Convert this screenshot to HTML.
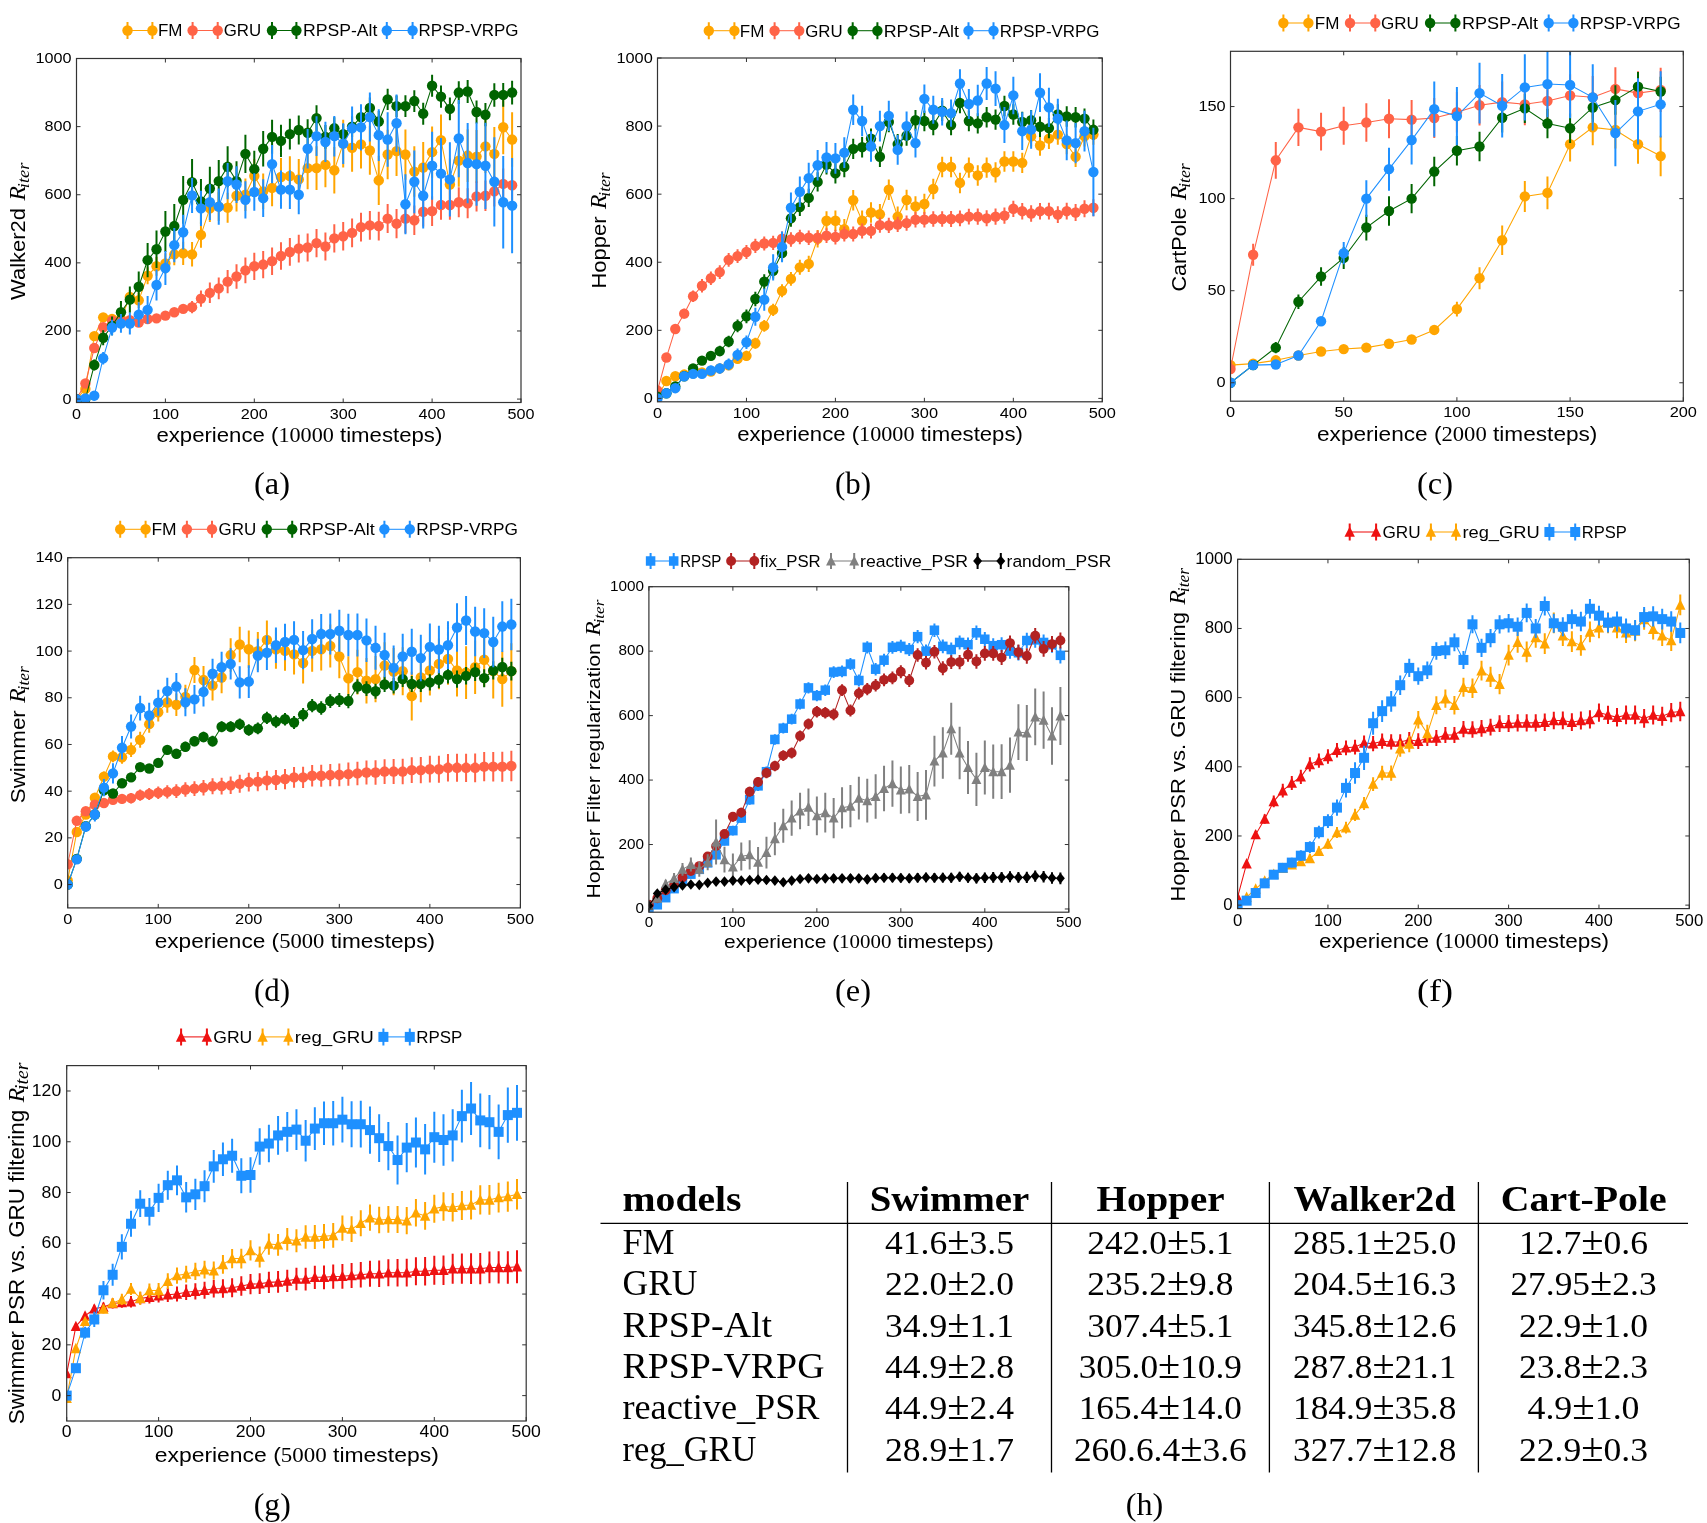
<!DOCTYPE html><html><head><meta charset="utf-8"><style>html,body{margin:0;padding:0;background:#fff;width:1707px;height:1523px;overflow:hidden}svg{display:block;will-change:transform}</style></head><body>
<svg width="1707" height="1523" viewBox="0 0 1707 1523">
<rect width="1707" height="1523" fill="#fff"/>
<g clip-path="url(#clipa)">
<clipPath id="clipa"><rect x="76.5" y="58.5" width="444.5" height="344"/></clipPath>
<path d="M76.5 400.8V397.39M85.39 391.43V386.32M94.28 339.49V332.68M103.17 321.61V313.09M112.06 324.16V313.95M120.95 325.01V313.09M129.84 303.73V290.1M138.73 307.99V292.66M147.62 284.31V267.28M156.51 275.63V256.9M165.4 273.76V253.32M174.29 265.24V243.44M183.18 264.9V241.74M192.07 266.6V242.08M200.96 247.87V221.99M209.85 221.99V194.74M218.74 220.96V192.35M227.63 222.67V192.69M236.52 211.43V180.09M245.41 211.09V178.39M254.3 193.03V158.98M263.19 209.04V173.62M272.08 206.32V169.53M280.97 196.1V157.95M289.86 195.76V156.25M298.75 199.85V158.98M307.64 189.29V147.05M316.53 189.97V146.37M325.42 187.24V142.29M334.31 193.38V147.05M343.2 167.49V119.81M352.09 171.76V123.71M360.98 168.53V120.13M369.87 174.84V126.08M378.76 204.99V155.87M387.65 179.29V129.81M396.54 176.06V126.22M405.43 179.64V129.45M414.32 196.85V146.3M423.21 192.95V142.04M432.1 177.8V126.53M440.99 166.06V114.43M449.88 210.51V158.53M458.77 186.85V134.51M467.66 181.92V129.22M476.55 183.12V130.06M485.44 173.08V119.66M494.33 180.76V126.98M503.22 154.37V100.23M512.11 166.81V112.31" stroke="#FFA500" stroke-width="2" fill="none"/>
<path d="M76.5 399.09L85.39 388.88L94.28 336.08L103.17 317.35L112.06 319.05L120.95 319.05L129.84 296.92L138.73 300.32L147.62 275.8L156.51 266.26L165.4 263.54L174.29 254.34L183.18 253.32L192.07 254.34L200.96 234.93L209.85 208.36L218.74 206.66L227.63 207.68L236.52 195.76L245.41 194.74L254.3 176L263.19 191.33L272.08 187.93L280.97 177.03L289.86 176L298.75 179.41L307.64 168.17L316.53 168.17L325.42 164.77L334.31 170.21L343.2 143.65L352.09 147.74L360.98 144.33L369.87 150.46L378.76 180.43L387.65 154.55L396.54 151.14L405.43 154.55L414.32 171.58L423.21 167.49L432.1 152.16L440.99 140.24L449.88 184.52L458.77 160.68L467.66 155.57L476.55 156.59L485.44 146.37L494.33 153.87L503.22 127.3L512.11 139.56" stroke="#FFA500" stroke-width="1.05" fill="none"/>
<circle cx="76.5" cy="399.09" r="5.2" fill="#FFA500"/>
<circle cx="85.39" cy="388.88" r="5.2" fill="#FFA500"/>
<circle cx="94.28" cy="336.08" r="5.2" fill="#FFA500"/>
<circle cx="103.17" cy="317.35" r="5.2" fill="#FFA500"/>
<circle cx="112.06" cy="319.05" r="5.2" fill="#FFA500"/>
<circle cx="120.95" cy="319.05" r="5.2" fill="#FFA500"/>
<circle cx="129.84" cy="296.92" r="5.2" fill="#FFA500"/>
<circle cx="138.73" cy="300.32" r="5.2" fill="#FFA500"/>
<circle cx="147.62" cy="275.8" r="5.2" fill="#FFA500"/>
<circle cx="156.51" cy="266.26" r="5.2" fill="#FFA500"/>
<circle cx="165.4" cy="263.54" r="5.2" fill="#FFA500"/>
<circle cx="174.29" cy="254.34" r="5.2" fill="#FFA500"/>
<circle cx="183.18" cy="253.32" r="5.2" fill="#FFA500"/>
<circle cx="192.07" cy="254.34" r="5.2" fill="#FFA500"/>
<circle cx="200.96" cy="234.93" r="5.2" fill="#FFA500"/>
<circle cx="209.85" cy="208.36" r="5.2" fill="#FFA500"/>
<circle cx="218.74" cy="206.66" r="5.2" fill="#FFA500"/>
<circle cx="227.63" cy="207.68" r="5.2" fill="#FFA500"/>
<circle cx="236.52" cy="195.76" r="5.2" fill="#FFA500"/>
<circle cx="245.41" cy="194.74" r="5.2" fill="#FFA500"/>
<circle cx="254.3" cy="176" r="5.2" fill="#FFA500"/>
<circle cx="263.19" cy="191.33" r="5.2" fill="#FFA500"/>
<circle cx="272.08" cy="187.93" r="5.2" fill="#FFA500"/>
<circle cx="280.97" cy="177.03" r="5.2" fill="#FFA500"/>
<circle cx="289.86" cy="176" r="5.2" fill="#FFA500"/>
<circle cx="298.75" cy="179.41" r="5.2" fill="#FFA500"/>
<circle cx="307.64" cy="168.17" r="5.2" fill="#FFA500"/>
<circle cx="316.53" cy="168.17" r="5.2" fill="#FFA500"/>
<circle cx="325.42" cy="164.77" r="5.2" fill="#FFA500"/>
<circle cx="334.31" cy="170.21" r="5.2" fill="#FFA500"/>
<circle cx="343.2" cy="143.65" r="5.2" fill="#FFA500"/>
<circle cx="352.09" cy="147.74" r="5.2" fill="#FFA500"/>
<circle cx="360.98" cy="144.33" r="5.2" fill="#FFA500"/>
<circle cx="369.87" cy="150.46" r="5.2" fill="#FFA500"/>
<circle cx="378.76" cy="180.43" r="5.2" fill="#FFA500"/>
<circle cx="387.65" cy="154.55" r="5.2" fill="#FFA500"/>
<circle cx="396.54" cy="151.14" r="5.2" fill="#FFA500"/>
<circle cx="405.43" cy="154.55" r="5.2" fill="#FFA500"/>
<circle cx="414.32" cy="171.58" r="5.2" fill="#FFA500"/>
<circle cx="423.21" cy="167.49" r="5.2" fill="#FFA500"/>
<circle cx="432.1" cy="152.16" r="5.2" fill="#FFA500"/>
<circle cx="440.99" cy="140.24" r="5.2" fill="#FFA500"/>
<circle cx="449.88" cy="184.52" r="5.2" fill="#FFA500"/>
<circle cx="458.77" cy="160.68" r="5.2" fill="#FFA500"/>
<circle cx="467.66" cy="155.57" r="5.2" fill="#FFA500"/>
<circle cx="476.55" cy="156.59" r="5.2" fill="#FFA500"/>
<circle cx="485.44" cy="146.37" r="5.2" fill="#FFA500"/>
<circle cx="494.33" cy="153.87" r="5.2" fill="#FFA500"/>
<circle cx="503.22" cy="127.3" r="5.2" fill="#FFA500"/>
<circle cx="512.11" cy="139.56" r="5.2" fill="#FFA500"/>
<path d="M76.5 400.8V397.39M85.39 385.7V381.16M94.28 350.84V345.17M103.17 330.63V323.82M112.06 324.24V317.28M120.95 323.63V316.52M129.84 323.71V316.44M138.73 326.17V318.75M147.62 322.84V315.27M156.51 322.23V314.51M165.4 319.58V311.71M174.29 316.25V308.23M183.18 312.92V304.75M192.07 313.26V301M200.96 306.79V290.44M209.85 303.05V282.61M218.74 299.3V277.5M227.63 293.17V270.01M236.52 288.74V264.22M245.41 283.29V257.41M254.3 279.89V252.64M263.19 278.24V250.88M272.08 274.89V247.41M280.97 269.84V242.24M289.86 265.82V238.1M298.75 262.47V234.63M307.64 261.51V233.55M316.53 257.14V229.07M325.42 260.6V232.41M334.31 252.49V224.18M343.2 250.5V222.08M352.09 247.15V218.61M360.98 241.42V212.77M369.87 239.78V211M378.76 240.52V211.63M387.65 233.08V204.07M396.54 238.25V209.12M405.43 233.2V203.96M414.32 234.96V205.6M423.21 226.51V197.03M432.1 225.88V196.29M440.99 219.81V190.1M449.88 219.87V190.04M458.77 217.21V187.26M467.66 218.29V188.22M476.55 211.53V181.35M485.44 210.91V180.61M494.33 206.54V176.12M503.22 199.11V168.57M512.11 200.53V169.87" stroke="#FF6347" stroke-width="2" fill="none"/>
<path d="M76.5 399.09L85.39 383.43L94.28 348L103.17 327.23L112.06 320.76L120.95 320.08L129.84 320.08L138.73 322.46L147.62 319.05L156.51 318.37L165.4 315.65L174.29 312.24L183.18 308.84L192.07 307.13L200.96 298.62L209.85 292.83L218.74 288.4L227.63 281.59L236.52 276.48L245.41 270.35L254.3 266.26L263.19 264.56L272.08 261.15L280.97 256.04L289.86 251.96L298.75 248.55L307.64 247.53L316.53 243.1L325.42 246.51L334.31 238.33L343.2 236.29L352.09 232.88L360.98 227.09L369.87 225.39L378.76 226.07L387.65 218.58L396.54 223.69L405.43 218.58L414.32 220.28L423.21 211.77L432.1 211.09L440.99 204.96L449.88 204.96L458.77 202.23L467.66 203.25L476.55 196.44L485.44 195.76L494.33 191.33L503.22 183.84L512.11 185.2" stroke="#FF6347" stroke-width="1.05" fill="none"/>
<circle cx="76.5" cy="399.09" r="5.2" fill="#FF6347"/>
<circle cx="85.39" cy="383.43" r="5.2" fill="#FF6347"/>
<circle cx="94.28" cy="348" r="5.2" fill="#FF6347"/>
<circle cx="103.17" cy="327.23" r="5.2" fill="#FF6347"/>
<circle cx="112.06" cy="320.76" r="5.2" fill="#FF6347"/>
<circle cx="120.95" cy="320.08" r="5.2" fill="#FF6347"/>
<circle cx="129.84" cy="320.08" r="5.2" fill="#FF6347"/>
<circle cx="138.73" cy="322.46" r="5.2" fill="#FF6347"/>
<circle cx="147.62" cy="319.05" r="5.2" fill="#FF6347"/>
<circle cx="156.51" cy="318.37" r="5.2" fill="#FF6347"/>
<circle cx="165.4" cy="315.65" r="5.2" fill="#FF6347"/>
<circle cx="174.29" cy="312.24" r="5.2" fill="#FF6347"/>
<circle cx="183.18" cy="308.84" r="5.2" fill="#FF6347"/>
<circle cx="192.07" cy="307.13" r="5.2" fill="#FF6347"/>
<circle cx="200.96" cy="298.62" r="5.2" fill="#FF6347"/>
<circle cx="209.85" cy="292.83" r="5.2" fill="#FF6347"/>
<circle cx="218.74" cy="288.4" r="5.2" fill="#FF6347"/>
<circle cx="227.63" cy="281.59" r="5.2" fill="#FF6347"/>
<circle cx="236.52" cy="276.48" r="5.2" fill="#FF6347"/>
<circle cx="245.41" cy="270.35" r="5.2" fill="#FF6347"/>
<circle cx="254.3" cy="266.26" r="5.2" fill="#FF6347"/>
<circle cx="263.19" cy="264.56" r="5.2" fill="#FF6347"/>
<circle cx="272.08" cy="261.15" r="5.2" fill="#FF6347"/>
<circle cx="280.97" cy="256.04" r="5.2" fill="#FF6347"/>
<circle cx="289.86" cy="251.96" r="5.2" fill="#FF6347"/>
<circle cx="298.75" cy="248.55" r="5.2" fill="#FF6347"/>
<circle cx="307.64" cy="247.53" r="5.2" fill="#FF6347"/>
<circle cx="316.53" cy="243.1" r="5.2" fill="#FF6347"/>
<circle cx="325.42" cy="246.51" r="5.2" fill="#FF6347"/>
<circle cx="334.31" cy="238.33" r="5.2" fill="#FF6347"/>
<circle cx="343.2" cy="236.29" r="5.2" fill="#FF6347"/>
<circle cx="352.09" cy="232.88" r="5.2" fill="#FF6347"/>
<circle cx="360.98" cy="227.09" r="5.2" fill="#FF6347"/>
<circle cx="369.87" cy="225.39" r="5.2" fill="#FF6347"/>
<circle cx="378.76" cy="226.07" r="5.2" fill="#FF6347"/>
<circle cx="387.65" cy="218.58" r="5.2" fill="#FF6347"/>
<circle cx="396.54" cy="223.69" r="5.2" fill="#FF6347"/>
<circle cx="405.43" cy="218.58" r="5.2" fill="#FF6347"/>
<circle cx="414.32" cy="220.28" r="5.2" fill="#FF6347"/>
<circle cx="423.21" cy="211.77" r="5.2" fill="#FF6347"/>
<circle cx="432.1" cy="211.09" r="5.2" fill="#FF6347"/>
<circle cx="440.99" cy="204.96" r="5.2" fill="#FF6347"/>
<circle cx="449.88" cy="204.96" r="5.2" fill="#FF6347"/>
<circle cx="458.77" cy="202.23" r="5.2" fill="#FF6347"/>
<circle cx="467.66" cy="203.25" r="5.2" fill="#FF6347"/>
<circle cx="476.55" cy="196.44" r="5.2" fill="#FF6347"/>
<circle cx="485.44" cy="195.76" r="5.2" fill="#FF6347"/>
<circle cx="494.33" cy="191.33" r="5.2" fill="#FF6347"/>
<circle cx="503.22" cy="183.84" r="5.2" fill="#FF6347"/>
<circle cx="512.11" cy="185.2" r="5.2" fill="#FF6347"/>
<path d="M76.5 400.8V397.39M85.39 402.71V395.48M94.28 370.57V359.5M103.17 345.24V330.34M112.06 335.23V316.5M120.95 323.52V300.96M129.84 312.84V286.44M138.73 301.81V271.58M147.62 277.16V243.1M156.51 267.97V230.5M165.4 251.96V211.09M174.29 248.21V203.93M183.18 223.69V176M192.07 205.3V158.98M200.96 224.03V179.07M209.85 210.4V166.81M218.74 202.23V160M227.63 187.24V146.37M236.52 200.87V161.36M245.41 172.94V134.79M254.3 187.59V150.8M263.19 166.47V131.05M272.08 153.87V119.81M280.97 157.1V124.75M289.86 149.44V118.79M298.75 144.5V115.55M307.64 146.37V119.13M316.53 130.88V105.33M325.42 148.76V124.92M334.31 139.39V117.25M343.2 144.33V123.89M352.09 136.93V116.31M360.98 127.48V106.69M369.87 118.37V97.4M378.76 132.09V110.93M387.65 110.04V88.71M396.54 116.94V95.43M405.43 117.03V95.34M414.32 112.01V90.14M423.21 124.7V102.65M432.1 96.86V74.63M440.99 107.85V85.44M449.88 120.2V97.61M458.77 103.94V81.18M467.66 103.01V80.06M476.55 123.54V100.41M485.44 126.35V103.05M494.33 106.69V83.2M503.22 106.77V83.11M512.11 104.48V80.64" stroke="#006400" stroke-width="2" fill="none"/>
<path d="M76.5 399.09L85.39 399.09L94.28 365.03L103.17 337.79L112.06 325.87L120.95 312.24L129.84 299.64L138.73 286.7L147.62 260.13L156.51 249.23L165.4 231.52L174.29 226.07L183.18 199.85L192.07 182.14L200.96 201.55L209.85 188.61L218.74 181.11L227.63 166.81L236.52 181.11L245.41 153.87L254.3 169.19L263.19 148.76L272.08 136.84L280.97 140.92L289.86 134.11L298.75 130.02L307.64 132.75L316.53 118.1L325.42 136.84L334.31 128.32L343.2 134.11L352.09 126.62L360.98 117.08L369.87 107.89L378.76 121.51L387.65 99.37L396.54 106.18L405.43 106.18L414.32 101.07L423.21 113.68L432.1 85.75L440.99 96.65L449.88 108.91L458.77 92.56L467.66 91.54L476.55 111.97L485.44 114.7L494.33 94.94L503.22 94.94L512.11 92.56" stroke="#006400" stroke-width="1.05" fill="none"/>
<circle cx="76.5" cy="399.09" r="5.2" fill="#006400"/>
<circle cx="85.39" cy="399.09" r="5.2" fill="#006400"/>
<circle cx="94.28" cy="365.03" r="5.2" fill="#006400"/>
<circle cx="103.17" cy="337.79" r="5.2" fill="#006400"/>
<circle cx="112.06" cy="325.87" r="5.2" fill="#006400"/>
<circle cx="120.95" cy="312.24" r="5.2" fill="#006400"/>
<circle cx="129.84" cy="299.64" r="5.2" fill="#006400"/>
<circle cx="138.73" cy="286.7" r="5.2" fill="#006400"/>
<circle cx="147.62" cy="260.13" r="5.2" fill="#006400"/>
<circle cx="156.51" cy="249.23" r="5.2" fill="#006400"/>
<circle cx="165.4" cy="231.52" r="5.2" fill="#006400"/>
<circle cx="174.29" cy="226.07" r="5.2" fill="#006400"/>
<circle cx="183.18" cy="199.85" r="5.2" fill="#006400"/>
<circle cx="192.07" cy="182.14" r="5.2" fill="#006400"/>
<circle cx="200.96" cy="201.55" r="5.2" fill="#006400"/>
<circle cx="209.85" cy="188.61" r="5.2" fill="#006400"/>
<circle cx="218.74" cy="181.11" r="5.2" fill="#006400"/>
<circle cx="227.63" cy="166.81" r="5.2" fill="#006400"/>
<circle cx="236.52" cy="181.11" r="5.2" fill="#006400"/>
<circle cx="245.41" cy="153.87" r="5.2" fill="#006400"/>
<circle cx="254.3" cy="169.19" r="5.2" fill="#006400"/>
<circle cx="263.19" cy="148.76" r="5.2" fill="#006400"/>
<circle cx="272.08" cy="136.84" r="5.2" fill="#006400"/>
<circle cx="280.97" cy="140.92" r="5.2" fill="#006400"/>
<circle cx="289.86" cy="134.11" r="5.2" fill="#006400"/>
<circle cx="298.75" cy="130.02" r="5.2" fill="#006400"/>
<circle cx="307.64" cy="132.75" r="5.2" fill="#006400"/>
<circle cx="316.53" cy="118.1" r="5.2" fill="#006400"/>
<circle cx="325.42" cy="136.84" r="5.2" fill="#006400"/>
<circle cx="334.31" cy="128.32" r="5.2" fill="#006400"/>
<circle cx="343.2" cy="134.11" r="5.2" fill="#006400"/>
<circle cx="352.09" cy="126.62" r="5.2" fill="#006400"/>
<circle cx="360.98" cy="117.08" r="5.2" fill="#006400"/>
<circle cx="369.87" cy="107.89" r="5.2" fill="#006400"/>
<circle cx="378.76" cy="121.51" r="5.2" fill="#006400"/>
<circle cx="387.65" cy="99.37" r="5.2" fill="#006400"/>
<circle cx="396.54" cy="106.18" r="5.2" fill="#006400"/>
<circle cx="405.43" cy="106.18" r="5.2" fill="#006400"/>
<circle cx="414.32" cy="101.07" r="5.2" fill="#006400"/>
<circle cx="423.21" cy="113.68" r="5.2" fill="#006400"/>
<circle cx="432.1" cy="85.75" r="5.2" fill="#006400"/>
<circle cx="440.99" cy="96.65" r="5.2" fill="#006400"/>
<circle cx="449.88" cy="108.91" r="5.2" fill="#006400"/>
<circle cx="458.77" cy="92.56" r="5.2" fill="#006400"/>
<circle cx="467.66" cy="91.54" r="5.2" fill="#006400"/>
<circle cx="476.55" cy="111.97" r="5.2" fill="#006400"/>
<circle cx="485.44" cy="114.7" r="5.2" fill="#006400"/>
<circle cx="494.33" cy="94.94" r="5.2" fill="#006400"/>
<circle cx="503.22" cy="94.94" r="5.2" fill="#006400"/>
<circle cx="512.11" cy="92.56" r="5.2" fill="#006400"/>
<path d="M76.5 400.8V397.39M85.39 401.65V395.18M94.28 400.46V390.92M103.17 364.52V351.92M112.06 335.4V319.74M120.95 332.85V314.12M129.84 334.38V312.58M138.73 327.06V302.2M147.62 323.82V295.89M156.51 300.49V269.5M165.4 285V250.94M174.29 262.35V227.95M183.18 249.57V214.83M192.07 212.96V177.88M200.96 226.07V190.65M209.85 220.11V184.35M218.74 224.71V188.61M227.63 199.34V162.89M236.52 202.91V166.13M245.41 218.41V181.28M254.3 210.75V173.28M263.19 217.05V179.24M272.08 183.16V145.01M280.97 208.87V170.39M289.86 209.04V170.21M298.75 214.32V175.15M307.64 168.51V129M316.53 156.08V116.23M325.42 162.04V121.85M334.31 156.42V115.89M343.2 164.08V123.21M352.09 150.12V106.52M360.98 150.46V104.14M369.87 141.6V92.56M378.76 161.02V109.25M387.65 166.81V112.31M396.54 151.82V94.6M405.43 234.25V174.3M414.32 213.13V150.46M423.21 228.46V163.06M432.1 199.85V131.73M440.99 209.19V138.05M449.88 216.5V142.32M458.77 177.14V99.94M467.66 203.18V122.95M476.55 205.71V122.46M485.44 208.93V122.65M494.33 226.45V137.14M503.22 248.4V156.06M512.11 253.32V157.95" stroke="#1E90FF" stroke-width="2" fill="none"/>
<path d="M76.5 399.09L85.39 398.41L94.28 395.69L103.17 358.22L112.06 327.57L120.95 323.48L129.84 323.48L138.73 314.63L147.62 309.86L156.51 285L165.4 267.97L174.29 245.15L183.18 232.2L192.07 195.42L200.96 208.36L209.85 202.23L218.74 206.66L227.63 181.11L236.52 184.52L245.41 199.85L254.3 192.01L263.19 198.14L272.08 164.08L280.97 189.63L289.86 189.63L298.75 194.74L307.64 148.76L316.53 136.16L325.42 141.95L334.31 136.16L343.2 143.65L352.09 128.32L360.98 127.3L369.87 117.08L378.76 135.13L387.65 139.56L396.54 123.21L405.43 204.27L414.32 181.8L423.21 195.76L432.1 165.79L440.99 173.62L449.88 179.41L458.77 138.54L467.66 163.06L476.55 164.08L485.44 165.79L494.33 181.8L503.22 202.23L512.11 205.64" stroke="#1E90FF" stroke-width="1.05" fill="none"/>
<circle cx="76.5" cy="399.09" r="5.2" fill="#1E90FF"/>
<circle cx="85.39" cy="398.41" r="5.2" fill="#1E90FF"/>
<circle cx="94.28" cy="395.69" r="5.2" fill="#1E90FF"/>
<circle cx="103.17" cy="358.22" r="5.2" fill="#1E90FF"/>
<circle cx="112.06" cy="327.57" r="5.2" fill="#1E90FF"/>
<circle cx="120.95" cy="323.48" r="5.2" fill="#1E90FF"/>
<circle cx="129.84" cy="323.48" r="5.2" fill="#1E90FF"/>
<circle cx="138.73" cy="314.63" r="5.2" fill="#1E90FF"/>
<circle cx="147.62" cy="309.86" r="5.2" fill="#1E90FF"/>
<circle cx="156.51" cy="285" r="5.2" fill="#1E90FF"/>
<circle cx="165.4" cy="267.97" r="5.2" fill="#1E90FF"/>
<circle cx="174.29" cy="245.15" r="5.2" fill="#1E90FF"/>
<circle cx="183.18" cy="232.2" r="5.2" fill="#1E90FF"/>
<circle cx="192.07" cy="195.42" r="5.2" fill="#1E90FF"/>
<circle cx="200.96" cy="208.36" r="5.2" fill="#1E90FF"/>
<circle cx="209.85" cy="202.23" r="5.2" fill="#1E90FF"/>
<circle cx="218.74" cy="206.66" r="5.2" fill="#1E90FF"/>
<circle cx="227.63" cy="181.11" r="5.2" fill="#1E90FF"/>
<circle cx="236.52" cy="184.52" r="5.2" fill="#1E90FF"/>
<circle cx="245.41" cy="199.85" r="5.2" fill="#1E90FF"/>
<circle cx="254.3" cy="192.01" r="5.2" fill="#1E90FF"/>
<circle cx="263.19" cy="198.14" r="5.2" fill="#1E90FF"/>
<circle cx="272.08" cy="164.08" r="5.2" fill="#1E90FF"/>
<circle cx="280.97" cy="189.63" r="5.2" fill="#1E90FF"/>
<circle cx="289.86" cy="189.63" r="5.2" fill="#1E90FF"/>
<circle cx="298.75" cy="194.74" r="5.2" fill="#1E90FF"/>
<circle cx="307.64" cy="148.76" r="5.2" fill="#1E90FF"/>
<circle cx="316.53" cy="136.16" r="5.2" fill="#1E90FF"/>
<circle cx="325.42" cy="141.95" r="5.2" fill="#1E90FF"/>
<circle cx="334.31" cy="136.16" r="5.2" fill="#1E90FF"/>
<circle cx="343.2" cy="143.65" r="5.2" fill="#1E90FF"/>
<circle cx="352.09" cy="128.32" r="5.2" fill="#1E90FF"/>
<circle cx="360.98" cy="127.3" r="5.2" fill="#1E90FF"/>
<circle cx="369.87" cy="117.08" r="5.2" fill="#1E90FF"/>
<circle cx="378.76" cy="135.13" r="5.2" fill="#1E90FF"/>
<circle cx="387.65" cy="139.56" r="5.2" fill="#1E90FF"/>
<circle cx="396.54" cy="123.21" r="5.2" fill="#1E90FF"/>
<circle cx="405.43" cy="204.27" r="5.2" fill="#1E90FF"/>
<circle cx="414.32" cy="181.8" r="5.2" fill="#1E90FF"/>
<circle cx="423.21" cy="195.76" r="5.2" fill="#1E90FF"/>
<circle cx="432.1" cy="165.79" r="5.2" fill="#1E90FF"/>
<circle cx="440.99" cy="173.62" r="5.2" fill="#1E90FF"/>
<circle cx="449.88" cy="179.41" r="5.2" fill="#1E90FF"/>
<circle cx="458.77" cy="138.54" r="5.2" fill="#1E90FF"/>
<circle cx="467.66" cy="163.06" r="5.2" fill="#1E90FF"/>
<circle cx="476.55" cy="164.08" r="5.2" fill="#1E90FF"/>
<circle cx="485.44" cy="165.79" r="5.2" fill="#1E90FF"/>
<circle cx="494.33" cy="181.8" r="5.2" fill="#1E90FF"/>
<circle cx="503.22" cy="202.23" r="5.2" fill="#1E90FF"/>
<circle cx="512.11" cy="205.64" r="5.2" fill="#1E90FF"/>
</g>
<rect x="76.5" y="58.5" width="444.5" height="344" fill="none" stroke="#333333" stroke-width="1.2"/>
<path d="M76.5 402.5v-4M76.5 58.5v4M165.4 402.5v-4M165.4 58.5v4M254.3 402.5v-4M254.3 58.5v4M343.2 402.5v-4M343.2 58.5v4M432.1 402.5v-4M432.1 58.5v4M521 402.5v-4M521 58.5v4M76.5 399.09h4M521 399.09h-4M76.5 330.98h4M521 330.98h-4M76.5 262.86h4M521 262.86h-4M76.5 194.74h4M521 194.74h-4M76.5 126.62h4M521 126.62h-4M76.5 58.5h4M521 58.5h-4" stroke="#333333" stroke-width="1" fill="none"/>
<text x="76.5" y="418.5" font-size="15.37" font-family='"Liberation Sans", sans-serif' text-anchor="middle" textLength="9" lengthAdjust="spacingAndGlyphs">0</text>
<text x="165.4" y="418.5" font-size="15.37" font-family='"Liberation Sans", sans-serif' text-anchor="middle" textLength="27" lengthAdjust="spacingAndGlyphs">100</text>
<text x="254.3" y="418.5" font-size="15.37" font-family='"Liberation Sans", sans-serif' text-anchor="middle" textLength="27" lengthAdjust="spacingAndGlyphs">200</text>
<text x="343.2" y="418.5" font-size="15.37" font-family='"Liberation Sans", sans-serif' text-anchor="middle" textLength="27" lengthAdjust="spacingAndGlyphs">300</text>
<text x="432.1" y="418.5" font-size="15.37" font-family='"Liberation Sans", sans-serif' text-anchor="middle" textLength="27" lengthAdjust="spacingAndGlyphs">400</text>
<text x="521" y="418.5" font-size="15.37" font-family='"Liberation Sans", sans-serif' text-anchor="middle" textLength="27" lengthAdjust="spacingAndGlyphs">500</text>
<text x="71.5" y="403.6" font-size="15.37" font-family='"Liberation Sans", sans-serif' text-anchor="end" textLength="9" lengthAdjust="spacingAndGlyphs">0</text>
<text x="71.5" y="335.48" font-size="15.37" font-family='"Liberation Sans", sans-serif' text-anchor="end" textLength="27" lengthAdjust="spacingAndGlyphs">200</text>
<text x="71.5" y="267.36" font-size="15.37" font-family='"Liberation Sans", sans-serif' text-anchor="end" textLength="27" lengthAdjust="spacingAndGlyphs">400</text>
<text x="71.5" y="199.24" font-size="15.37" font-family='"Liberation Sans", sans-serif' text-anchor="end" textLength="27" lengthAdjust="spacingAndGlyphs">600</text>
<text x="71.5" y="131.12" font-size="15.37" font-family='"Liberation Sans", sans-serif' text-anchor="end" textLength="27" lengthAdjust="spacingAndGlyphs">800</text>
<text x="71.5" y="63" font-size="15.37" font-family='"Liberation Sans", sans-serif' text-anchor="end" textLength="36" lengthAdjust="spacingAndGlyphs">1000</text>
<path d="M127.5 30.5H152.4" stroke="#FFA500" stroke-width="1.05"/>
<path d="M127.5 22v17M152.4 22v17" stroke="#FFA500" stroke-width="2"/>
<circle cx="127.5" cy="30.5" r="5.2" fill="#FFA500"/>
<circle cx="152.4" cy="30.5" r="5.2" fill="#FFA500"/>
<text x="158" y="36.44" font-size="16.5" font-family='"Liberation Sans", sans-serif' text-anchor="start" textLength="24.5" lengthAdjust="spacingAndGlyphs">FM</text>
<path d="M192.6 30.5H217.7" stroke="#FF6347" stroke-width="1.05"/>
<path d="M192.6 22v17M217.7 22v17" stroke="#FF6347" stroke-width="2"/>
<circle cx="192.6" cy="30.5" r="5.2" fill="#FF6347"/>
<circle cx="217.7" cy="30.5" r="5.2" fill="#FF6347"/>
<text x="223.7" y="36.44" font-size="16.5" font-family='"Liberation Sans", sans-serif' text-anchor="start" textLength="37.5" lengthAdjust="spacingAndGlyphs">GRU</text>
<path d="M272 30.5H296.4" stroke="#006400" stroke-width="1.05"/>
<path d="M272 22v17M296.4 22v17" stroke="#006400" stroke-width="2"/>
<circle cx="272" cy="30.5" r="5.2" fill="#006400"/>
<circle cx="296.4" cy="30.5" r="5.2" fill="#006400"/>
<text x="303" y="36.44" font-size="16.5" font-family='"Liberation Sans", sans-serif' text-anchor="start" textLength="74.4" lengthAdjust="spacingAndGlyphs">RPSP-Alt</text>
<path d="M386.8 30.5H412.6" stroke="#1E90FF" stroke-width="1.05"/>
<path d="M386.8 22v17M412.6 22v17" stroke="#1E90FF" stroke-width="2"/>
<circle cx="386.8" cy="30.5" r="5.2" fill="#1E90FF"/>
<circle cx="412.6" cy="30.5" r="5.2" fill="#1E90FF"/>
<text x="418.6" y="36.44" font-size="16.5" font-family='"Liberation Sans", sans-serif' text-anchor="start" textLength="99.8" lengthAdjust="spacingAndGlyphs">RPSP-VRPG</text>
<g transform="translate(25 300) rotate(-90)">
<text x="0" y="0" font-size="21" font-family='"Liberation Sans", sans-serif' text-anchor="start" textLength="92" lengthAdjust="spacingAndGlyphs">Walker2d</text>
<text x="99.5" y="0" font-size="22.05" font-family='"Liberation Serif", serif' text-anchor="start" textLength="14.5" lengthAdjust="spacingAndGlyphs" font-style="italic">R</text>
<text x="111.8" y="4.2" font-size="16.8" font-family='"Liberation Serif", serif' text-anchor="start" textLength="25.6" lengthAdjust="spacingAndGlyphs" font-style="italic">iter</text>
</g>
<text x="156.4" y="441.7" font-size="21" font-family='"Liberation Sans", sans-serif' textLength="285.9" lengthAdjust="spacingAndGlyphs">experience (<tspan font-family='"Liberation Serif", serif'>10000</tspan> timesteps)</text>
<text x="272" y="494" font-size="31" font-family='"Liberation Serif", serif' text-anchor="middle" textLength="36" lengthAdjust="spacingAndGlyphs">(a)</text>
<g clip-path="url(#clipb)">
<clipPath id="clipb"><rect x="657.5" y="58" width="444.8" height="343.8"/></clipPath>
<path d="M657.5 398.4V394.99M666.4 383.08V378.99M675.29 378.65V373.89M684.19 377.29V371.85M693.08 376.27V370.14M701.98 375.93V369.12M710.88 375.25V367.76M719.77 372.53V364.36M728.67 369.8V360.95M737.56 363.68V354.14M746.46 360.95V350.74M755.36 348.7V337.81M764.25 331.68V320.1M773.15 316.02V303.77M782.04 297.3V284.36M790.94 285.72V272.11M799.84 274.83V259.85M808.73 272.11V255.77M817.63 247.6V229.9M826.52 230.24V211.18M835.42 230.92V210.5M844.32 239.43V219.01M853.21 210.5V190.07M862.11 230.92V210.5M871 222.75V202.33M879.9 224.45V204.03M888.8 199.95V179.52M897.69 226.84V206.41M906.59 210.16V189.73M915.48 216.62V196.2M924.38 214.24V193.82M933.28 199.26V178.84M942.17 177.14V156.71M951.07 177.14V156.71M959.96 193.14V172.71M968.86 177.82V157.4M977.76 185.65V165.22M986.65 177.82V157.4M995.55 182.58V162.16M1004.44 171.69V151.27M1013.34 171.69V151.27M1022.24 173.05V152.63M1031.13 146.5V126.08M1040.03 155.69V135.27M1048.92 148.89V128.46M1057.82 144.8V124.38M1066.72 154.33V133.91M1075.61 166.93V146.5M1084.51 146.5V126.08M1093.4 144.8V124.38" stroke="#FFA500" stroke-width="2" fill="none"/>
<path d="M657.5 396.69L666.4 381.04L675.29 376.27L684.19 374.57L693.08 373.21L701.98 372.53L710.88 371.5L719.77 368.44L728.67 365.38L737.56 358.91L746.46 355.85L755.36 343.25L764.25 325.89L773.15 309.89L782.04 290.83L790.94 278.92L799.84 267.34L808.73 263.94L817.63 238.75L826.52 220.71L835.42 220.71L844.32 229.22L853.21 200.29L862.11 220.71L871 212.54L879.9 214.24L888.8 189.73L897.69 216.62L906.59 199.95L915.48 206.41L924.38 204.03L933.28 189.05L942.17 166.93L951.07 166.93L959.96 182.93L968.86 167.61L977.76 175.44L986.65 167.61L995.55 172.37L1004.44 161.48L1013.34 161.48L1022.24 162.84L1031.13 136.29L1040.03 145.48L1048.92 138.67L1057.82 134.59L1066.72 144.12L1075.61 156.71L1084.51 136.29L1093.4 134.59" stroke="#FFA500" stroke-width="1.05" fill="none"/>
<circle cx="657.5" cy="396.69" r="5.2" fill="#FFA500"/>
<circle cx="666.4" cy="381.04" r="5.2" fill="#FFA500"/>
<circle cx="675.29" cy="376.27" r="5.2" fill="#FFA500"/>
<circle cx="684.19" cy="374.57" r="5.2" fill="#FFA500"/>
<circle cx="693.08" cy="373.21" r="5.2" fill="#FFA500"/>
<circle cx="701.98" cy="372.53" r="5.2" fill="#FFA500"/>
<circle cx="710.88" cy="371.5" r="5.2" fill="#FFA500"/>
<circle cx="719.77" cy="368.44" r="5.2" fill="#FFA500"/>
<circle cx="728.67" cy="365.38" r="5.2" fill="#FFA500"/>
<circle cx="737.56" cy="358.91" r="5.2" fill="#FFA500"/>
<circle cx="746.46" cy="355.85" r="5.2" fill="#FFA500"/>
<circle cx="755.36" cy="343.25" r="5.2" fill="#FFA500"/>
<circle cx="764.25" cy="325.89" r="5.2" fill="#FFA500"/>
<circle cx="773.15" cy="309.89" r="5.2" fill="#FFA500"/>
<circle cx="782.04" cy="290.83" r="5.2" fill="#FFA500"/>
<circle cx="790.94" cy="278.92" r="5.2" fill="#FFA500"/>
<circle cx="799.84" cy="267.34" r="5.2" fill="#FFA500"/>
<circle cx="808.73" cy="263.94" r="5.2" fill="#FFA500"/>
<circle cx="817.63" cy="238.75" r="5.2" fill="#FFA500"/>
<circle cx="826.52" cy="220.71" r="5.2" fill="#FFA500"/>
<circle cx="835.42" cy="220.71" r="5.2" fill="#FFA500"/>
<circle cx="844.32" cy="229.22" r="5.2" fill="#FFA500"/>
<circle cx="853.21" cy="200.29" r="5.2" fill="#FFA500"/>
<circle cx="862.11" cy="220.71" r="5.2" fill="#FFA500"/>
<circle cx="871" cy="212.54" r="5.2" fill="#FFA500"/>
<circle cx="879.9" cy="214.24" r="5.2" fill="#FFA500"/>
<circle cx="888.8" cy="189.73" r="5.2" fill="#FFA500"/>
<circle cx="897.69" cy="216.62" r="5.2" fill="#FFA500"/>
<circle cx="906.59" cy="199.95" r="5.2" fill="#FFA500"/>
<circle cx="915.48" cy="206.41" r="5.2" fill="#FFA500"/>
<circle cx="924.38" cy="204.03" r="5.2" fill="#FFA500"/>
<circle cx="933.28" cy="189.05" r="5.2" fill="#FFA500"/>
<circle cx="942.17" cy="166.93" r="5.2" fill="#FFA500"/>
<circle cx="951.07" cy="166.93" r="5.2" fill="#FFA500"/>
<circle cx="959.96" cy="182.93" r="5.2" fill="#FFA500"/>
<circle cx="968.86" cy="167.61" r="5.2" fill="#FFA500"/>
<circle cx="977.76" cy="175.44" r="5.2" fill="#FFA500"/>
<circle cx="986.65" cy="167.61" r="5.2" fill="#FFA500"/>
<circle cx="995.55" cy="172.37" r="5.2" fill="#FFA500"/>
<circle cx="1004.44" cy="161.48" r="5.2" fill="#FFA500"/>
<circle cx="1013.34" cy="161.48" r="5.2" fill="#FFA500"/>
<circle cx="1022.24" cy="162.84" r="5.2" fill="#FFA500"/>
<circle cx="1031.13" cy="136.29" r="5.2" fill="#FFA500"/>
<circle cx="1040.03" cy="145.48" r="5.2" fill="#FFA500"/>
<circle cx="1048.92" cy="138.67" r="5.2" fill="#FFA500"/>
<circle cx="1057.82" cy="134.59" r="5.2" fill="#FFA500"/>
<circle cx="1066.72" cy="144.12" r="5.2" fill="#FFA500"/>
<circle cx="1075.61" cy="156.71" r="5.2" fill="#FFA500"/>
<circle cx="1084.51" cy="136.29" r="5.2" fill="#FFA500"/>
<circle cx="1093.4" cy="134.59" r="5.2" fill="#FFA500"/>
<path d="M657.5 392.27V388.86M666.4 360.27V354.83M675.29 332.7V325.21M684.19 318.4V308.87M693.08 302.06V290.49M701.98 292.53V278.92M710.88 285.08V271.39M719.77 278.99V265.22M728.67 266.78V252.93M737.56 263.07V249.15M746.46 259.03V245.02M755.36 252.94V238.86M764.25 250.59V236.44M773.15 249.95V235.72M782.04 245.91V231.59M790.94 246.63V232.24M799.84 244.28V229.81M808.73 245V230.46M817.63 245.04V230.42M826.52 243.04V228.34M835.42 244.44V229.66M844.32 241.41V226.56M853.21 241.45V226.52M862.11 238.43V223.42M871 238.46V223.38M879.9 232.72V217.55M888.8 233.1V217.85M897.69 232.11V216.79M906.59 230.79V215.39M915.48 227.42V211.95M924.38 227.46V211.91M933.28 226.82V211.19M942.17 226.86V211.16M951.07 226.9V211.12M959.96 226.26V210.4M968.86 224.59V208.66M977.76 224.63V208.62M986.65 226.37V210.28M995.55 224.71V208.54M1004.44 223.73V207.48M1013.34 216.96V200.63M1022.24 219.38V202.98M1031.13 221.8V205.32M1040.03 219.46V202.9M1048.92 219.49V202.86M1057.82 222.94V206.23M1066.72 219.57V202.78M1075.61 220.97V204.11M1084.51 217.27V200.32M1093.4 216.28V199.26" stroke="#FF6347" stroke-width="2" fill="none"/>
<path d="M657.5 390.57L666.4 357.55L675.29 328.96L684.19 313.64L693.08 296.28L701.98 285.72L710.88 278.24L719.77 272.11L728.67 259.85L737.56 256.11L746.46 252.03L755.36 245.9L764.25 243.52L773.15 242.84L782.04 238.75L790.94 239.43L799.84 237.05L808.73 237.73L817.63 237.73L826.52 235.69L835.42 237.05L844.32 233.98L853.21 233.98L862.11 230.92L871 230.92L879.9 225.13L888.8 225.47L897.69 224.45L906.59 223.09L915.48 219.69L924.38 219.69L933.28 219.01L942.17 219.01L951.07 219.01L959.96 218.33L968.86 216.62L977.76 216.62L986.65 218.33L995.55 216.62L1004.44 215.6L1013.34 208.8L1022.24 211.18L1031.13 213.56L1040.03 211.18L1048.92 211.18L1057.82 214.58L1066.72 211.18L1075.61 212.54L1084.51 208.8L1093.4 207.77" stroke="#FF6347" stroke-width="1.05" fill="none"/>
<circle cx="657.5" cy="390.57" r="5.2" fill="#FF6347"/>
<circle cx="666.4" cy="357.55" r="5.2" fill="#FF6347"/>
<circle cx="675.29" cy="328.96" r="5.2" fill="#FF6347"/>
<circle cx="684.19" cy="313.64" r="5.2" fill="#FF6347"/>
<circle cx="693.08" cy="296.28" r="5.2" fill="#FF6347"/>
<circle cx="701.98" cy="285.72" r="5.2" fill="#FF6347"/>
<circle cx="710.88" cy="278.24" r="5.2" fill="#FF6347"/>
<circle cx="719.77" cy="272.11" r="5.2" fill="#FF6347"/>
<circle cx="728.67" cy="259.85" r="5.2" fill="#FF6347"/>
<circle cx="737.56" cy="256.11" r="5.2" fill="#FF6347"/>
<circle cx="746.46" cy="252.03" r="5.2" fill="#FF6347"/>
<circle cx="755.36" cy="245.9" r="5.2" fill="#FF6347"/>
<circle cx="764.25" cy="243.52" r="5.2" fill="#FF6347"/>
<circle cx="773.15" cy="242.84" r="5.2" fill="#FF6347"/>
<circle cx="782.04" cy="238.75" r="5.2" fill="#FF6347"/>
<circle cx="790.94" cy="239.43" r="5.2" fill="#FF6347"/>
<circle cx="799.84" cy="237.05" r="5.2" fill="#FF6347"/>
<circle cx="808.73" cy="237.73" r="5.2" fill="#FF6347"/>
<circle cx="817.63" cy="237.73" r="5.2" fill="#FF6347"/>
<circle cx="826.52" cy="235.69" r="5.2" fill="#FF6347"/>
<circle cx="835.42" cy="237.05" r="5.2" fill="#FF6347"/>
<circle cx="844.32" cy="233.98" r="5.2" fill="#FF6347"/>
<circle cx="853.21" cy="233.98" r="5.2" fill="#FF6347"/>
<circle cx="862.11" cy="230.92" r="5.2" fill="#FF6347"/>
<circle cx="871" cy="230.92" r="5.2" fill="#FF6347"/>
<circle cx="879.9" cy="225.13" r="5.2" fill="#FF6347"/>
<circle cx="888.8" cy="225.47" r="5.2" fill="#FF6347"/>
<circle cx="897.69" cy="224.45" r="5.2" fill="#FF6347"/>
<circle cx="906.59" cy="223.09" r="5.2" fill="#FF6347"/>
<circle cx="915.48" cy="219.69" r="5.2" fill="#FF6347"/>
<circle cx="924.38" cy="219.69" r="5.2" fill="#FF6347"/>
<circle cx="933.28" cy="219.01" r="5.2" fill="#FF6347"/>
<circle cx="942.17" cy="219.01" r="5.2" fill="#FF6347"/>
<circle cx="951.07" cy="219.01" r="5.2" fill="#FF6347"/>
<circle cx="959.96" cy="218.33" r="5.2" fill="#FF6347"/>
<circle cx="968.86" cy="216.62" r="5.2" fill="#FF6347"/>
<circle cx="977.76" cy="216.62" r="5.2" fill="#FF6347"/>
<circle cx="986.65" cy="218.33" r="5.2" fill="#FF6347"/>
<circle cx="995.55" cy="216.62" r="5.2" fill="#FF6347"/>
<circle cx="1004.44" cy="215.6" r="5.2" fill="#FF6347"/>
<circle cx="1013.34" cy="208.8" r="5.2" fill="#FF6347"/>
<circle cx="1022.24" cy="211.18" r="5.2" fill="#FF6347"/>
<circle cx="1031.13" cy="213.56" r="5.2" fill="#FF6347"/>
<circle cx="1040.03" cy="211.18" r="5.2" fill="#FF6347"/>
<circle cx="1048.92" cy="211.18" r="5.2" fill="#FF6347"/>
<circle cx="1057.82" cy="214.58" r="5.2" fill="#FF6347"/>
<circle cx="1066.72" cy="211.18" r="5.2" fill="#FF6347"/>
<circle cx="1075.61" cy="212.54" r="5.2" fill="#FF6347"/>
<circle cx="1084.51" cy="208.8" r="5.2" fill="#FF6347"/>
<circle cx="1093.4" cy="207.77" r="5.2" fill="#FF6347"/>
<path d="M657.5 398.4V394.99M666.4 395.5V391.08M675.29 389.21V383.76M684.19 379.5V373.04M693.08 372.19V364.7M701.98 364.87V356.36M710.88 360.61V351.08M719.77 356.36V345.8M728.67 347.34V335.76M737.56 332.19V319.59M746.46 323.17V309.55M755.36 306.15V291.85M764.25 289.13V274.15M773.15 278.58V262.92M782.04 261.22V244.88M790.94 226.84V209.82M799.84 215.94V198.24M808.73 207.09V188.71M817.63 191.44V172.37M826.52 174.42V154.67M835.42 183.61V163.18M844.32 177.14V156.71M853.21 159.1V138.67M862.11 157.4V136.97M871 148.89V128.46M879.9 166.93V146.5M888.8 132.21V111.78M897.69 154.33V133.91M906.59 145.82V125.4M915.48 130.5V110.08M924.38 131.19V110.76M933.28 135.27V114.85M942.17 120.97V100.55M951.07 135.27V114.85M959.96 113.14V92.72M968.86 131.19V110.76M977.76 133.57V113.14M986.65 127.44V107.02M995.55 129.82V109.4M1004.44 116.21V95.78M1013.34 124.72V104.29M1022.24 132.21V111.78M1031.13 130.5V110.08M1040.03 136.97V116.55M1048.92 138.33V117.91M1057.82 124.72V104.29M1066.72 126.76V106.34M1075.61 127.44V107.02M1084.51 128.8V108.38M1093.4 140.04V119.61" stroke="#006400" stroke-width="2" fill="none"/>
<path d="M657.5 396.69L666.4 393.29L675.29 386.48L684.19 376.27L693.08 368.44L701.98 360.61L710.88 355.85L719.77 351.08L728.67 341.55L737.56 325.89L746.46 316.36L755.36 299L764.25 281.64L773.15 270.75L782.04 253.05L790.94 218.33L799.84 207.09L808.73 197.9L817.63 181.9L826.52 164.54L835.42 173.39L844.32 166.93L853.21 148.89L862.11 147.18L871 138.67L879.9 156.71L888.8 121.99L897.69 144.12L906.59 135.61L915.48 120.29L924.38 120.97L933.28 125.06L942.17 110.76L951.07 125.06L959.96 102.93L968.86 120.97L977.76 123.36L986.65 117.23L995.55 119.61L1004.44 106L1013.34 114.51L1022.24 121.99L1031.13 120.29L1040.03 126.76L1048.92 128.12L1057.82 114.51L1066.72 116.55L1075.61 117.23L1084.51 118.59L1093.4 129.82" stroke="#006400" stroke-width="1.05" fill="none"/>
<circle cx="657.5" cy="396.69" r="5.2" fill="#006400"/>
<circle cx="666.4" cy="393.29" r="5.2" fill="#006400"/>
<circle cx="675.29" cy="386.48" r="5.2" fill="#006400"/>
<circle cx="684.19" cy="376.27" r="5.2" fill="#006400"/>
<circle cx="693.08" cy="368.44" r="5.2" fill="#006400"/>
<circle cx="701.98" cy="360.61" r="5.2" fill="#006400"/>
<circle cx="710.88" cy="355.85" r="5.2" fill="#006400"/>
<circle cx="719.77" cy="351.08" r="5.2" fill="#006400"/>
<circle cx="728.67" cy="341.55" r="5.2" fill="#006400"/>
<circle cx="737.56" cy="325.89" r="5.2" fill="#006400"/>
<circle cx="746.46" cy="316.36" r="5.2" fill="#006400"/>
<circle cx="755.36" cy="299" r="5.2" fill="#006400"/>
<circle cx="764.25" cy="281.64" r="5.2" fill="#006400"/>
<circle cx="773.15" cy="270.75" r="5.2" fill="#006400"/>
<circle cx="782.04" cy="253.05" r="5.2" fill="#006400"/>
<circle cx="790.94" cy="218.33" r="5.2" fill="#006400"/>
<circle cx="799.84" cy="207.09" r="5.2" fill="#006400"/>
<circle cx="808.73" cy="197.9" r="5.2" fill="#006400"/>
<circle cx="817.63" cy="181.9" r="5.2" fill="#006400"/>
<circle cx="826.52" cy="164.54" r="5.2" fill="#006400"/>
<circle cx="835.42" cy="173.39" r="5.2" fill="#006400"/>
<circle cx="844.32" cy="166.93" r="5.2" fill="#006400"/>
<circle cx="853.21" cy="148.89" r="5.2" fill="#006400"/>
<circle cx="862.11" cy="147.18" r="5.2" fill="#006400"/>
<circle cx="871" cy="138.67" r="5.2" fill="#006400"/>
<circle cx="879.9" cy="156.71" r="5.2" fill="#006400"/>
<circle cx="888.8" cy="121.99" r="5.2" fill="#006400"/>
<circle cx="897.69" cy="144.12" r="5.2" fill="#006400"/>
<circle cx="906.59" cy="135.61" r="5.2" fill="#006400"/>
<circle cx="915.48" cy="120.29" r="5.2" fill="#006400"/>
<circle cx="924.38" cy="120.97" r="5.2" fill="#006400"/>
<circle cx="933.28" cy="125.06" r="5.2" fill="#006400"/>
<circle cx="942.17" cy="110.76" r="5.2" fill="#006400"/>
<circle cx="951.07" cy="125.06" r="5.2" fill="#006400"/>
<circle cx="959.96" cy="102.93" r="5.2" fill="#006400"/>
<circle cx="968.86" cy="120.97" r="5.2" fill="#006400"/>
<circle cx="977.76" cy="123.36" r="5.2" fill="#006400"/>
<circle cx="986.65" cy="117.23" r="5.2" fill="#006400"/>
<circle cx="995.55" cy="119.61" r="5.2" fill="#006400"/>
<circle cx="1004.44" cy="106" r="5.2" fill="#006400"/>
<circle cx="1013.34" cy="114.51" r="5.2" fill="#006400"/>
<circle cx="1022.24" cy="121.99" r="5.2" fill="#006400"/>
<circle cx="1031.13" cy="120.29" r="5.2" fill="#006400"/>
<circle cx="1040.03" cy="126.76" r="5.2" fill="#006400"/>
<circle cx="1048.92" cy="128.12" r="5.2" fill="#006400"/>
<circle cx="1057.82" cy="114.51" r="5.2" fill="#006400"/>
<circle cx="1066.72" cy="116.55" r="5.2" fill="#006400"/>
<circle cx="1075.61" cy="117.23" r="5.2" fill="#006400"/>
<circle cx="1084.51" cy="118.59" r="5.2" fill="#006400"/>
<circle cx="1093.4" cy="129.82" r="5.2" fill="#006400"/>
<path d="M657.5 400.1V396.69M666.4 395.5V391.08M675.29 390.91V385.46M684.19 379.5V373.04M693.08 377.63V370.14M701.98 378.14V369.63M710.88 375.25V365.72M719.77 373.72V363.17M728.67 370.14V358.57M737.56 361.12V348.53M746.46 349.04V335.42M755.36 325.64V307.77M764.25 310.74V288.62M773.15 280.53V254.15M782.04 262.24V231.6M790.94 223.09V192.46M799.84 207.09V176.46M808.73 193.48V162.84M817.63 180.54V149.91M826.52 172.71V142.08M835.42 173.73V143.1M844.32 167.95V137.31M853.21 125.06V94.42M862.11 136.29V105.66M871 161.82V131.19M879.9 141.4V110.76M888.8 130.97V100.76M897.69 164.8V135.01M906.59 140.76V111.4M915.48 157.57V128.63M924.38 113.1V84.59M933.28 123.78V95.7M942.17 125.61V97.95M951.07 126.76V99.53M959.96 97.87V69.18M968.86 119.03V88.88M977.76 116.35V84.75M986.65 100.06V67M995.55 105.9V71.37M1004.44 143.05V107.07M1013.34 114.17V76.72M1022.24 150.12V112.25M1031.13 148.63V110.34M1040.03 112.08V73.36M1048.92 126.93V87.78M1057.82 138.38V98.8M1066.72 160.37V120.38M1075.61 163.31V122.89M1084.51 151.61V110.76M1093.4 216.28V127.78" stroke="#1E90FF" stroke-width="2" fill="none"/>
<path d="M657.5 398.4L666.4 393.29L675.29 388.18L684.19 376.27L693.08 373.89L701.98 373.89L710.88 370.48L719.77 368.44L728.67 364.36L737.56 354.83L746.46 342.23L755.36 316.7L764.25 299.68L773.15 267.34L782.04 246.92L790.94 207.77L799.84 191.78L808.73 178.16L817.63 165.22L826.52 157.4L835.42 158.42L844.32 152.63L853.21 109.74L862.11 120.97L871 146.5L879.9 126.08L888.8 115.87L897.69 149.91L906.59 126.08L915.48 143.1L924.38 98.85L933.28 109.74L942.17 111.78L951.07 113.14L959.96 83.53L968.86 103.95L977.76 100.55L986.65 83.53L995.55 88.64L1004.44 125.06L1013.34 95.44L1022.24 131.19L1031.13 129.48L1040.03 92.72L1048.92 107.36L1057.82 118.59L1066.72 140.38L1075.61 143.1L1084.51 131.19L1093.4 172.03" stroke="#1E90FF" stroke-width="1.05" fill="none"/>
<circle cx="657.5" cy="398.4" r="5.2" fill="#1E90FF"/>
<circle cx="666.4" cy="393.29" r="5.2" fill="#1E90FF"/>
<circle cx="675.29" cy="388.18" r="5.2" fill="#1E90FF"/>
<circle cx="684.19" cy="376.27" r="5.2" fill="#1E90FF"/>
<circle cx="693.08" cy="373.89" r="5.2" fill="#1E90FF"/>
<circle cx="701.98" cy="373.89" r="5.2" fill="#1E90FF"/>
<circle cx="710.88" cy="370.48" r="5.2" fill="#1E90FF"/>
<circle cx="719.77" cy="368.44" r="5.2" fill="#1E90FF"/>
<circle cx="728.67" cy="364.36" r="5.2" fill="#1E90FF"/>
<circle cx="737.56" cy="354.83" r="5.2" fill="#1E90FF"/>
<circle cx="746.46" cy="342.23" r="5.2" fill="#1E90FF"/>
<circle cx="755.36" cy="316.7" r="5.2" fill="#1E90FF"/>
<circle cx="764.25" cy="299.68" r="5.2" fill="#1E90FF"/>
<circle cx="773.15" cy="267.34" r="5.2" fill="#1E90FF"/>
<circle cx="782.04" cy="246.92" r="5.2" fill="#1E90FF"/>
<circle cx="790.94" cy="207.77" r="5.2" fill="#1E90FF"/>
<circle cx="799.84" cy="191.78" r="5.2" fill="#1E90FF"/>
<circle cx="808.73" cy="178.16" r="5.2" fill="#1E90FF"/>
<circle cx="817.63" cy="165.22" r="5.2" fill="#1E90FF"/>
<circle cx="826.52" cy="157.4" r="5.2" fill="#1E90FF"/>
<circle cx="835.42" cy="158.42" r="5.2" fill="#1E90FF"/>
<circle cx="844.32" cy="152.63" r="5.2" fill="#1E90FF"/>
<circle cx="853.21" cy="109.74" r="5.2" fill="#1E90FF"/>
<circle cx="862.11" cy="120.97" r="5.2" fill="#1E90FF"/>
<circle cx="871" cy="146.5" r="5.2" fill="#1E90FF"/>
<circle cx="879.9" cy="126.08" r="5.2" fill="#1E90FF"/>
<circle cx="888.8" cy="115.87" r="5.2" fill="#1E90FF"/>
<circle cx="897.69" cy="149.91" r="5.2" fill="#1E90FF"/>
<circle cx="906.59" cy="126.08" r="5.2" fill="#1E90FF"/>
<circle cx="915.48" cy="143.1" r="5.2" fill="#1E90FF"/>
<circle cx="924.38" cy="98.85" r="5.2" fill="#1E90FF"/>
<circle cx="933.28" cy="109.74" r="5.2" fill="#1E90FF"/>
<circle cx="942.17" cy="111.78" r="5.2" fill="#1E90FF"/>
<circle cx="951.07" cy="113.14" r="5.2" fill="#1E90FF"/>
<circle cx="959.96" cy="83.53" r="5.2" fill="#1E90FF"/>
<circle cx="968.86" cy="103.95" r="5.2" fill="#1E90FF"/>
<circle cx="977.76" cy="100.55" r="5.2" fill="#1E90FF"/>
<circle cx="986.65" cy="83.53" r="5.2" fill="#1E90FF"/>
<circle cx="995.55" cy="88.64" r="5.2" fill="#1E90FF"/>
<circle cx="1004.44" cy="125.06" r="5.2" fill="#1E90FF"/>
<circle cx="1013.34" cy="95.44" r="5.2" fill="#1E90FF"/>
<circle cx="1022.24" cy="131.19" r="5.2" fill="#1E90FF"/>
<circle cx="1031.13" cy="129.48" r="5.2" fill="#1E90FF"/>
<circle cx="1040.03" cy="92.72" r="5.2" fill="#1E90FF"/>
<circle cx="1048.92" cy="107.36" r="5.2" fill="#1E90FF"/>
<circle cx="1057.82" cy="118.59" r="5.2" fill="#1E90FF"/>
<circle cx="1066.72" cy="140.38" r="5.2" fill="#1E90FF"/>
<circle cx="1075.61" cy="143.1" r="5.2" fill="#1E90FF"/>
<circle cx="1084.51" cy="131.19" r="5.2" fill="#1E90FF"/>
<circle cx="1093.4" cy="172.03" r="5.2" fill="#1E90FF"/>
</g>
<rect x="657.5" y="58" width="444.8" height="343.8" fill="none" stroke="#333333" stroke-width="1.2"/>
<path d="M657.5 401.8v-4M657.5 58v4M746.46 401.8v-4M746.46 58v4M835.42 401.8v-4M835.42 58v4M924.38 401.8v-4M924.38 58v4M1013.34 401.8v-4M1013.34 58v4M1102.3 401.8v-4M1102.3 58v4M657.5 398.4h4M1102.3 398.4h-4M657.5 330.32h4M1102.3 330.32h-4M657.5 262.24h4M1102.3 262.24h-4M657.5 194.16h4M1102.3 194.16h-4M657.5 126.08h4M1102.3 126.08h-4M657.5 58h4M1102.3 58h-4" stroke="#333333" stroke-width="1" fill="none"/>
<text x="657.5" y="417.8" font-size="15.54" font-family='"Liberation Sans", sans-serif' text-anchor="middle" textLength="9.1" lengthAdjust="spacingAndGlyphs">0</text>
<text x="746.46" y="417.8" font-size="15.54" font-family='"Liberation Sans", sans-serif' text-anchor="middle" textLength="27.3" lengthAdjust="spacingAndGlyphs">100</text>
<text x="835.42" y="417.8" font-size="15.54" font-family='"Liberation Sans", sans-serif' text-anchor="middle" textLength="27.3" lengthAdjust="spacingAndGlyphs">200</text>
<text x="924.38" y="417.8" font-size="15.54" font-family='"Liberation Sans", sans-serif' text-anchor="middle" textLength="27.3" lengthAdjust="spacingAndGlyphs">300</text>
<text x="1013.34" y="417.8" font-size="15.54" font-family='"Liberation Sans", sans-serif' text-anchor="middle" textLength="27.3" lengthAdjust="spacingAndGlyphs">400</text>
<text x="1102.3" y="417.8" font-size="15.54" font-family='"Liberation Sans", sans-serif' text-anchor="middle" textLength="27.3" lengthAdjust="spacingAndGlyphs">500</text>
<text x="652.8" y="402.96" font-size="15.54" font-family='"Liberation Sans", sans-serif' text-anchor="end" textLength="9.1" lengthAdjust="spacingAndGlyphs">0</text>
<text x="652.8" y="334.88" font-size="15.54" font-family='"Liberation Sans", sans-serif' text-anchor="end" textLength="27.3" lengthAdjust="spacingAndGlyphs">200</text>
<text x="652.8" y="266.8" font-size="15.54" font-family='"Liberation Sans", sans-serif' text-anchor="end" textLength="27.3" lengthAdjust="spacingAndGlyphs">400</text>
<text x="652.8" y="198.72" font-size="15.54" font-family='"Liberation Sans", sans-serif' text-anchor="end" textLength="27.3" lengthAdjust="spacingAndGlyphs">600</text>
<text x="652.8" y="130.64" font-size="15.54" font-family='"Liberation Sans", sans-serif' text-anchor="end" textLength="27.3" lengthAdjust="spacingAndGlyphs">800</text>
<text x="652.8" y="62.56" font-size="15.54" font-family='"Liberation Sans", sans-serif' text-anchor="end" textLength="36.4" lengthAdjust="spacingAndGlyphs">1000</text>
<path d="M708.8 30.7H734.4" stroke="#FFA500" stroke-width="1.05"/>
<path d="M708.8 22.2v17M734.4 22.2v17" stroke="#FFA500" stroke-width="2"/>
<circle cx="708.8" cy="30.7" r="5.2" fill="#FFA500"/>
<circle cx="734.4" cy="30.7" r="5.2" fill="#FFA500"/>
<text x="739.8" y="36.64" font-size="16.5" font-family='"Liberation Sans", sans-serif' text-anchor="start" textLength="24.6" lengthAdjust="spacingAndGlyphs">FM</text>
<path d="M774.6 30.7H799.2" stroke="#FF6347" stroke-width="1.05"/>
<path d="M774.6 22.2v17M799.2 22.2v17" stroke="#FF6347" stroke-width="2"/>
<circle cx="774.6" cy="30.7" r="5.2" fill="#FF6347"/>
<circle cx="799.2" cy="30.7" r="5.2" fill="#FF6347"/>
<text x="805.2" y="36.64" font-size="16.5" font-family='"Liberation Sans", sans-serif' text-anchor="start" textLength="37.4" lengthAdjust="spacingAndGlyphs">GRU</text>
<path d="M852.7 30.7H877.4" stroke="#006400" stroke-width="1.05"/>
<path d="M852.7 22.2v17M877.4 22.2v17" stroke="#006400" stroke-width="2"/>
<circle cx="852.7" cy="30.7" r="5.2" fill="#006400"/>
<circle cx="877.4" cy="30.7" r="5.2" fill="#006400"/>
<text x="883.7" y="36.64" font-size="16.5" font-family='"Liberation Sans", sans-serif' text-anchor="start" textLength="75.3" lengthAdjust="spacingAndGlyphs">RPSP-Alt</text>
<path d="M968.5 30.7H993.5" stroke="#1E90FF" stroke-width="1.05"/>
<path d="M968.5 22.2v17M993.5 22.2v17" stroke="#1E90FF" stroke-width="2"/>
<circle cx="968.5" cy="30.7" r="5.2" fill="#1E90FF"/>
<circle cx="993.5" cy="30.7" r="5.2" fill="#1E90FF"/>
<text x="999.8" y="36.64" font-size="16.5" font-family='"Liberation Sans", sans-serif' text-anchor="start" textLength="99.7" lengthAdjust="spacingAndGlyphs">RPSP-VRPG</text>
<g transform="translate(606 288.5) rotate(-90)">
<text x="0" y="0" font-size="21" font-family='"Liberation Sans", sans-serif' text-anchor="start" textLength="72" lengthAdjust="spacingAndGlyphs">Hopper</text>
<text x="79.5" y="0" font-size="22.05" font-family='"Liberation Serif", serif' text-anchor="start" textLength="14.5" lengthAdjust="spacingAndGlyphs" font-style="italic">R</text>
<text x="91.8" y="4.2" font-size="16.8" font-family='"Liberation Serif", serif' text-anchor="start" textLength="24.3" lengthAdjust="spacingAndGlyphs" font-style="italic">iter</text>
</g>
<text x="737.2" y="441.3" font-size="21" font-family='"Liberation Sans", sans-serif' textLength="285.7" lengthAdjust="spacingAndGlyphs">experience (<tspan font-family='"Liberation Serif", serif'>10000</tspan> timesteps)</text>
<text x="853" y="494" font-size="31" font-family='"Liberation Serif", serif' text-anchor="middle" textLength="36" lengthAdjust="spacingAndGlyphs">(b)</text>
<g clip-path="url(#clipc)">
<clipPath id="clipc"><rect x="1230.5" y="51.3" width="452.8" height="349.9"/></clipPath>
<path d="M1230.5 366.95V363.26M1253.14 365.68V361.59M1275.78 362.57V358.07M1298.42 357.98V353.07M1321.06 354.14V348.82M1343.7 351.95V346.22M1366.34 350.68V344.54M1388.98 347.02V340.47M1411.62 342.99V336.03M1434.26 333.61V326.25M1456.9 316.49V301.75M1479.54 289.23V267.13M1502.18 254.98V225.51M1524.82 211.94V180.89M1547.46 209.23V176.61M1570.1 161.4V127.2M1592.74 145.25V109.47M1615.38 148.61V111.26M1638.02 163.77V124.83M1660.66 176.34V135.83" stroke="#FFA500" stroke-width="2" fill="none"/>
<path d="M1230.5 365.11L1253.14 363.63L1275.78 360.32L1298.42 355.53L1321.06 351.48L1343.7 349.08L1366.34 347.61L1388.98 343.74L1411.62 339.51L1434.26 329.93L1456.9 309.12L1479.54 278.18L1502.18 240.25L1524.82 196.42L1547.46 192.92L1570.1 144.3L1592.74 127.36L1615.38 129.94L1638.02 144.3L1660.66 156.09" stroke="#FFA500" stroke-width="1.05" fill="none"/>
<circle cx="1230.5" cy="365.11" r="5.2" fill="#FFA500"/>
<circle cx="1253.14" cy="363.63" r="5.2" fill="#FFA500"/>
<circle cx="1275.78" cy="360.32" r="5.2" fill="#FFA500"/>
<circle cx="1298.42" cy="355.53" r="5.2" fill="#FFA500"/>
<circle cx="1321.06" cy="351.48" r="5.2" fill="#FFA500"/>
<circle cx="1343.7" cy="349.08" r="5.2" fill="#FFA500"/>
<circle cx="1366.34" cy="347.61" r="5.2" fill="#FFA500"/>
<circle cx="1388.98" cy="343.74" r="5.2" fill="#FFA500"/>
<circle cx="1411.62" cy="339.51" r="5.2" fill="#FFA500"/>
<circle cx="1434.26" cy="329.93" r="5.2" fill="#FFA500"/>
<circle cx="1456.9" cy="309.12" r="5.2" fill="#FFA500"/>
<circle cx="1479.54" cy="278.18" r="5.2" fill="#FFA500"/>
<circle cx="1502.18" cy="240.25" r="5.2" fill="#FFA500"/>
<circle cx="1524.82" cy="196.42" r="5.2" fill="#FFA500"/>
<circle cx="1547.46" cy="192.92" r="5.2" fill="#FFA500"/>
<circle cx="1570.1" cy="144.3" r="5.2" fill="#FFA500"/>
<circle cx="1592.74" cy="127.36" r="5.2" fill="#FFA500"/>
<circle cx="1615.38" cy="129.94" r="5.2" fill="#FFA500"/>
<circle cx="1638.02" cy="144.3" r="5.2" fill="#FFA500"/>
<circle cx="1660.66" cy="156.09" r="5.2" fill="#FFA500"/>
<path d="M1230.5 372.66V365.29M1253.14 265.84V243.75M1275.78 178.74V141.91M1298.42 145.99V108.72M1321.06 150.44V112.74M1343.7 144.77V106.63M1366.34 141.85V103.29M1388.98 138.2V99.2M1411.62 139.34V99.91M1434.26 137.9V98.03M1456.9 132.41V92.11M1479.54 125.62V84.89M1502.18 122.71V81.55M1524.82 125.14V83.54M1547.46 122.04V80.01M1570.1 116.73V74.27M1592.74 118.79V75.89M1615.38 110.53V67.2M1638.02 114.99V71.22M1660.66 112.07V67.87" stroke="#FF6347" stroke-width="2" fill="none"/>
<path d="M1230.5 368.97L1253.14 254.79L1275.78 160.32L1298.42 127.36L1321.06 131.59L1343.7 125.7L1366.34 122.57L1388.98 118.7L1411.62 119.62L1434.26 117.97L1456.9 112.26L1479.54 105.26L1502.18 102.13L1524.82 104.34L1547.46 101.02L1570.1 95.5L1592.74 97.34L1615.38 88.87L1638.02 93.1L1660.66 89.97" stroke="#FF6347" stroke-width="1.05" fill="none"/>
<circle cx="1230.5" cy="368.97" r="5.2" fill="#FF6347"/>
<circle cx="1253.14" cy="254.79" r="5.2" fill="#FF6347"/>
<circle cx="1275.78" cy="160.32" r="5.2" fill="#FF6347"/>
<circle cx="1298.42" cy="127.36" r="5.2" fill="#FF6347"/>
<circle cx="1321.06" cy="131.59" r="5.2" fill="#FF6347"/>
<circle cx="1343.7" cy="125.7" r="5.2" fill="#FF6347"/>
<circle cx="1366.34" cy="122.57" r="5.2" fill="#FF6347"/>
<circle cx="1388.98" cy="118.7" r="5.2" fill="#FF6347"/>
<circle cx="1411.62" cy="119.62" r="5.2" fill="#FF6347"/>
<circle cx="1434.26" cy="117.97" r="5.2" fill="#FF6347"/>
<circle cx="1456.9" cy="112.26" r="5.2" fill="#FF6347"/>
<circle cx="1479.54" cy="105.26" r="5.2" fill="#FF6347"/>
<circle cx="1502.18" cy="102.13" r="5.2" fill="#FF6347"/>
<circle cx="1524.82" cy="104.34" r="5.2" fill="#FF6347"/>
<circle cx="1547.46" cy="101.02" r="5.2" fill="#FF6347"/>
<circle cx="1570.1" cy="95.5" r="5.2" fill="#FF6347"/>
<circle cx="1592.74" cy="97.34" r="5.2" fill="#FF6347"/>
<circle cx="1615.38" cy="88.87" r="5.2" fill="#FF6347"/>
<circle cx="1638.02" cy="93.1" r="5.2" fill="#FF6347"/>
<circle cx="1660.66" cy="89.97" r="5.2" fill="#FF6347"/>
<path d="M1230.5 384.63V380.94M1253.14 368.79V361.42M1275.78 353.13V342.09M1298.42 309.12V294.39M1321.06 285.73V267.32M1343.7 268.97V246.88M1366.34 240.43V214.65M1388.98 225.7V196.23M1411.62 213.36V183.89M1434.26 186.29V156.82M1456.9 165.48V136.01M1479.54 161.24V131.78M1502.18 132.51V103.05M1524.82 123.12V93.66M1547.46 138.22V108.76M1570.1 143.01V113.55M1592.74 122.2V92.74M1615.38 114.83V85.37M1638.02 101.39V71.93M1660.66 106.18V76.71" stroke="#006400" stroke-width="2" fill="none"/>
<path d="M1230.5 382.78L1253.14 365.11L1275.78 347.61L1298.42 301.75L1321.06 276.53L1343.7 257.93L1366.34 227.54L1388.98 210.96L1411.62 198.63L1434.26 171.56L1456.9 150.75L1479.54 146.51L1502.18 117.78L1524.82 108.39L1547.46 123.49L1570.1 128.28L1592.74 107.47L1615.38 100.1L1638.02 86.66L1660.66 91.45" stroke="#006400" stroke-width="1.05" fill="none"/>
<circle cx="1230.5" cy="382.78" r="5.2" fill="#006400"/>
<circle cx="1253.14" cy="365.11" r="5.2" fill="#006400"/>
<circle cx="1275.78" cy="347.61" r="5.2" fill="#006400"/>
<circle cx="1298.42" cy="301.75" r="5.2" fill="#006400"/>
<circle cx="1321.06" cy="276.53" r="5.2" fill="#006400"/>
<circle cx="1343.7" cy="257.93" r="5.2" fill="#006400"/>
<circle cx="1366.34" cy="227.54" r="5.2" fill="#006400"/>
<circle cx="1388.98" cy="210.96" r="5.2" fill="#006400"/>
<circle cx="1411.62" cy="198.63" r="5.2" fill="#006400"/>
<circle cx="1434.26" cy="171.56" r="5.2" fill="#006400"/>
<circle cx="1456.9" cy="150.75" r="5.2" fill="#006400"/>
<circle cx="1479.54" cy="146.51" r="5.2" fill="#006400"/>
<circle cx="1502.18" cy="117.78" r="5.2" fill="#006400"/>
<circle cx="1524.82" cy="108.39" r="5.2" fill="#006400"/>
<circle cx="1547.46" cy="123.49" r="5.2" fill="#006400"/>
<circle cx="1570.1" cy="128.28" r="5.2" fill="#006400"/>
<circle cx="1592.74" cy="107.47" r="5.2" fill="#006400"/>
<circle cx="1615.38" cy="100.1" r="5.2" fill="#006400"/>
<circle cx="1638.02" cy="86.66" r="5.2" fill="#006400"/>
<circle cx="1660.66" cy="91.45" r="5.2" fill="#006400"/>
<path d="M1230.5 384.63V380.94M1253.14 367.41V362.8M1275.78 367.31V361.79M1298.42 358.75V352.31M1321.06 324.96V317.59M1343.7 264.19V242.09M1366.34 217.04V180.21M1388.98 190.65V147.68M1411.62 164.62V115.51M1434.26 136.75V81.5M1456.9 145.13V87.12M1479.54 123.49V62.72M1502.18 137.58V74.04M1524.82 120.54V54.25M1547.46 117.23V50.93M1570.1 118.15V51.85M1592.74 130.49V64.19M1615.38 166.21V99.92M1638.02 144.48V78.19M1660.66 137.49V71.19" stroke="#1E90FF" stroke-width="2" fill="none"/>
<path d="M1230.5 382.78L1253.14 365.11L1275.78 364.55L1298.42 355.53L1321.06 321.28L1343.7 253.14L1366.34 198.63L1388.98 169.16L1411.62 140.06L1434.26 109.13L1456.9 116.12L1479.54 93.1L1502.18 105.81L1524.82 87.39L1547.46 84.08L1570.1 85L1592.74 97.34L1615.38 133.07L1638.02 111.34L1660.66 104.34" stroke="#1E90FF" stroke-width="1.05" fill="none"/>
<circle cx="1230.5" cy="382.78" r="5.2" fill="#1E90FF"/>
<circle cx="1253.14" cy="365.11" r="5.2" fill="#1E90FF"/>
<circle cx="1275.78" cy="364.55" r="5.2" fill="#1E90FF"/>
<circle cx="1298.42" cy="355.53" r="5.2" fill="#1E90FF"/>
<circle cx="1321.06" cy="321.28" r="5.2" fill="#1E90FF"/>
<circle cx="1343.7" cy="253.14" r="5.2" fill="#1E90FF"/>
<circle cx="1366.34" cy="198.63" r="5.2" fill="#1E90FF"/>
<circle cx="1388.98" cy="169.16" r="5.2" fill="#1E90FF"/>
<circle cx="1411.62" cy="140.06" r="5.2" fill="#1E90FF"/>
<circle cx="1434.26" cy="109.13" r="5.2" fill="#1E90FF"/>
<circle cx="1456.9" cy="116.12" r="5.2" fill="#1E90FF"/>
<circle cx="1479.54" cy="93.1" r="5.2" fill="#1E90FF"/>
<circle cx="1502.18" cy="105.81" r="5.2" fill="#1E90FF"/>
<circle cx="1524.82" cy="87.39" r="5.2" fill="#1E90FF"/>
<circle cx="1547.46" cy="84.08" r="5.2" fill="#1E90FF"/>
<circle cx="1570.1" cy="85" r="5.2" fill="#1E90FF"/>
<circle cx="1592.74" cy="97.34" r="5.2" fill="#1E90FF"/>
<circle cx="1615.38" cy="133.07" r="5.2" fill="#1E90FF"/>
<circle cx="1638.02" cy="111.34" r="5.2" fill="#1E90FF"/>
<circle cx="1660.66" cy="104.34" r="5.2" fill="#1E90FF"/>
</g>
<rect x="1230.5" y="51.3" width="452.8" height="349.9" fill="none" stroke="#333333" stroke-width="1.2"/>
<path d="M1230.5 401.2v-4M1230.5 51.3v4M1343.7 401.2v-4M1343.7 51.3v4M1456.9 401.2v-4M1456.9 51.3v4M1570.1 401.2v-4M1570.1 51.3v4M1683.3 401.2v-4M1683.3 51.3v4M1230.5 382.78h4M1683.3 382.78h-4M1230.5 290.71h4M1683.3 290.71h-4M1230.5 198.63h4M1683.3 198.63h-4M1230.5 106.55h4M1683.3 106.55h-4" stroke="#333333" stroke-width="1" fill="none"/>
<text x="1230.5" y="417" font-size="15.54" font-family='"Liberation Sans", sans-serif' text-anchor="middle" textLength="9.1" lengthAdjust="spacingAndGlyphs">0</text>
<text x="1343.7" y="417" font-size="15.54" font-family='"Liberation Sans", sans-serif' text-anchor="middle" textLength="18.2" lengthAdjust="spacingAndGlyphs">50</text>
<text x="1456.9" y="417" font-size="15.54" font-family='"Liberation Sans", sans-serif' text-anchor="middle" textLength="27.3" lengthAdjust="spacingAndGlyphs">100</text>
<text x="1570.1" y="417" font-size="15.54" font-family='"Liberation Sans", sans-serif' text-anchor="middle" textLength="27.3" lengthAdjust="spacingAndGlyphs">150</text>
<text x="1683.3" y="417" font-size="15.54" font-family='"Liberation Sans", sans-serif' text-anchor="middle" textLength="27.3" lengthAdjust="spacingAndGlyphs">200</text>
<text x="1225.7" y="387.35" font-size="15.54" font-family='"Liberation Sans", sans-serif' text-anchor="end" textLength="9.1" lengthAdjust="spacingAndGlyphs">0</text>
<text x="1225.7" y="295.27" font-size="15.54" font-family='"Liberation Sans", sans-serif' text-anchor="end" textLength="18.2" lengthAdjust="spacingAndGlyphs">50</text>
<text x="1225.7" y="203.19" font-size="15.54" font-family='"Liberation Sans", sans-serif' text-anchor="end" textLength="27.3" lengthAdjust="spacingAndGlyphs">100</text>
<text x="1225.7" y="111.11" font-size="15.54" font-family='"Liberation Sans", sans-serif' text-anchor="end" textLength="27.3" lengthAdjust="spacingAndGlyphs">150</text>
<path d="M1283.4 23H1308.4" stroke="#FFA500" stroke-width="1.05"/>
<path d="M1283.4 14.5v17M1308.4 14.5v17" stroke="#FFA500" stroke-width="2"/>
<circle cx="1283.4" cy="23" r="5.2" fill="#FFA500"/>
<circle cx="1308.4" cy="23" r="5.2" fill="#FFA500"/>
<text x="1314.8" y="28.94" font-size="16.5" font-family='"Liberation Sans", sans-serif' text-anchor="start" textLength="24.6" lengthAdjust="spacingAndGlyphs">FM</text>
<path d="M1350 23H1375.3" stroke="#FF6347" stroke-width="1.05"/>
<path d="M1350 14.5v17M1375.3 14.5v17" stroke="#FF6347" stroke-width="2"/>
<circle cx="1350" cy="23" r="5.2" fill="#FF6347"/>
<circle cx="1375.3" cy="23" r="5.2" fill="#FF6347"/>
<text x="1381.1" y="28.94" font-size="16.5" font-family='"Liberation Sans", sans-serif' text-anchor="start" textLength="37.8" lengthAdjust="spacingAndGlyphs">GRU</text>
<path d="M1430.1 23H1455.4" stroke="#006400" stroke-width="1.05"/>
<path d="M1430.1 14.5v17M1455.4 14.5v17" stroke="#006400" stroke-width="2"/>
<circle cx="1430.1" cy="23" r="5.2" fill="#006400"/>
<circle cx="1455.4" cy="23" r="5.2" fill="#006400"/>
<text x="1461.9" y="28.94" font-size="16.5" font-family='"Liberation Sans", sans-serif' text-anchor="start" textLength="76.2" lengthAdjust="spacingAndGlyphs">RPSP-Alt</text>
<path d="M1548.7 23H1573.4" stroke="#1E90FF" stroke-width="1.05"/>
<path d="M1548.7 14.5v17M1573.4 14.5v17" stroke="#1E90FF" stroke-width="2"/>
<circle cx="1548.7" cy="23" r="5.2" fill="#1E90FF"/>
<circle cx="1573.4" cy="23" r="5.2" fill="#1E90FF"/>
<text x="1579.8" y="28.94" font-size="16.5" font-family='"Liberation Sans", sans-serif' text-anchor="start" textLength="100.9" lengthAdjust="spacingAndGlyphs">RPSP-VRPG</text>
<g transform="translate(1186 291.6) rotate(-90)">
<text x="0" y="0" font-size="21" font-family='"Liberation Sans", sans-serif' text-anchor="start" textLength="84" lengthAdjust="spacingAndGlyphs">CartPole</text>
<text x="91.5" y="0" font-size="22.05" font-family='"Liberation Serif", serif' text-anchor="start" textLength="14.5" lengthAdjust="spacingAndGlyphs" font-style="italic">R</text>
<text x="103.8" y="4.2" font-size="16.8" font-family='"Liberation Serif", serif' text-anchor="start" textLength="24.4" lengthAdjust="spacingAndGlyphs" font-style="italic">iter</text>
</g>
<text x="1317" y="440.6" font-size="21" font-family='"Liberation Sans", sans-serif' textLength="280.4" lengthAdjust="spacingAndGlyphs">experience (<tspan font-family='"Liberation Serif", serif'>2000</tspan> timesteps)</text>
<text x="1435" y="494" font-size="31" font-family='"Liberation Serif", serif' text-anchor="middle" textLength="36" lengthAdjust="spacingAndGlyphs">(c)</text>
<g clip-path="url(#clipd)">
<clipPath id="clipd"><rect x="67.7" y="557.7" width="452.7" height="350.2"/></clipPath>
<path d="M67.7 882.69V878.02M76.75 835.06V828.99M85.81 818.25V810.78M94.86 802.14V793.27M103.92 781.83V771.56M112.97 762.22V750.54M122.02 763.85V750.78M131.08 757.08V742.61M140.13 747.74V731.87M149.19 732.8V715.52M158.24 721.59V702.92M167.29 712.72V692.18M176.35 715.99V693.58M185.4 708.99V684.71M194.46 683.07V656.92M203.51 694.04V666.03M212.56 700.58V670.7M221.62 693.34V661.59M230.67 671.87V638.25M239.73 662.29V626.81M248.78 667.9V630.54M257.83 670.08V632.1M266.89 659.18V620.58M275.94 668.83V629.61M285 670.78V630.93M294.05 674.59V634.12M303.1 683.54V642.45M312.16 671.71V630M321.21 670.39V628.05M330.27 667.43V624.47M339.32 678.25V634.67M348.37 700.5V656.3M357.43 694.51V649.69M366.48 703.46V658.01M375.54 702.14V656.07M384.59 688.91V642.21M393.64 695.31V647.95M402.7 695.18V647.15M411.75 720.49V671.8M420.81 702.15V652.79M429.86 695.48V645.45M438.91 689.28V638.58M447.97 684.71V633.34M457.02 696.48V644.45M466.08 698.91V646.22M475.13 693.88V640.51M484.18 686.74V632.71M493.24 698.51V643.82M502.29 706.79V651.42M511.35 699.18V643.15" stroke="#FFA500" stroke-width="2" fill="none"/>
<path d="M67.7 880.35L76.75 832.02L85.81 814.51L94.86 797.7L103.92 776.69L112.97 756.38L122.02 757.31L131.08 749.84L140.13 739.8L149.19 724.16L158.24 712.25L167.29 702.45L176.35 704.78L185.4 696.85L194.46 670L203.51 680.04L212.56 685.64L221.62 677.47L230.67 655.06L239.73 644.55L248.78 649.22L257.83 651.09L266.89 639.88L275.94 649.22L285 650.85L294.05 654.36L303.1 662.99L312.16 650.85L321.21 649.22L330.27 645.95L339.32 656.46L348.37 678.4L357.43 672.1L366.48 680.74L375.54 679.1L384.59 665.56L393.64 671.63L402.7 671.16L411.75 696.15L420.81 677.47L429.86 670.46L438.91 663.93L447.97 659.02L457.02 670.46L466.08 672.57L475.13 667.2L484.18 659.72L493.24 671.16L502.29 679.1L511.35 671.16" stroke="#FFA500" stroke-width="1.05" fill="none"/>
<circle cx="67.7" cy="880.35" r="5.2" fill="#FFA500"/>
<circle cx="76.75" cy="832.02" r="5.2" fill="#FFA500"/>
<circle cx="85.81" cy="814.51" r="5.2" fill="#FFA500"/>
<circle cx="94.86" cy="797.7" r="5.2" fill="#FFA500"/>
<circle cx="103.92" cy="776.69" r="5.2" fill="#FFA500"/>
<circle cx="112.97" cy="756.38" r="5.2" fill="#FFA500"/>
<circle cx="122.02" cy="757.31" r="5.2" fill="#FFA500"/>
<circle cx="131.08" cy="749.84" r="5.2" fill="#FFA500"/>
<circle cx="140.13" cy="739.8" r="5.2" fill="#FFA500"/>
<circle cx="149.19" cy="724.16" r="5.2" fill="#FFA500"/>
<circle cx="158.24" cy="712.25" r="5.2" fill="#FFA500"/>
<circle cx="167.29" cy="702.45" r="5.2" fill="#FFA500"/>
<circle cx="176.35" cy="704.78" r="5.2" fill="#FFA500"/>
<circle cx="185.4" cy="696.85" r="5.2" fill="#FFA500"/>
<circle cx="194.46" cy="670" r="5.2" fill="#FFA500"/>
<circle cx="203.51" cy="680.04" r="5.2" fill="#FFA500"/>
<circle cx="212.56" cy="685.64" r="5.2" fill="#FFA500"/>
<circle cx="221.62" cy="677.47" r="5.2" fill="#FFA500"/>
<circle cx="230.67" cy="655.06" r="5.2" fill="#FFA500"/>
<circle cx="239.73" cy="644.55" r="5.2" fill="#FFA500"/>
<circle cx="248.78" cy="649.22" r="5.2" fill="#FFA500"/>
<circle cx="257.83" cy="651.09" r="5.2" fill="#FFA500"/>
<circle cx="266.89" cy="639.88" r="5.2" fill="#FFA500"/>
<circle cx="275.94" cy="649.22" r="5.2" fill="#FFA500"/>
<circle cx="285" cy="650.85" r="5.2" fill="#FFA500"/>
<circle cx="294.05" cy="654.36" r="5.2" fill="#FFA500"/>
<circle cx="303.1" cy="662.99" r="5.2" fill="#FFA500"/>
<circle cx="312.16" cy="650.85" r="5.2" fill="#FFA500"/>
<circle cx="321.21" cy="649.22" r="5.2" fill="#FFA500"/>
<circle cx="330.27" cy="645.95" r="5.2" fill="#FFA500"/>
<circle cx="339.32" cy="656.46" r="5.2" fill="#FFA500"/>
<circle cx="348.37" cy="678.4" r="5.2" fill="#FFA500"/>
<circle cx="357.43" cy="672.1" r="5.2" fill="#FFA500"/>
<circle cx="366.48" cy="680.74" r="5.2" fill="#FFA500"/>
<circle cx="375.54" cy="679.1" r="5.2" fill="#FFA500"/>
<circle cx="384.59" cy="665.56" r="5.2" fill="#FFA500"/>
<circle cx="393.64" cy="671.63" r="5.2" fill="#FFA500"/>
<circle cx="402.7" cy="671.16" r="5.2" fill="#FFA500"/>
<circle cx="411.75" cy="696.15" r="5.2" fill="#FFA500"/>
<circle cx="420.81" cy="677.47" r="5.2" fill="#FFA500"/>
<circle cx="429.86" cy="670.46" r="5.2" fill="#FFA500"/>
<circle cx="438.91" cy="663.93" r="5.2" fill="#FFA500"/>
<circle cx="447.97" cy="659.02" r="5.2" fill="#FFA500"/>
<circle cx="457.02" cy="670.46" r="5.2" fill="#FFA500"/>
<circle cx="466.08" cy="672.57" r="5.2" fill="#FFA500"/>
<circle cx="475.13" cy="667.2" r="5.2" fill="#FFA500"/>
<circle cx="484.18" cy="659.72" r="5.2" fill="#FFA500"/>
<circle cx="493.24" cy="671.16" r="5.2" fill="#FFA500"/>
<circle cx="502.29" cy="679.1" r="5.2" fill="#FFA500"/>
<circle cx="511.35" cy="671.16" r="5.2" fill="#FFA500"/>
<path d="M67.7 866.58V861.91M76.75 823.62V818.02M85.81 814.51V807.98M94.86 808.44V800.97M103.92 807.28V798.87M112.97 804.47V795.14M122.02 803.85V793.89M131.08 803.46V792.88M140.13 800.74V789.53M149.19 799.88V788.05M158.24 799.03V786.58M167.29 798.4V785.33M176.35 798.02V784.32M185.4 796.69V782.37M194.46 796.07V781.13M203.51 795.45V779.88M212.56 794.36V778.17M221.62 794.44V777.63M230.67 794.05V776.61M239.73 792.72V774.67M248.78 791.4V772.72M257.83 791.13V772.05M266.89 790.17V770.69M275.94 789.9V770.02M285 789.17V768.88M294.05 787.74V767.05M303.1 787.94V766.85M312.16 786.51V765.01M321.21 786.71V764.81M330.27 786.21V763.91M339.32 786.18V763.47M348.37 785.68V762.57M357.43 785.18V761.67M366.48 784.44V760.53M375.54 784.65V760.33M384.59 783.91V759.2M393.64 784.11V759M402.7 784.32V758.8M411.75 783.12V757.19M420.81 783.32V756.99M429.86 782.58V755.86M438.91 782.79V755.66M447.97 781.59V754.05M457.02 781.79V753.85M466.08 781.99V753.65M475.13 782.19V753.45M484.18 781.22V752.08M493.24 781.43V751.88M502.29 781.63V751.68M511.35 781.13V750.78" stroke="#FF6347" stroke-width="2" fill="none"/>
<path d="M67.7 864.24L76.75 820.82L85.81 811.24L94.86 804.71L103.92 803.07L112.97 799.8L122.02 798.87L131.08 798.17L140.13 795.14L149.19 793.97L158.24 792.8L167.29 791.87L176.35 791.17L185.4 789.53L194.46 788.6L203.51 787.66L212.56 786.26L221.62 786.03L230.67 785.33L239.73 783.7L248.78 782.06L257.83 781.59L266.89 780.43L275.94 779.96L285 779.03L294.05 777.39L303.1 777.39L312.16 775.76L321.21 775.76L330.27 775.06L339.32 774.82L348.37 774.12L357.43 773.42L366.48 772.49L375.54 772.49L384.59 771.56L393.64 771.56L402.7 771.56L411.75 770.15L420.81 770.15L429.86 769.22L438.91 769.22L447.97 767.82L457.02 767.82L466.08 767.82L475.13 767.82L484.18 766.65L493.24 766.65L502.29 766.65L511.35 765.95" stroke="#FF6347" stroke-width="1.05" fill="none"/>
<circle cx="67.7" cy="864.24" r="5.2" fill="#FF6347"/>
<circle cx="76.75" cy="820.82" r="5.2" fill="#FF6347"/>
<circle cx="85.81" cy="811.24" r="5.2" fill="#FF6347"/>
<circle cx="94.86" cy="804.71" r="5.2" fill="#FF6347"/>
<circle cx="103.92" cy="803.07" r="5.2" fill="#FF6347"/>
<circle cx="112.97" cy="799.8" r="5.2" fill="#FF6347"/>
<circle cx="122.02" cy="798.87" r="5.2" fill="#FF6347"/>
<circle cx="131.08" cy="798.17" r="5.2" fill="#FF6347"/>
<circle cx="140.13" cy="795.14" r="5.2" fill="#FF6347"/>
<circle cx="149.19" cy="793.97" r="5.2" fill="#FF6347"/>
<circle cx="158.24" cy="792.8" r="5.2" fill="#FF6347"/>
<circle cx="167.29" cy="791.87" r="5.2" fill="#FF6347"/>
<circle cx="176.35" cy="791.17" r="5.2" fill="#FF6347"/>
<circle cx="185.4" cy="789.53" r="5.2" fill="#FF6347"/>
<circle cx="194.46" cy="788.6" r="5.2" fill="#FF6347"/>
<circle cx="203.51" cy="787.66" r="5.2" fill="#FF6347"/>
<circle cx="212.56" cy="786.26" r="5.2" fill="#FF6347"/>
<circle cx="221.62" cy="786.03" r="5.2" fill="#FF6347"/>
<circle cx="230.67" cy="785.33" r="5.2" fill="#FF6347"/>
<circle cx="239.73" cy="783.7" r="5.2" fill="#FF6347"/>
<circle cx="248.78" cy="782.06" r="5.2" fill="#FF6347"/>
<circle cx="257.83" cy="781.59" r="5.2" fill="#FF6347"/>
<circle cx="266.89" cy="780.43" r="5.2" fill="#FF6347"/>
<circle cx="275.94" cy="779.96" r="5.2" fill="#FF6347"/>
<circle cx="285" cy="779.03" r="5.2" fill="#FF6347"/>
<circle cx="294.05" cy="777.39" r="5.2" fill="#FF6347"/>
<circle cx="303.1" cy="777.39" r="5.2" fill="#FF6347"/>
<circle cx="312.16" cy="775.76" r="5.2" fill="#FF6347"/>
<circle cx="321.21" cy="775.76" r="5.2" fill="#FF6347"/>
<circle cx="330.27" cy="775.06" r="5.2" fill="#FF6347"/>
<circle cx="339.32" cy="774.82" r="5.2" fill="#FF6347"/>
<circle cx="348.37" cy="774.12" r="5.2" fill="#FF6347"/>
<circle cx="357.43" cy="773.42" r="5.2" fill="#FF6347"/>
<circle cx="366.48" cy="772.49" r="5.2" fill="#FF6347"/>
<circle cx="375.54" cy="772.49" r="5.2" fill="#FF6347"/>
<circle cx="384.59" cy="771.56" r="5.2" fill="#FF6347"/>
<circle cx="393.64" cy="771.56" r="5.2" fill="#FF6347"/>
<circle cx="402.7" cy="771.56" r="5.2" fill="#FF6347"/>
<circle cx="411.75" cy="770.15" r="5.2" fill="#FF6347"/>
<circle cx="420.81" cy="770.15" r="5.2" fill="#FF6347"/>
<circle cx="429.86" cy="769.22" r="5.2" fill="#FF6347"/>
<circle cx="438.91" cy="769.22" r="5.2" fill="#FF6347"/>
<circle cx="447.97" cy="767.82" r="5.2" fill="#FF6347"/>
<circle cx="457.02" cy="767.82" r="5.2" fill="#FF6347"/>
<circle cx="466.08" cy="767.82" r="5.2" fill="#FF6347"/>
<circle cx="475.13" cy="767.82" r="5.2" fill="#FF6347"/>
<circle cx="484.18" cy="766.65" r="5.2" fill="#FF6347"/>
<circle cx="493.24" cy="766.65" r="5.2" fill="#FF6347"/>
<circle cx="502.29" cy="766.65" r="5.2" fill="#FF6347"/>
<circle cx="511.35" cy="765.95" r="5.2" fill="#FF6347"/>
<path d="M67.7 886.89V882.22M76.75 861.44V856.3M85.81 828.99V823.39M94.86 817.55V811.48M103.92 793.5V786.96M112.97 797V790M122.02 786.96V779.49M131.08 781.36V773.42M140.13 771.32V762.92M149.19 772.96V764.08M158.24 767.59V758.25M167.29 754.63V745.06M176.35 758.71V748.91M185.4 751.83V741.79M194.46 746.34V736.07M203.51 742.26V731.75M212.56 746.57V735.84M221.62 732.22V721.24M230.67 732.33V721.13M239.73 729.88V718.44M248.78 735.84V724.16M257.83 734.32V722.41M266.89 723.93V711.79M275.94 727.78V715.41M285 725.56V712.96M294.05 728.95V716.11M303.1 721.13V708.05M312.16 712.37V699.06M321.21 714.82V701.28M330.27 707.94V694.16M339.32 707.12V693.11M348.37 708.18V693.92M357.43 693.82V679.32M366.48 696.05V681.3M375.54 698.74V683.75M384.59 692.09V676.85M393.64 693.38V677.9M402.7 686.97V671.24M411.75 691.99V676.02M420.81 692.12V675.9M429.86 690.6V674.14M438.91 688.16V671.45M447.97 683.38V666.42M457.02 687.7V670.5M466.08 684.56V667.11M475.13 680.95V663.25M484.18 687.14V669.2M493.24 679.56V661.37M502.29 676.18V657.75M511.35 680.5V661.83" stroke="#006400" stroke-width="2" fill="none"/>
<path d="M67.7 884.55L76.75 858.87L85.81 826.19L94.86 814.51L103.92 790.23L112.97 793.5L122.02 783.23L131.08 777.39L140.13 767.12L149.19 768.52L158.24 762.92L167.29 749.84L176.35 753.81L185.4 746.81L194.46 741.2L203.51 737L212.56 741.2L221.62 726.73L230.67 726.73L239.73 724.16L248.78 730L257.83 728.36L266.89 717.86L275.94 721.59L285 719.26L294.05 722.53L303.1 714.59L312.16 705.72L321.21 708.05L330.27 701.05L339.32 700.11L348.37 701.05L357.43 686.57L366.48 688.67L375.54 691.24L384.59 684.47L393.64 685.64L402.7 679.1L411.75 684.01L420.81 684.01L429.86 682.37L438.91 679.8L447.97 674.9L457.02 679.1L466.08 675.83L475.13 672.1L484.18 678.17L493.24 670.46L502.29 666.96L511.35 671.16" stroke="#006400" stroke-width="1.05" fill="none"/>
<circle cx="67.7" cy="884.55" r="5.2" fill="#006400"/>
<circle cx="76.75" cy="858.87" r="5.2" fill="#006400"/>
<circle cx="85.81" cy="826.19" r="5.2" fill="#006400"/>
<circle cx="94.86" cy="814.51" r="5.2" fill="#006400"/>
<circle cx="103.92" cy="790.23" r="5.2" fill="#006400"/>
<circle cx="112.97" cy="793.5" r="5.2" fill="#006400"/>
<circle cx="122.02" cy="783.23" r="5.2" fill="#006400"/>
<circle cx="131.08" cy="777.39" r="5.2" fill="#006400"/>
<circle cx="140.13" cy="767.12" r="5.2" fill="#006400"/>
<circle cx="149.19" cy="768.52" r="5.2" fill="#006400"/>
<circle cx="158.24" cy="762.92" r="5.2" fill="#006400"/>
<circle cx="167.29" cy="749.84" r="5.2" fill="#006400"/>
<circle cx="176.35" cy="753.81" r="5.2" fill="#006400"/>
<circle cx="185.4" cy="746.81" r="5.2" fill="#006400"/>
<circle cx="194.46" cy="741.2" r="5.2" fill="#006400"/>
<circle cx="203.51" cy="737" r="5.2" fill="#006400"/>
<circle cx="212.56" cy="741.2" r="5.2" fill="#006400"/>
<circle cx="221.62" cy="726.73" r="5.2" fill="#006400"/>
<circle cx="230.67" cy="726.73" r="5.2" fill="#006400"/>
<circle cx="239.73" cy="724.16" r="5.2" fill="#006400"/>
<circle cx="248.78" cy="730" r="5.2" fill="#006400"/>
<circle cx="257.83" cy="728.36" r="5.2" fill="#006400"/>
<circle cx="266.89" cy="717.86" r="5.2" fill="#006400"/>
<circle cx="275.94" cy="721.59" r="5.2" fill="#006400"/>
<circle cx="285" cy="719.26" r="5.2" fill="#006400"/>
<circle cx="294.05" cy="722.53" r="5.2" fill="#006400"/>
<circle cx="303.1" cy="714.59" r="5.2" fill="#006400"/>
<circle cx="312.16" cy="705.72" r="5.2" fill="#006400"/>
<circle cx="321.21" cy="708.05" r="5.2" fill="#006400"/>
<circle cx="330.27" cy="701.05" r="5.2" fill="#006400"/>
<circle cx="339.32" cy="700.11" r="5.2" fill="#006400"/>
<circle cx="348.37" cy="701.05" r="5.2" fill="#006400"/>
<circle cx="357.43" cy="686.57" r="5.2" fill="#006400"/>
<circle cx="366.48" cy="688.67" r="5.2" fill="#006400"/>
<circle cx="375.54" cy="691.24" r="5.2" fill="#006400"/>
<circle cx="384.59" cy="684.47" r="5.2" fill="#006400"/>
<circle cx="393.64" cy="685.64" r="5.2" fill="#006400"/>
<circle cx="402.7" cy="679.1" r="5.2" fill="#006400"/>
<circle cx="411.75" cy="684.01" r="5.2" fill="#006400"/>
<circle cx="420.81" cy="684.01" r="5.2" fill="#006400"/>
<circle cx="429.86" cy="682.37" r="5.2" fill="#006400"/>
<circle cx="438.91" cy="679.8" r="5.2" fill="#006400"/>
<circle cx="447.97" cy="674.9" r="5.2" fill="#006400"/>
<circle cx="457.02" cy="679.1" r="5.2" fill="#006400"/>
<circle cx="466.08" cy="675.83" r="5.2" fill="#006400"/>
<circle cx="475.13" cy="672.1" r="5.2" fill="#006400"/>
<circle cx="484.18" cy="678.17" r="5.2" fill="#006400"/>
<circle cx="493.24" cy="670.46" r="5.2" fill="#006400"/>
<circle cx="502.29" cy="666.96" r="5.2" fill="#006400"/>
<circle cx="511.35" cy="671.16" r="5.2" fill="#006400"/>
<path d="M67.7 886.89V882.22M76.75 863.23V855.45M85.81 832.1V821.21M94.86 821.52V807.51M103.92 796.23V779.1M112.97 783.54V763.31M122.02 759.42V736.07M131.08 738.5V714.49M140.13 720.39V695.71M149.19 728.2V702.85M158.24 715.69V689.68M167.29 704.35V677.67M176.35 700.25V672.9M185.4 716.22V688.21M194.46 713.76V685.07M203.51 706.62V677.27M212.56 688.74V658.72M221.62 682.54V651.85M230.67 679.6V648.25M239.73 698.38V666.36M248.78 698.01V665.33M257.83 672.33V638.71M266.89 670V635.44M275.94 662.99V627.51M285 660.19V623.77M294.05 658.56V621.2M303.1 669.3V631.01M312.16 658.56V619.34M321.21 654.12V613.97M330.27 654.59V613.5M339.32 651.79V609.76M348.37 656.24V613.72M357.43 656.48V613.47M366.48 662.1V618.6M375.54 669.81V625.82M384.59 677.3V632.81M393.64 690.38V645.41M402.7 679.19V633.72M411.75 674.77V628.81M420.81 681.31V634.87M429.86 670.35V623.41M438.91 673.17V625.74M447.97 669.21V621.29M457.02 651.71V603.3M466.08 644.96V596.05M475.13 656.17V606.78M484.18 658.05V608.17M493.24 667.17V616.79M502.29 652.01V601.14M511.35 650.15V598.79" stroke="#1E90FF" stroke-width="2" fill="none"/>
<path d="M67.7 884.55L76.75 859.34L85.81 826.65L94.86 814.51L103.92 787.66L112.97 773.42L122.02 747.74L131.08 726.5L140.13 708.05L149.19 715.52L158.24 702.68L167.29 691.01L176.35 686.57L185.4 702.22L194.46 699.41L203.51 691.94L212.56 673.73L221.62 667.2L230.67 663.93L239.73 682.37L248.78 681.67L257.83 655.52L266.89 652.72L275.94 645.25L285 641.98L294.05 639.88L303.1 650.15L312.16 638.95L321.21 634.04L330.27 634.04L339.32 630.78L348.37 634.98L357.43 634.98L366.48 640.35L375.54 647.82L384.59 655.06L393.64 667.9L402.7 656.46L411.75 651.79L420.81 658.09L429.86 646.88L438.91 649.45L447.97 645.25L457.02 627.51L466.08 620.5L475.13 631.48L484.18 633.11L493.24 641.98L502.29 626.57L511.35 624.47" stroke="#1E90FF" stroke-width="1.05" fill="none"/>
<circle cx="67.7" cy="884.55" r="5.2" fill="#1E90FF"/>
<circle cx="76.75" cy="859.34" r="5.2" fill="#1E90FF"/>
<circle cx="85.81" cy="826.65" r="5.2" fill="#1E90FF"/>
<circle cx="94.86" cy="814.51" r="5.2" fill="#1E90FF"/>
<circle cx="103.92" cy="787.66" r="5.2" fill="#1E90FF"/>
<circle cx="112.97" cy="773.42" r="5.2" fill="#1E90FF"/>
<circle cx="122.02" cy="747.74" r="5.2" fill="#1E90FF"/>
<circle cx="131.08" cy="726.5" r="5.2" fill="#1E90FF"/>
<circle cx="140.13" cy="708.05" r="5.2" fill="#1E90FF"/>
<circle cx="149.19" cy="715.52" r="5.2" fill="#1E90FF"/>
<circle cx="158.24" cy="702.68" r="5.2" fill="#1E90FF"/>
<circle cx="167.29" cy="691.01" r="5.2" fill="#1E90FF"/>
<circle cx="176.35" cy="686.57" r="5.2" fill="#1E90FF"/>
<circle cx="185.4" cy="702.22" r="5.2" fill="#1E90FF"/>
<circle cx="194.46" cy="699.41" r="5.2" fill="#1E90FF"/>
<circle cx="203.51" cy="691.94" r="5.2" fill="#1E90FF"/>
<circle cx="212.56" cy="673.73" r="5.2" fill="#1E90FF"/>
<circle cx="221.62" cy="667.2" r="5.2" fill="#1E90FF"/>
<circle cx="230.67" cy="663.93" r="5.2" fill="#1E90FF"/>
<circle cx="239.73" cy="682.37" r="5.2" fill="#1E90FF"/>
<circle cx="248.78" cy="681.67" r="5.2" fill="#1E90FF"/>
<circle cx="257.83" cy="655.52" r="5.2" fill="#1E90FF"/>
<circle cx="266.89" cy="652.72" r="5.2" fill="#1E90FF"/>
<circle cx="275.94" cy="645.25" r="5.2" fill="#1E90FF"/>
<circle cx="285" cy="641.98" r="5.2" fill="#1E90FF"/>
<circle cx="294.05" cy="639.88" r="5.2" fill="#1E90FF"/>
<circle cx="303.1" cy="650.15" r="5.2" fill="#1E90FF"/>
<circle cx="312.16" cy="638.95" r="5.2" fill="#1E90FF"/>
<circle cx="321.21" cy="634.04" r="5.2" fill="#1E90FF"/>
<circle cx="330.27" cy="634.04" r="5.2" fill="#1E90FF"/>
<circle cx="339.32" cy="630.78" r="5.2" fill="#1E90FF"/>
<circle cx="348.37" cy="634.98" r="5.2" fill="#1E90FF"/>
<circle cx="357.43" cy="634.98" r="5.2" fill="#1E90FF"/>
<circle cx="366.48" cy="640.35" r="5.2" fill="#1E90FF"/>
<circle cx="375.54" cy="647.82" r="5.2" fill="#1E90FF"/>
<circle cx="384.59" cy="655.06" r="5.2" fill="#1E90FF"/>
<circle cx="393.64" cy="667.9" r="5.2" fill="#1E90FF"/>
<circle cx="402.7" cy="656.46" r="5.2" fill="#1E90FF"/>
<circle cx="411.75" cy="651.79" r="5.2" fill="#1E90FF"/>
<circle cx="420.81" cy="658.09" r="5.2" fill="#1E90FF"/>
<circle cx="429.86" cy="646.88" r="5.2" fill="#1E90FF"/>
<circle cx="438.91" cy="649.45" r="5.2" fill="#1E90FF"/>
<circle cx="447.97" cy="645.25" r="5.2" fill="#1E90FF"/>
<circle cx="457.02" cy="627.51" r="5.2" fill="#1E90FF"/>
<circle cx="466.08" cy="620.5" r="5.2" fill="#1E90FF"/>
<circle cx="475.13" cy="631.48" r="5.2" fill="#1E90FF"/>
<circle cx="484.18" cy="633.11" r="5.2" fill="#1E90FF"/>
<circle cx="493.24" cy="641.98" r="5.2" fill="#1E90FF"/>
<circle cx="502.29" cy="626.57" r="5.2" fill="#1E90FF"/>
<circle cx="511.35" cy="624.47" r="5.2" fill="#1E90FF"/>
</g>
<rect x="67.7" y="557.7" width="452.7" height="350.2" fill="none" stroke="#333333" stroke-width="1.2"/>
<path d="M67.7 907.9v-4M67.7 557.7v4M158.24 907.9v-4M158.24 557.7v4M248.78 907.9v-4M248.78 557.7v4M339.32 907.9v-4M339.32 557.7v4M429.86 907.9v-4M429.86 557.7v4M520.4 907.9v-4M520.4 557.7v4M67.7 884.55h4M520.4 884.55h-4M67.7 837.86h4M520.4 837.86h-4M67.7 791.17h4M520.4 791.17h-4M67.7 744.47h4M520.4 744.47h-4M67.7 697.78h4M520.4 697.78h-4M67.7 651.09h4M520.4 651.09h-4M67.7 604.39h4M520.4 604.39h-4M67.7 557.7h4M520.4 557.7h-4" stroke="#333333" stroke-width="1" fill="none"/>
<text x="67.7" y="924" font-size="15.54" font-family='"Liberation Sans", sans-serif' text-anchor="middle" textLength="9.1" lengthAdjust="spacingAndGlyphs">0</text>
<text x="158.24" y="924" font-size="15.54" font-family='"Liberation Sans", sans-serif' text-anchor="middle" textLength="27.3" lengthAdjust="spacingAndGlyphs">100</text>
<text x="248.78" y="924" font-size="15.54" font-family='"Liberation Sans", sans-serif' text-anchor="middle" textLength="27.3" lengthAdjust="spacingAndGlyphs">200</text>
<text x="339.32" y="924" font-size="15.54" font-family='"Liberation Sans", sans-serif' text-anchor="middle" textLength="27.3" lengthAdjust="spacingAndGlyphs">300</text>
<text x="429.86" y="924" font-size="15.54" font-family='"Liberation Sans", sans-serif' text-anchor="middle" textLength="27.3" lengthAdjust="spacingAndGlyphs">400</text>
<text x="520.4" y="924" font-size="15.54" font-family='"Liberation Sans", sans-serif' text-anchor="middle" textLength="27.3" lengthAdjust="spacingAndGlyphs">500</text>
<text x="62.8" y="889.12" font-size="15.54" font-family='"Liberation Sans", sans-serif' text-anchor="end" textLength="9.1" lengthAdjust="spacingAndGlyphs">0</text>
<text x="62.8" y="842.42" font-size="15.54" font-family='"Liberation Sans", sans-serif' text-anchor="end" textLength="18.2" lengthAdjust="spacingAndGlyphs">20</text>
<text x="62.8" y="795.73" font-size="15.54" font-family='"Liberation Sans", sans-serif' text-anchor="end" textLength="18.2" lengthAdjust="spacingAndGlyphs">40</text>
<text x="62.8" y="749.04" font-size="15.54" font-family='"Liberation Sans", sans-serif' text-anchor="end" textLength="18.2" lengthAdjust="spacingAndGlyphs">60</text>
<text x="62.8" y="702.34" font-size="15.54" font-family='"Liberation Sans", sans-serif' text-anchor="end" textLength="18.2" lengthAdjust="spacingAndGlyphs">80</text>
<text x="62.8" y="655.65" font-size="15.54" font-family='"Liberation Sans", sans-serif' text-anchor="end" textLength="27.3" lengthAdjust="spacingAndGlyphs">100</text>
<text x="62.8" y="608.96" font-size="15.54" font-family='"Liberation Sans", sans-serif' text-anchor="end" textLength="27.3" lengthAdjust="spacingAndGlyphs">120</text>
<text x="62.8" y="562.26" font-size="15.54" font-family='"Liberation Sans", sans-serif' text-anchor="end" textLength="27.3" lengthAdjust="spacingAndGlyphs">140</text>
<path d="M120.2 529.3H145.6" stroke="#FFA500" stroke-width="1.05"/>
<path d="M120.2 520.8v17M145.6 520.8v17" stroke="#FFA500" stroke-width="2"/>
<circle cx="120.2" cy="529.3" r="5.2" fill="#FFA500"/>
<circle cx="145.6" cy="529.3" r="5.2" fill="#FFA500"/>
<text x="151.4" y="535.24" font-size="16.5" font-family='"Liberation Sans", sans-serif' text-anchor="start" textLength="25.2" lengthAdjust="spacingAndGlyphs">FM</text>
<path d="M186.9 529.3H212" stroke="#FF6347" stroke-width="1.05"/>
<path d="M186.9 520.8v17M212 520.8v17" stroke="#FF6347" stroke-width="2"/>
<circle cx="186.9" cy="529.3" r="5.2" fill="#FF6347"/>
<circle cx="212" cy="529.3" r="5.2" fill="#FF6347"/>
<text x="218.5" y="535.24" font-size="16.5" font-family='"Liberation Sans", sans-serif' text-anchor="start" textLength="37.7" lengthAdjust="spacingAndGlyphs">GRU</text>
<path d="M266.8 529.3H292.2" stroke="#006400" stroke-width="1.05"/>
<path d="M266.8 520.8v17M292.2 520.8v17" stroke="#006400" stroke-width="2"/>
<circle cx="266.8" cy="529.3" r="5.2" fill="#006400"/>
<circle cx="292.2" cy="529.3" r="5.2" fill="#006400"/>
<text x="298.7" y="535.24" font-size="16.5" font-family='"Liberation Sans", sans-serif' text-anchor="start" textLength="76" lengthAdjust="spacingAndGlyphs">RPSP-Alt</text>
<path d="M384.4 529.3H409.8" stroke="#1E90FF" stroke-width="1.05"/>
<path d="M384.4 520.8v17M409.8 520.8v17" stroke="#1E90FF" stroke-width="2"/>
<circle cx="384.4" cy="529.3" r="5.2" fill="#1E90FF"/>
<circle cx="409.8" cy="529.3" r="5.2" fill="#1E90FF"/>
<text x="416.3" y="535.24" font-size="16.5" font-family='"Liberation Sans", sans-serif' text-anchor="start" textLength="101.5" lengthAdjust="spacingAndGlyphs">RPSP-VRPG</text>
<g transform="translate(24.5 803.2) rotate(-90)">
<text x="0" y="0" font-size="21" font-family='"Liberation Sans", sans-serif' text-anchor="start" textLength="93" lengthAdjust="spacingAndGlyphs">Swimmer</text>
<text x="100.5" y="0" font-size="22.05" font-family='"Liberation Serif", serif' text-anchor="start" textLength="14.5" lengthAdjust="spacingAndGlyphs" font-style="italic">R</text>
<text x="112.8" y="4.2" font-size="16.8" font-family='"Liberation Serif", serif' text-anchor="start" textLength="24.1" lengthAdjust="spacingAndGlyphs" font-style="italic">iter</text>
</g>
<text x="154.7" y="948.2" font-size="21" font-family='"Liberation Sans", sans-serif' textLength="280.3" lengthAdjust="spacingAndGlyphs">experience (<tspan font-family='"Liberation Serif", serif'>5000</tspan> timesteps)</text>
<text x="272" y="1001.3" font-size="31" font-family='"Liberation Serif", serif' text-anchor="middle" textLength="36" lengthAdjust="spacingAndGlyphs">(d)</text>
<g clip-path="url(#clipe)">
<clipPath id="clipe"><rect x="648.9" y="586.7" width="419.9" height="325.5"/></clipPath>
<path d="M648.9 910.59V907.37M657.3 906.72V902.85M665.7 899.95V895.44M674.09 891.25V886.1M682.49 883.52V877.72M690.89 877.39V870.95M699.29 872.88V865.79M707.69 866.76V859.02M716.08 859.02V850.65M724.48 845.49V836.46M732.88 835.5V825.83M741.28 823.01V813.18M749.68 804.72V794.73M758.07 790.95V780.79M766.47 776.85V766.52M774.87 744.71V734.21M783.27 733.51V722.85M791.67 724.57V713.74M800.06 709.5V698.51M808.46 693.47V682.32M816.86 701.29V689.97M825.26 695.89V684.41M833.66 677.93V666.28M842.05 677.37V665.55M850.45 670.04V658.06M858.85 686.56V674.41M867.25 653.44V641.13M875.65 675.44V662.96M884.04 666.5V653.86M892.44 653.69V640.88M900.84 652.81V639.83M909.24 656.11V642.97M917.64 643.31V630M926.03 657.89V644.42M934.43 637.02V623.39M942.83 653.22V639.42M951.23 656.53V642.56M959.63 649.52V635.39M968.02 651.86V637.56M976.42 640.02V625.56M984.82 646.54V631.92M993.22 653.07V638.28M1001.62 652.19V637.23M1010.01 658.72V643.59M1018.41 660.41V645.12M1026.81 648.25V632.79M1035.21 647.68V632.07M1043.61 650.35V634.56M1052 652.68V636.74M1060.4 663.4V647.29" stroke="#1E90FF" stroke-width="2" fill="none"/>
<path d="M648.9 908.98L657.3 904.79L665.7 897.7L674.09 888.67L682.49 880.62L690.89 874.17L699.29 869.34L707.69 862.89L716.08 854.83L724.48 840.98L732.88 830.66L741.28 818.1L749.68 799.73L758.07 785.87L766.47 771.69L774.87 739.46L783.27 728.18L791.67 719.16L800.06 704.01L808.46 687.9L816.86 695.63L825.26 690.15L833.66 672.1L842.05 671.46L850.45 664.05L858.85 680.48L867.25 647.29L875.65 669.2L884.04 660.18L892.44 647.29L900.84 646.32L909.24 649.54L917.64 636.65L926.03 651.16L934.43 630.21L942.83 646.32L951.23 649.54L959.63 642.45L968.02 644.71L976.42 632.79L984.82 639.23L993.22 645.68L1001.62 644.71L1010.01 651.16L1018.41 652.77L1026.81 640.52L1035.21 639.88L1043.61 642.45L1052 644.71L1060.4 655.35" stroke="#1E90FF" stroke-width="1.05" fill="none"/>
<rect x="644.15" y="904.23" width="9.5" height="9.5" fill="#1E90FF"/>
<rect x="652.55" y="900.04" width="9.5" height="9.5" fill="#1E90FF"/>
<rect x="660.95" y="892.95" width="9.5" height="9.5" fill="#1E90FF"/>
<rect x="669.34" y="883.92" width="9.5" height="9.5" fill="#1E90FF"/>
<rect x="677.74" y="875.87" width="9.5" height="9.5" fill="#1E90FF"/>
<rect x="686.14" y="869.42" width="9.5" height="9.5" fill="#1E90FF"/>
<rect x="694.54" y="864.59" width="9.5" height="9.5" fill="#1E90FF"/>
<rect x="702.94" y="858.14" width="9.5" height="9.5" fill="#1E90FF"/>
<rect x="711.33" y="850.08" width="9.5" height="9.5" fill="#1E90FF"/>
<rect x="719.73" y="836.23" width="9.5" height="9.5" fill="#1E90FF"/>
<rect x="728.13" y="825.91" width="9.5" height="9.5" fill="#1E90FF"/>
<rect x="736.53" y="813.35" width="9.5" height="9.5" fill="#1E90FF"/>
<rect x="744.93" y="794.98" width="9.5" height="9.5" fill="#1E90FF"/>
<rect x="753.32" y="781.12" width="9.5" height="9.5" fill="#1E90FF"/>
<rect x="761.72" y="766.94" width="9.5" height="9.5" fill="#1E90FF"/>
<rect x="770.12" y="734.71" width="9.5" height="9.5" fill="#1E90FF"/>
<rect x="778.52" y="723.43" width="9.5" height="9.5" fill="#1E90FF"/>
<rect x="786.92" y="714.41" width="9.5" height="9.5" fill="#1E90FF"/>
<rect x="795.31" y="699.26" width="9.5" height="9.5" fill="#1E90FF"/>
<rect x="803.71" y="683.15" width="9.5" height="9.5" fill="#1E90FF"/>
<rect x="812.11" y="690.88" width="9.5" height="9.5" fill="#1E90FF"/>
<rect x="820.51" y="685.4" width="9.5" height="9.5" fill="#1E90FF"/>
<rect x="828.91" y="667.35" width="9.5" height="9.5" fill="#1E90FF"/>
<rect x="837.3" y="666.71" width="9.5" height="9.5" fill="#1E90FF"/>
<rect x="845.7" y="659.3" width="9.5" height="9.5" fill="#1E90FF"/>
<rect x="854.1" y="675.73" width="9.5" height="9.5" fill="#1E90FF"/>
<rect x="862.5" y="642.54" width="9.5" height="9.5" fill="#1E90FF"/>
<rect x="870.9" y="664.45" width="9.5" height="9.5" fill="#1E90FF"/>
<rect x="879.29" y="655.43" width="9.5" height="9.5" fill="#1E90FF"/>
<rect x="887.69" y="642.54" width="9.5" height="9.5" fill="#1E90FF"/>
<rect x="896.09" y="641.57" width="9.5" height="9.5" fill="#1E90FF"/>
<rect x="904.49" y="644.79" width="9.5" height="9.5" fill="#1E90FF"/>
<rect x="912.89" y="631.9" width="9.5" height="9.5" fill="#1E90FF"/>
<rect x="921.28" y="646.41" width="9.5" height="9.5" fill="#1E90FF"/>
<rect x="929.68" y="625.46" width="9.5" height="9.5" fill="#1E90FF"/>
<rect x="938.08" y="641.57" width="9.5" height="9.5" fill="#1E90FF"/>
<rect x="946.48" y="644.79" width="9.5" height="9.5" fill="#1E90FF"/>
<rect x="954.88" y="637.7" width="9.5" height="9.5" fill="#1E90FF"/>
<rect x="963.27" y="639.96" width="9.5" height="9.5" fill="#1E90FF"/>
<rect x="971.67" y="628.04" width="9.5" height="9.5" fill="#1E90FF"/>
<rect x="980.07" y="634.48" width="9.5" height="9.5" fill="#1E90FF"/>
<rect x="988.47" y="640.93" width="9.5" height="9.5" fill="#1E90FF"/>
<rect x="996.87" y="639.96" width="9.5" height="9.5" fill="#1E90FF"/>
<rect x="1005.26" y="646.41" width="9.5" height="9.5" fill="#1E90FF"/>
<rect x="1013.66" y="648.02" width="9.5" height="9.5" fill="#1E90FF"/>
<rect x="1022.06" y="635.77" width="9.5" height="9.5" fill="#1E90FF"/>
<rect x="1030.46" y="635.13" width="9.5" height="9.5" fill="#1E90FF"/>
<rect x="1038.86" y="637.7" width="9.5" height="9.5" fill="#1E90FF"/>
<rect x="1047.25" y="639.96" width="9.5" height="9.5" fill="#1E90FF"/>
<rect x="1055.65" y="650.6" width="9.5" height="9.5" fill="#1E90FF"/>
<path d="M648.9 906.4V903.18M657.3 900.28V896.41M665.7 892.54V888.03M674.09 887.38V882.23M682.49 880.29V874.49M690.89 874.17V867.73M699.29 869.66V862.57M707.69 860.31V852.58M716.08 850.32V841.94M724.48 838.4V829.37M732.88 821.64V811.97M741.28 817.53V807.7M749.68 796.67V786.67M758.07 787.08V776.92M766.47 778.14V767.81M774.87 771.13V760.64M783.27 760.9V750.24M791.67 758.41V747.58M800.06 741.41V730.42M808.46 729.57V718.41M816.86 717.4V706.08M825.26 718.45V706.97M833.66 720.15V708.5M842.05 696.06V684.24M850.45 716.45V704.46M858.85 699.45V687.3M867.25 695.34V683.03M875.65 691.56V679.08M884.04 686.16V673.52M892.44 684.31V671.5M900.84 678.27V665.29M909.24 687.05V673.91M917.64 661.67V648.37M926.03 669.49V656.02M934.43 658.62V644.98M942.83 675.14V661.34M951.23 669.1V655.13M959.63 669.18V655.05M968.02 661.85V647.55M976.42 668.7V654.24M984.82 660.72V646.1M993.22 660.81V646.02M1001.62 665.08V650.12M1010.01 650.66V635.54M1018.41 659.77V644.48M1026.81 663.72V648.26M1035.21 643.5V627.88M1043.61 656.79V641.01M1052 652.04V636.09M1060.4 648.58V632.46" stroke="#B22222" stroke-width="2" fill="none"/>
<path d="M648.9 904.79L657.3 898.34L665.7 890.29L674.09 884.81L682.49 877.39L690.89 870.95L699.29 866.11L707.69 856.45L716.08 846.13L724.48 833.89L732.88 816.81L741.28 812.62L749.68 791.67L758.07 782L766.47 772.98L774.87 765.89L783.27 755.57L791.67 753L800.06 735.91L808.46 723.99L816.86 711.74L825.26 712.71L833.66 714.32L842.05 690.15L850.45 710.45L858.85 693.37L867.25 689.18L875.65 685.32L884.04 679.84L892.44 677.9L900.84 671.78L909.24 680.48L917.64 655.02L926.03 662.76L934.43 651.8L942.83 668.24L951.23 662.11L959.63 662.11L968.02 654.7L976.42 661.47L984.82 653.41L993.22 653.41L1001.62 657.6L1010.01 643.1L1018.41 652.12L1026.81 655.99L1035.21 635.69L1043.61 648.9L1052 644.07L1060.4 640.52" stroke="#B22222" stroke-width="1.05" fill="none"/>
<circle cx="648.9" cy="904.79" r="4.94" fill="#B22222"/>
<circle cx="657.3" cy="898.34" r="4.94" fill="#B22222"/>
<circle cx="665.7" cy="890.29" r="4.94" fill="#B22222"/>
<circle cx="674.09" cy="884.81" r="4.94" fill="#B22222"/>
<circle cx="682.49" cy="877.39" r="4.94" fill="#B22222"/>
<circle cx="690.89" cy="870.95" r="4.94" fill="#B22222"/>
<circle cx="699.29" cy="866.11" r="4.94" fill="#B22222"/>
<circle cx="707.69" cy="856.45" r="4.94" fill="#B22222"/>
<circle cx="716.08" cy="846.13" r="4.94" fill="#B22222"/>
<circle cx="724.48" cy="833.89" r="4.94" fill="#B22222"/>
<circle cx="732.88" cy="816.81" r="4.94" fill="#B22222"/>
<circle cx="741.28" cy="812.62" r="4.94" fill="#B22222"/>
<circle cx="749.68" cy="791.67" r="4.94" fill="#B22222"/>
<circle cx="758.07" cy="782" r="4.94" fill="#B22222"/>
<circle cx="766.47" cy="772.98" r="4.94" fill="#B22222"/>
<circle cx="774.87" cy="765.89" r="4.94" fill="#B22222"/>
<circle cx="783.27" cy="755.57" r="4.94" fill="#B22222"/>
<circle cx="791.67" cy="753" r="4.94" fill="#B22222"/>
<circle cx="800.06" cy="735.91" r="4.94" fill="#B22222"/>
<circle cx="808.46" cy="723.99" r="4.94" fill="#B22222"/>
<circle cx="816.86" cy="711.74" r="4.94" fill="#B22222"/>
<circle cx="825.26" cy="712.71" r="4.94" fill="#B22222"/>
<circle cx="833.66" cy="714.32" r="4.94" fill="#B22222"/>
<circle cx="842.05" cy="690.15" r="4.94" fill="#B22222"/>
<circle cx="850.45" cy="710.45" r="4.94" fill="#B22222"/>
<circle cx="858.85" cy="693.37" r="4.94" fill="#B22222"/>
<circle cx="867.25" cy="689.18" r="4.94" fill="#B22222"/>
<circle cx="875.65" cy="685.32" r="4.94" fill="#B22222"/>
<circle cx="884.04" cy="679.84" r="4.94" fill="#B22222"/>
<circle cx="892.44" cy="677.9" r="4.94" fill="#B22222"/>
<circle cx="900.84" cy="671.78" r="4.94" fill="#B22222"/>
<circle cx="909.24" cy="680.48" r="4.94" fill="#B22222"/>
<circle cx="917.64" cy="655.02" r="4.94" fill="#B22222"/>
<circle cx="926.03" cy="662.76" r="4.94" fill="#B22222"/>
<circle cx="934.43" cy="651.8" r="4.94" fill="#B22222"/>
<circle cx="942.83" cy="668.24" r="4.94" fill="#B22222"/>
<circle cx="951.23" cy="662.11" r="4.94" fill="#B22222"/>
<circle cx="959.63" cy="662.11" r="4.94" fill="#B22222"/>
<circle cx="968.02" cy="654.7" r="4.94" fill="#B22222"/>
<circle cx="976.42" cy="661.47" r="4.94" fill="#B22222"/>
<circle cx="984.82" cy="653.41" r="4.94" fill="#B22222"/>
<circle cx="993.22" cy="653.41" r="4.94" fill="#B22222"/>
<circle cx="1001.62" cy="657.6" r="4.94" fill="#B22222"/>
<circle cx="1010.01" cy="643.1" r="4.94" fill="#B22222"/>
<circle cx="1018.41" cy="652.12" r="4.94" fill="#B22222"/>
<circle cx="1026.81" cy="655.99" r="4.94" fill="#B22222"/>
<circle cx="1035.21" cy="635.69" r="4.94" fill="#B22222"/>
<circle cx="1043.61" cy="648.9" r="4.94" fill="#B22222"/>
<circle cx="1052" cy="644.07" r="4.94" fill="#B22222"/>
<circle cx="1060.4" cy="640.52" r="4.94" fill="#B22222"/>
<path d="M648.9 907.37V904.14M657.3 901.16V895.52M665.7 887.87V879.81M674.09 883.6V873.12M682.49 875.78V862.89M690.89 871.49V857.52M699.29 876.86V861.82M707.69 870.3V854.19M716.08 864.5V819.38M724.48 872.56V846.78M732.88 880.56V853.6M741.28 870.51V842.38M749.68 869.48V840.19M758.07 877.48V847.01M766.47 868.4V836.76M774.87 855.13V822.31M783.27 842.82V808.84M791.67 835.67V800.52M800.06 829.17V792.84M808.46 825.89V788.39M816.86 835.18V796.5M825.26 832.38V792.85M833.66 838.29V797.9M842.05 828.41V787.16M850.45 827.23V785.12M858.85 819.6V776.63M867.25 822.61V778.78M875.65 818.85V774.16M884.04 811.22V765.67M892.44 806.82V760.41M900.84 813.69V766.42M909.24 813.15V765.03M917.64 821V772.01M926.03 819.81V769.97M934.43 786.4V735.7M942.83 778.78V727.21M951.23 754.84V702.81M959.63 779.24V726.75M968.02 793.97V741.02M976.42 806.12V752.72M984.82 794.43V740.56M993.22 798.85V744.52M1001.62 799.08V744.29M1010.01 792.87V737.62M1018.41 759.9V704.19M1026.81 761.1V704.93M1035.21 745.21V688.59M1043.61 748.67V691.58M1052 764.69V707.14M1060.4 744.94V686.93" stroke="#808080" stroke-width="2" fill="none"/>
<path d="M648.9 905.75L657.3 898.34L665.7 883.84L674.09 878.36L682.49 869.34L690.89 864.5L699.29 869.34L707.69 862.25L716.08 841.94L724.48 859.67L732.88 867.08L741.28 856.45L749.68 854.83L758.07 862.25L766.47 852.58L774.87 838.72L783.27 825.83L791.67 818.1L800.06 811L808.46 807.14L816.86 815.84L825.26 812.62L833.66 818.1L842.05 807.78L850.45 806.17L858.85 798.11L867.25 800.69L875.65 796.5L884.04 788.45L892.44 783.61L900.84 790.06L909.24 789.09L917.64 796.5L926.03 794.89L934.43 761.05L942.83 753L951.23 728.82L959.63 753L968.02 767.5L976.42 779.42L984.82 767.5L993.22 771.69L1001.62 771.69L1010.01 765.24L1018.41 732.05L1026.81 733.01L1035.21 716.9L1043.61 720.12L1052 735.91L1060.4 715.93" stroke="#808080" stroke-width="1.05" fill="none"/>
<path d="M648.9 900.43L653.84 910.28L643.96 910.28Z" fill="#808080"/>
<path d="M657.3 893.02L662.24 902.86L652.36 902.86Z" fill="#808080"/>
<path d="M665.7 878.52L670.64 888.36L660.76 888.36Z" fill="#808080"/>
<path d="M674.09 873.04L679.03 882.88L669.15 882.88Z" fill="#808080"/>
<path d="M682.49 864.02L687.43 873.86L677.55 873.86Z" fill="#808080"/>
<path d="M690.89 859.18L695.83 869.02L685.95 869.02Z" fill="#808080"/>
<path d="M699.29 864.02L704.23 873.86L694.35 873.86Z" fill="#808080"/>
<path d="M707.69 856.93L712.63 866.77L702.75 866.77Z" fill="#808080"/>
<path d="M716.08 836.62L721.02 846.47L711.14 846.47Z" fill="#808080"/>
<path d="M724.48 854.35L729.42 864.19L719.54 864.19Z" fill="#808080"/>
<path d="M732.88 861.76L737.82 871.6L727.94 871.6Z" fill="#808080"/>
<path d="M741.28 851.13L746.22 860.97L736.34 860.97Z" fill="#808080"/>
<path d="M749.68 849.51L754.62 859.36L744.74 859.36Z" fill="#808080"/>
<path d="M758.07 856.93L763.01 866.77L753.13 866.77Z" fill="#808080"/>
<path d="M766.47 847.26L771.41 857.1L761.53 857.1Z" fill="#808080"/>
<path d="M774.87 833.4L779.81 843.24L769.93 843.24Z" fill="#808080"/>
<path d="M783.27 820.51L788.21 830.35L778.33 830.35Z" fill="#808080"/>
<path d="M791.67 812.78L796.61 822.62L786.73 822.62Z" fill="#808080"/>
<path d="M800.06 805.68L805 815.53L795.12 815.53Z" fill="#808080"/>
<path d="M808.46 801.82L813.4 811.66L803.52 811.66Z" fill="#808080"/>
<path d="M816.86 810.52L821.8 820.36L811.92 820.36Z" fill="#808080"/>
<path d="M825.26 807.3L830.2 817.14L820.32 817.14Z" fill="#808080"/>
<path d="M833.66 812.78L838.6 822.62L828.72 822.62Z" fill="#808080"/>
<path d="M842.05 802.46L846.99 812.3L837.11 812.3Z" fill="#808080"/>
<path d="M850.45 800.85L855.39 810.69L845.51 810.69Z" fill="#808080"/>
<path d="M858.85 792.79L863.79 802.64L853.91 802.64Z" fill="#808080"/>
<path d="M867.25 795.37L872.19 805.21L862.31 805.21Z" fill="#808080"/>
<path d="M875.65 791.18L880.59 801.02L870.71 801.02Z" fill="#808080"/>
<path d="M884.04 783.13L888.98 792.97L879.1 792.97Z" fill="#808080"/>
<path d="M892.44 778.29L897.38 788.13L887.5 788.13Z" fill="#808080"/>
<path d="M900.84 784.74L905.78 794.58L895.9 794.58Z" fill="#808080"/>
<path d="M909.24 783.77L914.18 793.61L904.3 793.61Z" fill="#808080"/>
<path d="M917.64 791.18L922.58 801.02L912.7 801.02Z" fill="#808080"/>
<path d="M926.03 789.57L930.97 799.41L921.09 799.41Z" fill="#808080"/>
<path d="M934.43 755.73L939.37 765.57L929.49 765.57Z" fill="#808080"/>
<path d="M942.83 747.68L947.77 757.52L937.89 757.52Z" fill="#808080"/>
<path d="M951.23 723.5L956.17 733.35L946.29 733.35Z" fill="#808080"/>
<path d="M959.63 747.68L964.57 757.52L954.69 757.52Z" fill="#808080"/>
<path d="M968.02 762.18L972.96 772.02L963.08 772.02Z" fill="#808080"/>
<path d="M976.42 774.1L981.36 783.94L971.48 783.94Z" fill="#808080"/>
<path d="M984.82 762.18L989.76 772.02L979.88 772.02Z" fill="#808080"/>
<path d="M993.22 766.37L998.16 776.21L988.28 776.21Z" fill="#808080"/>
<path d="M1001.62 766.37L1006.56 776.21L996.68 776.21Z" fill="#808080"/>
<path d="M1010.01 759.92L1014.95 769.76L1005.07 769.76Z" fill="#808080"/>
<path d="M1018.41 726.73L1023.35 736.57L1013.47 736.57Z" fill="#808080"/>
<path d="M1026.81 727.69L1031.75 737.54L1021.87 737.54Z" fill="#808080"/>
<path d="M1035.21 711.58L1040.15 721.42L1030.27 721.42Z" fill="#808080"/>
<path d="M1043.61 714.8L1048.55 724.64L1038.67 724.64Z" fill="#808080"/>
<path d="M1052 730.59L1056.94 740.44L1047.06 740.44Z" fill="#808080"/>
<path d="M1060.4 710.61L1065.34 720.46L1055.46 720.46Z" fill="#808080"/>
<path d="M648.9 907.37V904.14M657.3 895.28V891.74M665.7 891.57V887.71M674.09 889.16V884.97M682.49 887.71V883.2M690.89 886.9V882.07M699.29 887.38V882.23M707.69 885.61V880.13M716.08 884.48V878.68M724.48 884.65V878.52M732.88 883.84V877.39M741.28 883.91V877.33M749.68 883.33V876.62M758.07 883.07V876.23M766.47 883.46V876.49M774.87 884.17V877.06M783.27 885.85V878.61M791.67 884.3V876.93M800.06 882.76V875.25M808.46 882.18V874.54M816.86 882.89V875.12M825.26 882.31V874.41M833.66 882.38V874.34M842.05 882.44V874.28M850.45 882.51V874.21M858.85 882.58V874.15M867.25 883.61V875.05M875.65 882.39V873.69M884.04 882.13V873.3M892.44 882.2V873.24M900.84 882.58V873.49M909.24 882.97V873.75M917.64 882.39V873.04M926.03 882.14V872.65M934.43 882.53V872.91M942.83 882.59V872.84M951.23 882.66V872.77M959.63 881.76V871.74M968.02 882.79V872.64M976.42 883.5V873.22M984.82 882.92V872.51M993.22 882.67V872.12M1001.62 882.73V872.06M1010.01 882.15V871.35M1018.41 882.86V871.92M1026.81 882.93V871.86M1035.21 881.71V870.5M1043.61 882.42V871.08M1052 883.77V872.3M1060.4 884.16V872.56" stroke="#000000" stroke-width="2" fill="none"/>
<path d="M648.9 905.75L657.3 893.51L665.7 889.64L674.09 887.06L682.49 885.45L690.89 884.48L699.29 884.81L707.69 882.87L716.08 881.58L724.48 881.58L732.88 880.62L741.28 880.62L749.68 879.97L758.07 879.65L766.47 879.97L774.87 880.62L783.27 882.23L791.67 880.62L800.06 879.01L808.46 878.36L816.86 879.01L825.26 878.36L833.66 878.36L842.05 878.36L850.45 878.36L858.85 878.36L867.25 879.33L875.65 878.04L884.04 877.72L892.44 877.72L900.84 878.04L909.24 878.36L917.64 877.72L926.03 877.39L934.43 877.72L942.83 877.72L951.23 877.72L959.63 876.75L968.02 877.72L976.42 878.36L984.82 877.72L993.22 877.39L1001.62 877.39L1010.01 876.75L1018.41 877.39L1026.81 877.39L1035.21 876.1L1043.61 876.75L1052 878.04L1060.4 878.36" stroke="#000000" stroke-width="1.05" fill="none"/>
<path d="M648.9 900.43L653.37 905.75L648.9 911.07L644.43 905.75Z" fill="#000000"/>
<path d="M657.3 888.19L661.76 893.51L657.3 898.83L652.83 893.51Z" fill="#000000"/>
<path d="M665.7 884.32L670.16 889.64L665.7 894.96L661.23 889.64Z" fill="#000000"/>
<path d="M674.09 881.74L678.56 887.06L674.09 892.38L669.63 887.06Z" fill="#000000"/>
<path d="M682.49 880.13L686.96 885.45L682.49 890.77L678.03 885.45Z" fill="#000000"/>
<path d="M690.89 879.16L695.36 884.48L690.89 889.8L686.42 884.48Z" fill="#000000"/>
<path d="M699.29 879.49L703.75 884.81L699.29 890.13L694.82 884.81Z" fill="#000000"/>
<path d="M707.69 877.55L712.15 882.87L707.69 888.19L703.22 882.87Z" fill="#000000"/>
<path d="M716.08 876.26L720.55 881.58L716.08 886.9L711.62 881.58Z" fill="#000000"/>
<path d="M724.48 876.26L728.95 881.58L724.48 886.9L720.02 881.58Z" fill="#000000"/>
<path d="M732.88 875.3L737.35 880.62L732.88 885.94L728.41 880.62Z" fill="#000000"/>
<path d="M741.28 875.3L745.74 880.62L741.28 885.94L736.81 880.62Z" fill="#000000"/>
<path d="M749.68 874.65L754.14 879.97L749.68 885.29L745.21 879.97Z" fill="#000000"/>
<path d="M758.07 874.33L762.54 879.65L758.07 884.97L753.61 879.65Z" fill="#000000"/>
<path d="M766.47 874.65L770.94 879.97L766.47 885.29L762.01 879.97Z" fill="#000000"/>
<path d="M774.87 875.3L779.34 880.62L774.87 885.94L770.4 880.62Z" fill="#000000"/>
<path d="M783.27 876.91L787.73 882.23L783.27 887.55L778.8 882.23Z" fill="#000000"/>
<path d="M791.67 875.3L796.13 880.62L791.67 885.94L787.2 880.62Z" fill="#000000"/>
<path d="M800.06 873.69L804.53 879.01L800.06 884.33L795.6 879.01Z" fill="#000000"/>
<path d="M808.46 873.04L812.93 878.36L808.46 883.68L804 878.36Z" fill="#000000"/>
<path d="M816.86 873.69L821.33 879.01L816.86 884.33L812.39 879.01Z" fill="#000000"/>
<path d="M825.26 873.04L829.72 878.36L825.26 883.68L820.79 878.36Z" fill="#000000"/>
<path d="M833.66 873.04L838.12 878.36L833.66 883.68L829.19 878.36Z" fill="#000000"/>
<path d="M842.05 873.04L846.52 878.36L842.05 883.68L837.59 878.36Z" fill="#000000"/>
<path d="M850.45 873.04L854.92 878.36L850.45 883.68L845.99 878.36Z" fill="#000000"/>
<path d="M858.85 873.04L863.31 878.36L858.85 883.68L854.38 878.36Z" fill="#000000"/>
<path d="M867.25 874.01L871.71 879.33L867.25 884.65L862.78 879.33Z" fill="#000000"/>
<path d="M875.65 872.72L880.11 878.04L875.65 883.36L871.18 878.04Z" fill="#000000"/>
<path d="M884.04 872.4L888.51 877.72L884.04 883.04L879.58 877.72Z" fill="#000000"/>
<path d="M892.44 872.4L896.91 877.72L892.44 883.04L887.98 877.72Z" fill="#000000"/>
<path d="M900.84 872.72L905.3 878.04L900.84 883.36L896.37 878.04Z" fill="#000000"/>
<path d="M909.24 873.04L913.7 878.36L909.24 883.68L904.77 878.36Z" fill="#000000"/>
<path d="M917.64 872.4L922.1 877.72L917.64 883.04L913.17 877.72Z" fill="#000000"/>
<path d="M926.03 872.07L930.5 877.39L926.03 882.71L921.57 877.39Z" fill="#000000"/>
<path d="M934.43 872.4L938.9 877.72L934.43 883.04L929.97 877.72Z" fill="#000000"/>
<path d="M942.83 872.4L947.29 877.72L942.83 883.04L938.36 877.72Z" fill="#000000"/>
<path d="M951.23 872.4L955.69 877.72L951.23 883.04L946.76 877.72Z" fill="#000000"/>
<path d="M959.63 871.43L964.09 876.75L959.63 882.07L955.16 876.75Z" fill="#000000"/>
<path d="M968.02 872.4L972.49 877.72L968.02 883.04L963.56 877.72Z" fill="#000000"/>
<path d="M976.42 873.04L980.89 878.36L976.42 883.68L971.96 878.36Z" fill="#000000"/>
<path d="M984.82 872.4L989.28 877.72L984.82 883.04L980.35 877.72Z" fill="#000000"/>
<path d="M993.22 872.07L997.68 877.39L993.22 882.71L988.75 877.39Z" fill="#000000"/>
<path d="M1001.62 872.07L1006.08 877.39L1001.62 882.71L997.15 877.39Z" fill="#000000"/>
<path d="M1010.01 871.43L1014.48 876.75L1010.01 882.07L1005.55 876.75Z" fill="#000000"/>
<path d="M1018.41 872.07L1022.88 877.39L1018.41 882.71L1013.95 877.39Z" fill="#000000"/>
<path d="M1026.81 872.07L1031.27 877.39L1026.81 882.71L1022.34 877.39Z" fill="#000000"/>
<path d="M1035.21 870.78L1039.67 876.1L1035.21 881.42L1030.74 876.1Z" fill="#000000"/>
<path d="M1043.61 871.43L1048.07 876.75L1043.61 882.07L1039.14 876.75Z" fill="#000000"/>
<path d="M1052 872.72L1056.47 878.04L1052 883.36L1047.54 878.04Z" fill="#000000"/>
<path d="M1060.4 873.04L1064.87 878.36L1060.4 883.68L1055.94 878.36Z" fill="#000000"/>
</g>
<rect x="648.9" y="586.7" width="419.9" height="325.5" fill="none" stroke="#333333" stroke-width="1.2"/>
<path d="M648.9 912.2v-4M648.9 586.7v4M732.88 912.2v-4M732.88 586.7v4M816.86 912.2v-4M816.86 586.7v4M900.84 912.2v-4M900.84 586.7v4M984.82 912.2v-4M984.82 586.7v4M1068.8 912.2v-4M1068.8 586.7v4M648.9 908.98h4M1068.8 908.98h-4M648.9 844.52h4M1068.8 844.52h-4M648.9 780.07h4M1068.8 780.07h-4M648.9 715.61h4M1068.8 715.61h-4M648.9 651.16h4M1068.8 651.16h-4M648.9 586.7h4M1068.8 586.7h-4" stroke="#333333" stroke-width="1" fill="none"/>
<text x="648.9" y="926.6" font-size="14.6" font-family='"Liberation Sans", sans-serif' text-anchor="middle" textLength="8.5" lengthAdjust="spacingAndGlyphs">0</text>
<text x="732.88" y="926.6" font-size="14.6" font-family='"Liberation Sans", sans-serif' text-anchor="middle" textLength="25.5" lengthAdjust="spacingAndGlyphs">100</text>
<text x="816.86" y="926.6" font-size="14.6" font-family='"Liberation Sans", sans-serif' text-anchor="middle" textLength="25.5" lengthAdjust="spacingAndGlyphs">200</text>
<text x="900.84" y="926.6" font-size="14.6" font-family='"Liberation Sans", sans-serif' text-anchor="middle" textLength="25.5" lengthAdjust="spacingAndGlyphs">300</text>
<text x="984.82" y="926.6" font-size="14.6" font-family='"Liberation Sans", sans-serif' text-anchor="middle" textLength="25.5" lengthAdjust="spacingAndGlyphs">400</text>
<text x="1068.8" y="926.6" font-size="14.6" font-family='"Liberation Sans", sans-serif' text-anchor="middle" textLength="25.5" lengthAdjust="spacingAndGlyphs">500</text>
<text x="644.1" y="913.2" font-size="14.6" font-family='"Liberation Sans", sans-serif' text-anchor="end" textLength="8.5" lengthAdjust="spacingAndGlyphs">0</text>
<text x="644.1" y="848.75" font-size="14.6" font-family='"Liberation Sans", sans-serif' text-anchor="end" textLength="25.5" lengthAdjust="spacingAndGlyphs">200</text>
<text x="644.1" y="784.29" font-size="14.6" font-family='"Liberation Sans", sans-serif' text-anchor="end" textLength="25.5" lengthAdjust="spacingAndGlyphs">400</text>
<text x="644.1" y="719.84" font-size="14.6" font-family='"Liberation Sans", sans-serif' text-anchor="end" textLength="25.5" lengthAdjust="spacingAndGlyphs">600</text>
<text x="644.1" y="655.38" font-size="14.6" font-family='"Liberation Sans", sans-serif' text-anchor="end" textLength="25.5" lengthAdjust="spacingAndGlyphs">800</text>
<text x="644.1" y="590.93" font-size="14.6" font-family='"Liberation Sans", sans-serif' text-anchor="end" textLength="34" lengthAdjust="spacingAndGlyphs">1000</text>
<path d="M650.6 561H673.7" stroke="#1E90FF" stroke-width="1.05"/>
<path d="M650.6 553v16M673.7 553v16" stroke="#1E90FF" stroke-width="2"/>
<rect x="645.85" y="556.25" width="9.5" height="9.5" fill="#1E90FF"/>
<rect x="668.95" y="556.25" width="9.5" height="9.5" fill="#1E90FF"/>
<text x="680.2" y="566.87" font-size="16.3" font-family='"Liberation Sans", sans-serif' text-anchor="start" textLength="41.2" lengthAdjust="spacingAndGlyphs">RPSP</text>
<path d="M731.1 561H754.3" stroke="#B22222" stroke-width="1.05"/>
<path d="M731.1 553v16M754.3 553v16" stroke="#B22222" stroke-width="2"/>
<circle cx="731.1" cy="561" r="4.94" fill="#B22222"/>
<circle cx="754.3" cy="561" r="4.94" fill="#B22222"/>
<text x="760.1" y="566.87" font-size="16.3" font-family='"Liberation Sans", sans-serif' text-anchor="start" textLength="60.6" lengthAdjust="spacingAndGlyphs">fix_PSR</text>
<path d="M831 561H854.2" stroke="#808080" stroke-width="1.05"/>
<path d="M831 553v16M854.2 553v16" stroke="#808080" stroke-width="2"/>
<path d="M831 555.68L835.94 565.52L826.06 565.52Z" fill="#808080"/>
<path d="M854.2 555.68L859.14 565.52L849.26 565.52Z" fill="#808080"/>
<text x="860" y="566.87" font-size="16.3" font-family='"Liberation Sans", sans-serif' text-anchor="start" textLength="107.9" lengthAdjust="spacingAndGlyphs">reactive_PSR</text>
<path d="M977.6 561H1000.8" stroke="#000000" stroke-width="1.05"/>
<path d="M977.6 553v16M1000.8 553v16" stroke="#000000" stroke-width="2"/>
<path d="M977.6 555.68L982.07 561L977.6 566.32L973.13 561Z" fill="#000000"/>
<path d="M1000.8 555.68L1005.26 561L1000.8 566.32L996.33 561Z" fill="#000000"/>
<text x="1006.6" y="566.87" font-size="16.3" font-family='"Liberation Sans", sans-serif' text-anchor="start" textLength="104.7" lengthAdjust="spacingAndGlyphs">random_PSR</text>
<g transform="translate(600 898.6) rotate(-90)">
<text x="0" y="0" font-size="19" font-family='"Liberation Sans", sans-serif' text-anchor="start" textLength="255.4" lengthAdjust="spacingAndGlyphs">Hopper Filter regularization</text>
<text x="262.9" y="0" font-size="19.95" font-family='"Liberation Serif", serif' text-anchor="start" textLength="14.5" lengthAdjust="spacingAndGlyphs" font-style="italic">R</text>
<text x="275.2" y="3.8" font-size="15.2" font-family='"Liberation Serif", serif' text-anchor="start" textLength="23.8" lengthAdjust="spacingAndGlyphs" font-style="italic">iter</text>
</g>
<text x="724" y="947.6" font-size="19" font-family='"Liberation Sans", sans-serif' textLength="269.7" lengthAdjust="spacingAndGlyphs">experience (<tspan font-family='"Liberation Serif", serif'>10000</tspan> timesteps)</text>
<text x="853" y="1001.3" font-size="31" font-family='"Liberation Serif", serif' text-anchor="middle" textLength="36" lengthAdjust="spacingAndGlyphs">(e)</text>
<g clip-path="url(#clipf)">
<clipPath id="clipf"><rect x="1237.6" y="559.3" width="451.7" height="349.3"/></clipPath>
<path d="M1237.6 898.92V895.46M1246.63 866.41V860.87M1255.67 838.39V830.79M1264.7 823.87V814.19M1273.74 807.27V795.51M1282.77 797.58V783.75M1291.8 790.04V776.08M1300.84 783.88V769.79M1309.87 771.49V757.28M1318.91 767.75V753.41M1327.94 763.66V749.2M1336.97 757.5V742.91M1346.01 755.14V740.43M1355.04 754.51V739.67M1364.08 750.42V735.46M1373.11 751.18V736.09M1382.14 748.82V733.6M1391.18 749.58V734.23M1400.21 749.64V734.17M1409.25 747.63V732.03M1418.28 749.07V733.35M1427.31 746.02V730.18M1436.35 746.09V730.11M1445.38 743.04V726.94M1454.42 743.1V726.88M1463.45 737.28V720.93M1472.48 737.69V721.22M1481.52 736.72V720.12M1490.55 735.4V718.67M1499.59 732V715.15M1508.62 732.06V715.09M1517.65 731.43V714.33M1526.69 731.5V714.27M1535.72 731.56V714.21M1544.76 730.93V713.45M1553.79 729.27V711.66M1562.82 729.33V711.6M1571.86 731.12V713.26M1580.89 729.45V711.47M1589.93 728.48V710.37M1598.96 721.63V703.39M1607.99 724.11V705.75M1617.03 726.59V708.11M1626.06 724.23V705.62M1635.1 724.3V705.56M1644.13 727.82V708.96M1653.16 724.42V705.43M1662.2 725.87V706.75M1671.23 722.13V702.89M1680.27 721.15V701.79" stroke="#EE1111" stroke-width="2" fill="none"/>
<path d="M1237.6 897.19L1246.63 863.64L1255.67 834.59L1264.7 819.03L1273.74 801.39L1282.77 790.67L1291.8 783.06L1300.84 776.83L1309.87 764.38L1318.91 760.58L1327.94 756.43L1336.97 750.2L1346.01 747.78L1355.04 747.09L1364.08 742.94L1373.11 743.63L1382.14 741.21L1391.18 741.9L1400.21 741.9L1409.25 739.83L1418.28 741.21L1427.31 738.1L1436.35 738.1L1445.38 734.99L1454.42 734.99L1463.45 729.11L1472.48 729.45L1481.52 728.42L1490.55 727.03L1499.59 723.57L1508.62 723.57L1517.65 722.88L1526.69 722.88L1535.72 722.88L1544.76 722.19L1553.79 720.46L1562.82 720.46L1571.86 722.19L1580.89 720.46L1589.93 719.42L1598.96 712.51L1607.99 714.93L1617.03 717.35L1626.06 714.93L1635.1 714.93L1644.13 718.39L1653.16 714.93L1662.2 716.31L1671.23 712.51L1680.27 711.47" stroke="#EE1111" stroke-width="1.05" fill="none"/>
<path d="M1237.6 891.59L1242.8 901.95L1232.4 901.95Z" fill="#EE1111"/>
<path d="M1246.63 858.04L1251.83 868.4L1241.43 868.4Z" fill="#EE1111"/>
<path d="M1255.67 828.99L1260.87 839.35L1250.47 839.35Z" fill="#EE1111"/>
<path d="M1264.7 813.43L1269.9 823.79L1259.5 823.79Z" fill="#EE1111"/>
<path d="M1273.74 795.79L1278.94 806.15L1268.54 806.15Z" fill="#EE1111"/>
<path d="M1282.77 785.07L1287.97 795.43L1277.57 795.43Z" fill="#EE1111"/>
<path d="M1291.8 777.46L1297 787.82L1286.6 787.82Z" fill="#EE1111"/>
<path d="M1300.84 771.23L1306.04 781.59L1295.64 781.59Z" fill="#EE1111"/>
<path d="M1309.87 758.78L1315.07 769.14L1304.67 769.14Z" fill="#EE1111"/>
<path d="M1318.91 754.98L1324.11 765.34L1313.71 765.34Z" fill="#EE1111"/>
<path d="M1327.94 750.83L1333.14 761.19L1322.74 761.19Z" fill="#EE1111"/>
<path d="M1336.97 744.6L1342.17 754.96L1331.77 754.96Z" fill="#EE1111"/>
<path d="M1346.01 742.18L1351.21 752.54L1340.81 752.54Z" fill="#EE1111"/>
<path d="M1355.04 741.49L1360.24 751.85L1349.84 751.85Z" fill="#EE1111"/>
<path d="M1364.08 737.34L1369.28 747.7L1358.88 747.7Z" fill="#EE1111"/>
<path d="M1373.11 738.03L1378.31 748.39L1367.91 748.39Z" fill="#EE1111"/>
<path d="M1382.14 735.61L1387.34 745.97L1376.94 745.97Z" fill="#EE1111"/>
<path d="M1391.18 736.3L1396.38 746.66L1385.98 746.66Z" fill="#EE1111"/>
<path d="M1400.21 736.3L1405.41 746.66L1395.01 746.66Z" fill="#EE1111"/>
<path d="M1409.25 734.23L1414.45 744.59L1404.05 744.59Z" fill="#EE1111"/>
<path d="M1418.28 735.61L1423.48 745.97L1413.08 745.97Z" fill="#EE1111"/>
<path d="M1427.31 732.5L1432.51 742.86L1422.11 742.86Z" fill="#EE1111"/>
<path d="M1436.35 732.5L1441.55 742.86L1431.15 742.86Z" fill="#EE1111"/>
<path d="M1445.38 729.39L1450.58 739.75L1440.18 739.75Z" fill="#EE1111"/>
<path d="M1454.42 729.39L1459.62 739.75L1449.22 739.75Z" fill="#EE1111"/>
<path d="M1463.45 723.51L1468.65 733.87L1458.25 733.87Z" fill="#EE1111"/>
<path d="M1472.48 723.85L1477.68 734.21L1467.28 734.21Z" fill="#EE1111"/>
<path d="M1481.52 722.82L1486.72 733.18L1476.32 733.18Z" fill="#EE1111"/>
<path d="M1490.55 721.43L1495.75 731.79L1485.35 731.79Z" fill="#EE1111"/>
<path d="M1499.59 717.97L1504.79 728.33L1494.39 728.33Z" fill="#EE1111"/>
<path d="M1508.62 717.97L1513.82 728.33L1503.42 728.33Z" fill="#EE1111"/>
<path d="M1517.65 717.28L1522.85 727.64L1512.45 727.64Z" fill="#EE1111"/>
<path d="M1526.69 717.28L1531.89 727.64L1521.49 727.64Z" fill="#EE1111"/>
<path d="M1535.72 717.28L1540.92 727.64L1530.52 727.64Z" fill="#EE1111"/>
<path d="M1544.76 716.59L1549.96 726.95L1539.56 726.95Z" fill="#EE1111"/>
<path d="M1553.79 714.86L1558.99 725.22L1548.59 725.22Z" fill="#EE1111"/>
<path d="M1562.82 714.86L1568.02 725.22L1557.62 725.22Z" fill="#EE1111"/>
<path d="M1571.86 716.59L1577.06 726.95L1566.66 726.95Z" fill="#EE1111"/>
<path d="M1580.89 714.86L1586.09 725.22L1575.69 725.22Z" fill="#EE1111"/>
<path d="M1589.93 713.82L1595.13 724.18L1584.73 724.18Z" fill="#EE1111"/>
<path d="M1598.96 706.91L1604.16 717.27L1593.76 717.27Z" fill="#EE1111"/>
<path d="M1607.99 709.33L1613.19 719.69L1602.79 719.69Z" fill="#EE1111"/>
<path d="M1617.03 711.75L1622.23 722.11L1611.83 722.11Z" fill="#EE1111"/>
<path d="M1626.06 709.33L1631.26 719.69L1620.86 719.69Z" fill="#EE1111"/>
<path d="M1635.1 709.33L1640.3 719.69L1629.9 719.69Z" fill="#EE1111"/>
<path d="M1644.13 712.79L1649.33 723.15L1638.93 723.15Z" fill="#EE1111"/>
<path d="M1653.16 709.33L1658.36 719.69L1647.96 719.69Z" fill="#EE1111"/>
<path d="M1662.2 710.71L1667.4 721.07L1657 721.07Z" fill="#EE1111"/>
<path d="M1671.23 706.91L1676.43 717.27L1666.03 717.27Z" fill="#EE1111"/>
<path d="M1680.27 705.87L1685.47 716.23L1675.07 716.23Z" fill="#EE1111"/>
<path d="M1237.6 906.87V903.41M1246.63 899.26V895.11M1255.67 891.31V886.47M1264.7 883.7V878.17M1273.74 877.13V870.9M1282.77 871.59V864.68M1291.8 868.48V860.87M1300.84 865.72V857.42M1309.87 862.95V853.96M1318.91 856.03V846.35M1327.94 849.12V838.74M1336.97 838.05V826.98M1346.01 833.55V821.79M1355.04 821.1V808.65M1364.08 810.04V796.89M1373.11 791.01V777.18M1382.14 780.29V765.77M1391.18 780.64V765.42M1400.21 756.78V740.87M1409.25 752.28V735.68M1418.28 728.42V711.12M1427.31 742.42V724.79M1436.35 714.24V696.25M1445.38 707.84V689.51M1454.42 714.58V695.91M1463.45 696.77V677.75M1472.48 697.98V678.62M1481.52 680.52V660.8M1490.55 686.92V666.86M1499.59 694.35V673.95M1508.62 665.47V644.72M1517.65 652.68V631.93M1526.69 662.36V641.61M1535.72 647.84V627.08M1544.76 654.06V633.31M1553.79 633.31V612.56M1562.82 646.11V625.36M1571.86 651.99V631.24M1580.89 655.79V635.04M1589.93 642.3V621.55M1598.96 638.15V617.4M1607.99 633.31V612.56M1617.03 638.15V617.4M1626.06 642.99V622.24M1635.1 641.26V620.51M1644.13 629.85V609.1M1653.16 639.54V618.78M1662.2 646.11V625.36M1671.23 650.95V630.2M1680.27 615.33V594.58" stroke="#FFA500" stroke-width="2" fill="none"/>
<path d="M1237.6 905.14L1246.63 897.19L1255.67 888.89L1264.7 880.93L1273.74 874.02L1282.77 868.14L1291.8 864.68L1300.84 861.57L1309.87 858.45L1318.91 851.19L1327.94 843.93L1336.97 832.51L1346.01 827.67L1355.04 814.88L1364.08 803.46L1373.11 784.1L1382.14 773.03L1391.18 773.03L1400.21 748.82L1409.25 743.98L1418.28 719.77L1427.31 733.6L1436.35 705.25L1445.38 698.67L1454.42 705.25L1463.45 687.26L1472.48 688.3L1481.52 670.66L1490.55 676.89L1499.59 684.15L1508.62 655.1L1517.65 642.3L1526.69 651.99L1535.72 637.46L1544.76 643.69L1553.79 622.93L1562.82 635.73L1571.86 641.61L1580.89 645.41L1589.93 631.93L1598.96 627.78L1607.99 622.93L1617.03 627.78L1626.06 632.62L1635.1 630.89L1644.13 619.48L1653.16 629.16L1662.2 635.73L1671.23 640.57L1680.27 604.95" stroke="#FFA500" stroke-width="1.05" fill="none"/>
<path d="M1237.6 899.54L1242.8 909.9L1232.4 909.9Z" fill="#FFA500"/>
<path d="M1246.63 891.59L1251.83 901.95L1241.43 901.95Z" fill="#FFA500"/>
<path d="M1255.67 883.29L1260.87 893.65L1250.47 893.65Z" fill="#FFA500"/>
<path d="M1264.7 875.33L1269.9 885.69L1259.5 885.69Z" fill="#FFA500"/>
<path d="M1273.74 868.42L1278.94 878.78L1268.54 878.78Z" fill="#FFA500"/>
<path d="M1282.77 862.54L1287.97 872.9L1277.57 872.9Z" fill="#FFA500"/>
<path d="M1291.8 859.08L1297 869.44L1286.6 869.44Z" fill="#FFA500"/>
<path d="M1300.84 855.97L1306.04 866.33L1295.64 866.33Z" fill="#FFA500"/>
<path d="M1309.87 852.85L1315.07 863.21L1304.67 863.21Z" fill="#FFA500"/>
<path d="M1318.91 845.59L1324.11 855.95L1313.71 855.95Z" fill="#FFA500"/>
<path d="M1327.94 838.33L1333.14 848.69L1322.74 848.69Z" fill="#FFA500"/>
<path d="M1336.97 826.91L1342.17 837.27L1331.77 837.27Z" fill="#FFA500"/>
<path d="M1346.01 822.07L1351.21 832.43L1340.81 832.43Z" fill="#FFA500"/>
<path d="M1355.04 809.28L1360.24 819.64L1349.84 819.64Z" fill="#FFA500"/>
<path d="M1364.08 797.86L1369.28 808.22L1358.88 808.22Z" fill="#FFA500"/>
<path d="M1373.11 778.5L1378.31 788.86L1367.91 788.86Z" fill="#FFA500"/>
<path d="M1382.14 767.43L1387.34 777.79L1376.94 777.79Z" fill="#FFA500"/>
<path d="M1391.18 767.43L1396.38 777.79L1385.98 777.79Z" fill="#FFA500"/>
<path d="M1400.21 743.22L1405.41 753.58L1395.01 753.58Z" fill="#FFA500"/>
<path d="M1409.25 738.38L1414.45 748.74L1404.05 748.74Z" fill="#FFA500"/>
<path d="M1418.28 714.17L1423.48 724.53L1413.08 724.53Z" fill="#FFA500"/>
<path d="M1427.31 728L1432.51 738.36L1422.11 738.36Z" fill="#FFA500"/>
<path d="M1436.35 699.65L1441.55 710.01L1431.15 710.01Z" fill="#FFA500"/>
<path d="M1445.38 693.07L1450.58 703.43L1440.18 703.43Z" fill="#FFA500"/>
<path d="M1454.42 699.65L1459.62 710.01L1449.22 710.01Z" fill="#FFA500"/>
<path d="M1463.45 681.66L1468.65 692.02L1458.25 692.02Z" fill="#FFA500"/>
<path d="M1472.48 682.7L1477.68 693.06L1467.28 693.06Z" fill="#FFA500"/>
<path d="M1481.52 665.06L1486.72 675.42L1476.32 675.42Z" fill="#FFA500"/>
<path d="M1490.55 671.29L1495.75 681.65L1485.35 681.65Z" fill="#FFA500"/>
<path d="M1499.59 678.55L1504.79 688.91L1494.39 688.91Z" fill="#FFA500"/>
<path d="M1508.62 649.5L1513.82 659.86L1503.42 659.86Z" fill="#FFA500"/>
<path d="M1517.65 636.7L1522.85 647.06L1512.45 647.06Z" fill="#FFA500"/>
<path d="M1526.69 646.39L1531.89 656.75L1521.49 656.75Z" fill="#FFA500"/>
<path d="M1535.72 631.86L1540.92 642.22L1530.52 642.22Z" fill="#FFA500"/>
<path d="M1544.76 638.09L1549.96 648.45L1539.56 648.45Z" fill="#FFA500"/>
<path d="M1553.79 617.33L1558.99 627.69L1548.59 627.69Z" fill="#FFA500"/>
<path d="M1562.82 630.13L1568.02 640.49L1557.62 640.49Z" fill="#FFA500"/>
<path d="M1571.86 636.01L1577.06 646.37L1566.66 646.37Z" fill="#FFA500"/>
<path d="M1580.89 639.81L1586.09 650.17L1575.69 650.17Z" fill="#FFA500"/>
<path d="M1589.93 626.33L1595.13 636.69L1584.73 636.69Z" fill="#FFA500"/>
<path d="M1598.96 622.18L1604.16 632.54L1593.76 632.54Z" fill="#FFA500"/>
<path d="M1607.99 617.33L1613.19 627.69L1602.79 627.69Z" fill="#FFA500"/>
<path d="M1617.03 622.18L1622.23 632.54L1611.83 632.54Z" fill="#FFA500"/>
<path d="M1626.06 627.02L1631.26 637.38L1620.86 637.38Z" fill="#FFA500"/>
<path d="M1635.1 625.29L1640.3 635.65L1629.9 635.65Z" fill="#FFA500"/>
<path d="M1644.13 613.88L1649.33 624.24L1638.93 624.24Z" fill="#FFA500"/>
<path d="M1653.16 623.56L1658.36 633.92L1647.96 633.92Z" fill="#FFA500"/>
<path d="M1662.2 630.13L1667.4 640.49L1657 640.49Z" fill="#FFA500"/>
<path d="M1671.23 634.97L1676.43 645.33L1666.03 645.33Z" fill="#FFA500"/>
<path d="M1680.27 599.35L1685.47 609.71L1675.07 609.71Z" fill="#FFA500"/>
<path d="M1237.6 906.87V903.41M1246.63 902.89V898.4M1255.67 895.8V890.27M1264.7 886.64V880.07M1273.74 878.51V870.9M1282.77 872.11V863.47M1291.8 867.44V857.76M1300.84 861.05V850.33M1309.87 852.92V841.16M1318.91 838.57V825.77M1327.94 828.02V814.19M1336.97 815.83V799.4M1346.01 797.41V778.39M1355.04 783.84V762.22M1364.08 769.92V745.71M1373.11 734.76V711.7M1382.14 722.08V700.17M1391.18 711.82V691.07M1400.21 694.99V675.39M1409.25 677.12V658.67M1418.28 684.84V667.55M1427.31 679.02V661.61M1436.35 659.71V642.18M1445.38 659.08V641.43M1454.42 651.19V633.42M1463.45 668.88V651M1472.48 633.32V615.31M1481.52 656.9V638.77M1490.55 647.27V629.03M1499.59 633.5V615.14M1508.62 632.52V614.04M1517.65 636.04V617.44M1526.69 622.27V603.54M1535.72 637.89V619.05M1544.76 615.47V596.51M1553.79 632.82V613.74M1562.82 636.34V617.14M1571.86 628.79V609.47M1580.89 631.27V611.83M1589.93 618.53V598.98M1598.96 625.51V605.83M1607.99 632.49V612.69M1617.03 631.51V611.59M1626.06 638.49V618.45M1635.1 640.27V620.12M1644.13 627.19V606.92M1653.16 626.56V606.17M1662.2 629.39V608.87M1671.23 631.87V611.24M1680.27 643.34V622.59" stroke="#1E90FF" stroke-width="2" fill="none"/>
<path d="M1237.6 905.14L1246.63 900.65L1255.67 893.04L1264.7 883.35L1273.74 874.71L1282.77 867.79L1291.8 862.6L1300.84 855.69L1309.87 847.04L1318.91 832.17L1327.94 821.1L1336.97 807.61L1346.01 787.9L1355.04 773.03L1364.08 757.81L1373.11 723.23L1382.14 711.12L1391.18 701.44L1400.21 685.19L1409.25 667.89L1418.28 676.19L1427.31 670.32L1436.35 650.95L1445.38 650.26L1454.42 642.3L1463.45 659.94L1472.48 624.32L1481.52 647.84L1490.55 638.15L1499.59 624.32L1508.62 623.28L1517.65 626.74L1526.69 612.91L1535.72 628.47L1544.76 605.99L1553.79 623.28L1562.82 626.74L1571.86 619.13L1580.89 621.55L1589.93 608.76L1598.96 615.67L1607.99 622.59L1617.03 621.55L1626.06 628.47L1635.1 630.2L1644.13 617.06L1653.16 616.36L1662.2 619.13L1671.23 621.55L1680.27 632.96" stroke="#1E90FF" stroke-width="1.05" fill="none"/>
<rect x="1232.6" y="900.14" width="10" height="10" fill="#1E90FF"/>
<rect x="1241.63" y="895.65" width="10" height="10" fill="#1E90FF"/>
<rect x="1250.67" y="888.04" width="10" height="10" fill="#1E90FF"/>
<rect x="1259.7" y="878.35" width="10" height="10" fill="#1E90FF"/>
<rect x="1268.74" y="869.71" width="10" height="10" fill="#1E90FF"/>
<rect x="1277.77" y="862.79" width="10" height="10" fill="#1E90FF"/>
<rect x="1286.8" y="857.6" width="10" height="10" fill="#1E90FF"/>
<rect x="1295.84" y="850.69" width="10" height="10" fill="#1E90FF"/>
<rect x="1304.87" y="842.04" width="10" height="10" fill="#1E90FF"/>
<rect x="1313.91" y="827.17" width="10" height="10" fill="#1E90FF"/>
<rect x="1322.94" y="816.1" width="10" height="10" fill="#1E90FF"/>
<rect x="1331.97" y="802.61" width="10" height="10" fill="#1E90FF"/>
<rect x="1341.01" y="782.9" width="10" height="10" fill="#1E90FF"/>
<rect x="1350.04" y="768.03" width="10" height="10" fill="#1E90FF"/>
<rect x="1359.08" y="752.81" width="10" height="10" fill="#1E90FF"/>
<rect x="1368.11" y="718.23" width="10" height="10" fill="#1E90FF"/>
<rect x="1377.14" y="706.12" width="10" height="10" fill="#1E90FF"/>
<rect x="1386.18" y="696.44" width="10" height="10" fill="#1E90FF"/>
<rect x="1395.21" y="680.19" width="10" height="10" fill="#1E90FF"/>
<rect x="1404.25" y="662.89" width="10" height="10" fill="#1E90FF"/>
<rect x="1413.28" y="671.19" width="10" height="10" fill="#1E90FF"/>
<rect x="1422.31" y="665.32" width="10" height="10" fill="#1E90FF"/>
<rect x="1431.35" y="645.95" width="10" height="10" fill="#1E90FF"/>
<rect x="1440.38" y="645.26" width="10" height="10" fill="#1E90FF"/>
<rect x="1449.42" y="637.3" width="10" height="10" fill="#1E90FF"/>
<rect x="1458.45" y="654.94" width="10" height="10" fill="#1E90FF"/>
<rect x="1467.48" y="619.32" width="10" height="10" fill="#1E90FF"/>
<rect x="1476.52" y="642.84" width="10" height="10" fill="#1E90FF"/>
<rect x="1485.55" y="633.15" width="10" height="10" fill="#1E90FF"/>
<rect x="1494.59" y="619.32" width="10" height="10" fill="#1E90FF"/>
<rect x="1503.62" y="618.28" width="10" height="10" fill="#1E90FF"/>
<rect x="1512.65" y="621.74" width="10" height="10" fill="#1E90FF"/>
<rect x="1521.69" y="607.91" width="10" height="10" fill="#1E90FF"/>
<rect x="1530.72" y="623.47" width="10" height="10" fill="#1E90FF"/>
<rect x="1539.76" y="600.99" width="10" height="10" fill="#1E90FF"/>
<rect x="1548.79" y="618.28" width="10" height="10" fill="#1E90FF"/>
<rect x="1557.82" y="621.74" width="10" height="10" fill="#1E90FF"/>
<rect x="1566.86" y="614.13" width="10" height="10" fill="#1E90FF"/>
<rect x="1575.89" y="616.55" width="10" height="10" fill="#1E90FF"/>
<rect x="1584.93" y="603.76" width="10" height="10" fill="#1E90FF"/>
<rect x="1593.96" y="610.67" width="10" height="10" fill="#1E90FF"/>
<rect x="1602.99" y="617.59" width="10" height="10" fill="#1E90FF"/>
<rect x="1612.03" y="616.55" width="10" height="10" fill="#1E90FF"/>
<rect x="1621.06" y="623.47" width="10" height="10" fill="#1E90FF"/>
<rect x="1630.1" y="625.2" width="10" height="10" fill="#1E90FF"/>
<rect x="1639.13" y="612.06" width="10" height="10" fill="#1E90FF"/>
<rect x="1648.16" y="611.36" width="10" height="10" fill="#1E90FF"/>
<rect x="1657.2" y="614.13" width="10" height="10" fill="#1E90FF"/>
<rect x="1666.23" y="616.55" width="10" height="10" fill="#1E90FF"/>
<rect x="1675.27" y="627.96" width="10" height="10" fill="#1E90FF"/>
</g>
<rect x="1237.6" y="559.3" width="451.7" height="349.3" fill="none" stroke="#333333" stroke-width="1.2"/>
<path d="M1237.6 908.6v-4M1237.6 559.3v4M1327.94 908.6v-4M1327.94 559.3v4M1418.28 908.6v-4M1418.28 559.3v4M1508.62 908.6v-4M1508.62 559.3v4M1598.96 908.6v-4M1598.96 559.3v4M1689.3 908.6v-4M1689.3 559.3v4M1237.6 905.14h4M1689.3 905.14h-4M1237.6 835.97h4M1689.3 835.97h-4M1237.6 766.8h4M1689.3 766.8h-4M1237.6 697.64h4M1689.3 697.64h-4M1237.6 628.47h4M1689.3 628.47h-4M1237.6 559.3h4M1689.3 559.3h-4" stroke="#333333" stroke-width="1" fill="none"/>
<text x="1237.6" y="925.6" font-size="15.97" font-family='"Liberation Sans", sans-serif' text-anchor="middle" textLength="9.35" lengthAdjust="spacingAndGlyphs">0</text>
<text x="1327.94" y="925.6" font-size="15.97" font-family='"Liberation Sans", sans-serif' text-anchor="middle" textLength="28.05" lengthAdjust="spacingAndGlyphs">100</text>
<text x="1418.28" y="925.6" font-size="15.97" font-family='"Liberation Sans", sans-serif' text-anchor="middle" textLength="28.05" lengthAdjust="spacingAndGlyphs">200</text>
<text x="1508.62" y="925.6" font-size="15.97" font-family='"Liberation Sans", sans-serif' text-anchor="middle" textLength="28.05" lengthAdjust="spacingAndGlyphs">300</text>
<text x="1598.96" y="925.6" font-size="15.97" font-family='"Liberation Sans", sans-serif' text-anchor="middle" textLength="28.05" lengthAdjust="spacingAndGlyphs">400</text>
<text x="1689.3" y="925.6" font-size="15.97" font-family='"Liberation Sans", sans-serif' text-anchor="middle" textLength="28.05" lengthAdjust="spacingAndGlyphs">500</text>
<text x="1232.7" y="909.86" font-size="15.97" font-family='"Liberation Sans", sans-serif' text-anchor="end" textLength="9.35" lengthAdjust="spacingAndGlyphs">0</text>
<text x="1232.7" y="840.69" font-size="15.97" font-family='"Liberation Sans", sans-serif' text-anchor="end" textLength="28.05" lengthAdjust="spacingAndGlyphs">200</text>
<text x="1232.7" y="771.52" font-size="15.97" font-family='"Liberation Sans", sans-serif' text-anchor="end" textLength="28.05" lengthAdjust="spacingAndGlyphs">400</text>
<text x="1232.7" y="702.35" font-size="15.97" font-family='"Liberation Sans", sans-serif' text-anchor="end" textLength="28.05" lengthAdjust="spacingAndGlyphs">600</text>
<text x="1232.7" y="633.19" font-size="15.97" font-family='"Liberation Sans", sans-serif' text-anchor="end" textLength="28.05" lengthAdjust="spacingAndGlyphs">800</text>
<text x="1232.7" y="564.02" font-size="15.97" font-family='"Liberation Sans", sans-serif' text-anchor="end" textLength="37.4" lengthAdjust="spacingAndGlyphs">1000</text>
<path d="M1349.7 532H1376.1" stroke="#EE1111" stroke-width="1.05"/>
<path d="M1349.7 523.5v17M1376.1 523.5v17" stroke="#EE1111" stroke-width="2"/>
<path d="M1349.7 526.4L1354.9 536.76L1344.5 536.76Z" fill="#EE1111"/>
<path d="M1376.1 526.4L1381.3 536.76L1370.9 536.76Z" fill="#EE1111"/>
<text x="1382.5" y="537.94" font-size="16.5" font-family='"Liberation Sans", sans-serif' text-anchor="start" textLength="38.1" lengthAdjust="spacingAndGlyphs">GRU</text>
<path d="M1430.9 532H1456" stroke="#FFA500" stroke-width="1.05"/>
<path d="M1430.9 523.5v17M1456 523.5v17" stroke="#FFA500" stroke-width="2"/>
<path d="M1430.9 526.4L1436.1 536.76L1425.7 536.76Z" fill="#FFA500"/>
<path d="M1456 526.4L1461.2 536.76L1450.8 536.76Z" fill="#FFA500"/>
<text x="1462.4" y="537.94" font-size="16.5" font-family='"Liberation Sans", sans-serif' text-anchor="start" textLength="77.4" lengthAdjust="spacingAndGlyphs">reg_GRU</text>
<path d="M1549.4 532H1575.2" stroke="#1E90FF" stroke-width="1.05"/>
<path d="M1549.4 523.5v17M1575.2 523.5v17" stroke="#1E90FF" stroke-width="2"/>
<rect x="1544.4" y="527" width="10" height="10" fill="#1E90FF"/>
<rect x="1570.2" y="527" width="10" height="10" fill="#1E90FF"/>
<text x="1581.7" y="537.94" font-size="16.5" font-family='"Liberation Sans", sans-serif' text-anchor="start" textLength="45.1" lengthAdjust="spacingAndGlyphs">RPSP</text>
<g transform="translate(1185 901.5) rotate(-90)">
<text x="0" y="0" font-size="21" font-family='"Liberation Sans", sans-serif' text-anchor="start" textLength="289.5" lengthAdjust="spacingAndGlyphs">Hopper PSR vs. GRU filtering</text>
<text x="297" y="0" font-size="22.05" font-family='"Liberation Serif", serif' text-anchor="start" textLength="14.5" lengthAdjust="spacingAndGlyphs" font-style="italic">R</text>
<text x="309.3" y="4.2" font-size="16.8" font-family='"Liberation Serif", serif' text-anchor="start" textLength="24.2" lengthAdjust="spacingAndGlyphs" font-style="italic">iter</text>
</g>
<text x="1319" y="948.2" font-size="21" font-family='"Liberation Sans", sans-serif' textLength="290" lengthAdjust="spacingAndGlyphs">experience (<tspan font-family='"Liberation Serif", serif'>10000</tspan> timesteps)</text>
<text x="1435" y="1001.3" font-size="31" font-family='"Liberation Serif", serif' text-anchor="middle" textLength="36" lengthAdjust="spacingAndGlyphs">(f)</text>
<g clip-path="url(#clipg)">
<clipPath id="clipg"><rect x="66.7" y="1065.6" width="459.5" height="355.4"/></clipPath>
<path d="M66.7 1376.07V1370.99M75.89 1329.36V1323.26M85.08 1319.46V1312.35M94.27 1312.86V1304.73M103.46 1311.59V1302.45M112.65 1308.54V1298.39M121.84 1307.86V1297.03M131.03 1307.44V1295.93M140.22 1304.48V1292.29M149.41 1303.55V1290.69M158.6 1302.62V1289.08M167.79 1301.94V1287.72M176.98 1301.52V1286.62M186.17 1300.08V1284.51M195.36 1299.4V1283.16M204.55 1298.73V1281.8M213.74 1297.54V1279.94M222.93 1297.63V1279.35M232.12 1297.2V1278.25M241.31 1295.76V1276.13M250.5 1294.33V1274.02M259.69 1294.04V1273.29M268.88 1292.99V1271.8M278.07 1292.7V1271.08M287.26 1291.9V1269.84M296.45 1290.34V1267.85M305.64 1290.56V1267.63M314.83 1289V1265.63M324.02 1289.22V1265.41M333.21 1288.68V1264.43M342.4 1288.64V1263.96M351.59 1288.1V1262.98M360.78 1287.56V1262M369.97 1286.76V1260.76M379.16 1286.98V1260.54M388.35 1286.18V1259.31M397.54 1286.4V1259.09M406.73 1286.62V1258.87M415.92 1285.32V1257.13M425.11 1285.54V1256.91M434.3 1284.74V1255.68M443.49 1284.96V1255.46M452.68 1283.65V1253.72M461.87 1283.87V1253.5M471.06 1284.09V1253.28M480.25 1284.31V1253.06M489.44 1283.26V1251.57M498.63 1283.48V1251.35M507.82 1283.7V1251.13M517.01 1283.16V1250.15" stroke="#EE1111" stroke-width="2" fill="none"/>
<path d="M66.7 1373.53L75.89 1326.31L85.08 1315.9L94.27 1308.8L103.46 1307.02L112.65 1303.46L121.84 1302.45L131.03 1301.69L140.22 1298.39L149.41 1297.12L158.6 1295.85L167.79 1294.83L176.98 1294.07L186.17 1292.29L195.36 1291.28L204.55 1290.26L213.74 1288.74L222.93 1288.49L232.12 1287.72L241.31 1285.95L250.5 1284.17L259.69 1283.66L268.88 1282.39L278.07 1281.89L287.26 1280.87L296.45 1279.09L305.64 1279.09L314.83 1277.32L324.02 1277.32L333.21 1276.56L342.4 1276.3L351.59 1275.54L360.78 1274.78L369.97 1273.76L379.16 1273.76L388.35 1272.75L397.54 1272.75L406.73 1272.75L415.92 1271.22L425.11 1271.22L434.3 1270.21L443.49 1270.21L452.68 1268.69L461.87 1268.69L471.06 1268.69L480.25 1268.69L489.44 1267.42L498.63 1267.42L507.82 1267.42L517.01 1266.65" stroke="#EE1111" stroke-width="1.05" fill="none"/>
<path d="M66.7 1367.93L71.9 1378.29L61.5 1378.29Z" fill="#EE1111"/>
<path d="M75.89 1320.71L81.09 1331.07L70.69 1331.07Z" fill="#EE1111"/>
<path d="M85.08 1310.3L90.28 1320.66L79.88 1320.66Z" fill="#EE1111"/>
<path d="M94.27 1303.2L99.47 1313.56L89.07 1313.56Z" fill="#EE1111"/>
<path d="M103.46 1301.42L108.66 1311.78L98.26 1311.78Z" fill="#EE1111"/>
<path d="M112.65 1297.86L117.85 1308.22L107.45 1308.22Z" fill="#EE1111"/>
<path d="M121.84 1296.85L127.04 1307.21L116.64 1307.21Z" fill="#EE1111"/>
<path d="M131.03 1296.09L136.23 1306.45L125.83 1306.45Z" fill="#EE1111"/>
<path d="M140.22 1292.79L145.42 1303.15L135.02 1303.15Z" fill="#EE1111"/>
<path d="M149.41 1291.52L154.61 1301.88L144.21 1301.88Z" fill="#EE1111"/>
<path d="M158.6 1290.25L163.8 1300.61L153.4 1300.61Z" fill="#EE1111"/>
<path d="M167.79 1289.23L172.99 1299.59L162.59 1299.59Z" fill="#EE1111"/>
<path d="M176.98 1288.47L182.18 1298.83L171.78 1298.83Z" fill="#EE1111"/>
<path d="M186.17 1286.69L191.37 1297.05L180.97 1297.05Z" fill="#EE1111"/>
<path d="M195.36 1285.68L200.56 1296.04L190.16 1296.04Z" fill="#EE1111"/>
<path d="M204.55 1284.66L209.75 1295.02L199.35 1295.02Z" fill="#EE1111"/>
<path d="M213.74 1283.14L218.94 1293.5L208.54 1293.5Z" fill="#EE1111"/>
<path d="M222.93 1282.89L228.13 1293.25L217.73 1293.25Z" fill="#EE1111"/>
<path d="M232.12 1282.12L237.32 1292.48L226.92 1292.48Z" fill="#EE1111"/>
<path d="M241.31 1280.35L246.51 1290.71L236.11 1290.71Z" fill="#EE1111"/>
<path d="M250.5 1278.57L255.7 1288.93L245.3 1288.93Z" fill="#EE1111"/>
<path d="M259.69 1278.06L264.89 1288.42L254.49 1288.42Z" fill="#EE1111"/>
<path d="M268.88 1276.79L274.08 1287.15L263.68 1287.15Z" fill="#EE1111"/>
<path d="M278.07 1276.29L283.27 1286.65L272.87 1286.65Z" fill="#EE1111"/>
<path d="M287.26 1275.27L292.46 1285.63L282.06 1285.63Z" fill="#EE1111"/>
<path d="M296.45 1273.49L301.65 1283.85L291.25 1283.85Z" fill="#EE1111"/>
<path d="M305.64 1273.49L310.84 1283.85L300.44 1283.85Z" fill="#EE1111"/>
<path d="M314.83 1271.72L320.03 1282.08L309.63 1282.08Z" fill="#EE1111"/>
<path d="M324.02 1271.72L329.22 1282.08L318.82 1282.08Z" fill="#EE1111"/>
<path d="M333.21 1270.96L338.41 1281.32L328.01 1281.32Z" fill="#EE1111"/>
<path d="M342.4 1270.7L347.6 1281.06L337.2 1281.06Z" fill="#EE1111"/>
<path d="M351.59 1269.94L356.79 1280.3L346.39 1280.3Z" fill="#EE1111"/>
<path d="M360.78 1269.18L365.98 1279.54L355.58 1279.54Z" fill="#EE1111"/>
<path d="M369.97 1268.16L375.17 1278.52L364.77 1278.52Z" fill="#EE1111"/>
<path d="M379.16 1268.16L384.36 1278.52L373.96 1278.52Z" fill="#EE1111"/>
<path d="M388.35 1267.15L393.55 1277.51L383.15 1277.51Z" fill="#EE1111"/>
<path d="M397.54 1267.15L402.74 1277.51L392.34 1277.51Z" fill="#EE1111"/>
<path d="M406.73 1267.15L411.93 1277.51L401.53 1277.51Z" fill="#EE1111"/>
<path d="M415.92 1265.62L421.12 1275.98L410.72 1275.98Z" fill="#EE1111"/>
<path d="M425.11 1265.62L430.31 1275.98L419.91 1275.98Z" fill="#EE1111"/>
<path d="M434.3 1264.61L439.5 1274.97L429.1 1274.97Z" fill="#EE1111"/>
<path d="M443.49 1264.61L448.69 1274.97L438.29 1274.97Z" fill="#EE1111"/>
<path d="M452.68 1263.09L457.88 1273.45L447.48 1273.45Z" fill="#EE1111"/>
<path d="M461.87 1263.09L467.07 1273.45L456.67 1273.45Z" fill="#EE1111"/>
<path d="M471.06 1263.09L476.26 1273.45L465.86 1273.45Z" fill="#EE1111"/>
<path d="M480.25 1263.09L485.45 1273.45L475.05 1273.45Z" fill="#EE1111"/>
<path d="M489.44 1261.82L494.64 1272.18L484.24 1272.18Z" fill="#EE1111"/>
<path d="M498.63 1261.82L503.83 1272.18L493.43 1272.18Z" fill="#EE1111"/>
<path d="M507.82 1261.82L513.02 1272.18L502.62 1272.18Z" fill="#EE1111"/>
<path d="M517.01 1261.05L522.21 1271.41L511.81 1271.41Z" fill="#EE1111"/>
<path d="M66.7 1400.69V1395.61M75.89 1351.44V1345.35M85.08 1324.79V1317.68M94.27 1322V1313.87M103.46 1313.62V1304.48M112.65 1308.03V1297.88M121.84 1304.99V1293.82M131.03 1295.09V1282.9M140.22 1304.73V1291.53M149.41 1297.63V1283.41M158.6 1298.13V1282.9M167.79 1288.99V1273.26M176.98 1283.66V1267.42M186.17 1282.39V1265.64M195.36 1280.11V1262.85M204.55 1278.59V1260.82M213.74 1279.86V1261.58M222.93 1273.76V1254.98M232.12 1268.18V1248.88M241.31 1268.43V1248.63M250.5 1260.56V1240.25M259.69 1267.42V1246.6M268.88 1254.72V1233.4M278.07 1255.74V1233.91M287.26 1250.41V1228.07M296.45 1252.18V1229.34M305.64 1248.63V1225.28M314.83 1248.88V1225.02M324.02 1248.38V1224.01M333.21 1247.87V1222.99M342.4 1240.76V1215.38M351.59 1241.91V1216.26M360.78 1236.21V1210.29M369.97 1230.75V1204.57M379.16 1233.17V1206.72M388.35 1232.8V1206.08M397.54 1232.93V1205.94M406.73 1234.33V1207.08M415.92 1226.6V1199.08M425.11 1229.78V1201.99M434.3 1222.8V1194.75M443.49 1220.65V1192.33M452.68 1221.55V1192.96M461.87 1219.91V1191.05M471.06 1219.53V1190.4M480.25 1214.59V1185.19M489.44 1214.72V1185.06M498.63 1212.57V1182.64M507.82 1211.69V1181.49M517.01 1209.54V1179.07" stroke="#FFA500" stroke-width="2" fill="none"/>
<path d="M66.7 1398.15L75.89 1348.4L85.08 1321.23L94.27 1317.93L103.46 1309.05L112.65 1302.96L121.84 1299.4L131.03 1288.99L140.22 1298.13L149.41 1290.52L158.6 1290.52L167.79 1281.12L176.98 1275.54L186.17 1274.02L195.36 1271.48L204.55 1269.7L213.74 1270.72L222.93 1264.37L232.12 1258.53L241.31 1258.53L250.5 1250.41L259.69 1257.01L268.88 1244.06L278.07 1244.82L287.26 1239.24L296.45 1240.76L305.64 1236.95L314.83 1236.95L324.02 1236.19L333.21 1235.43L342.4 1228.07L351.59 1229.08L360.78 1223.25L369.97 1217.66L379.16 1219.95L388.35 1219.44L397.54 1219.44L406.73 1220.71L415.92 1212.84L425.11 1215.88L434.3 1208.78L443.49 1206.49L452.68 1207.25L461.87 1205.48L471.06 1204.97L480.25 1199.89L489.44 1199.89L498.63 1197.61L507.82 1196.59L517.01 1194.31" stroke="#FFA500" stroke-width="1.05" fill="none"/>
<path d="M66.7 1392.55L71.9 1402.91L61.5 1402.91Z" fill="#FFA500"/>
<path d="M75.89 1342.8L81.09 1353.16L70.69 1353.16Z" fill="#FFA500"/>
<path d="M85.08 1315.63L90.28 1325.99L79.88 1325.99Z" fill="#FFA500"/>
<path d="M94.27 1312.33L99.47 1322.69L89.07 1322.69Z" fill="#FFA500"/>
<path d="M103.46 1303.45L108.66 1313.81L98.26 1313.81Z" fill="#FFA500"/>
<path d="M112.65 1297.36L117.85 1307.72L107.45 1307.72Z" fill="#FFA500"/>
<path d="M121.84 1293.8L127.04 1304.16L116.64 1304.16Z" fill="#FFA500"/>
<path d="M131.03 1283.39L136.23 1293.75L125.83 1293.75Z" fill="#FFA500"/>
<path d="M140.22 1292.53L145.42 1302.89L135.02 1302.89Z" fill="#FFA500"/>
<path d="M149.41 1284.92L154.61 1295.28L144.21 1295.28Z" fill="#FFA500"/>
<path d="M158.6 1284.92L163.8 1295.28L153.4 1295.28Z" fill="#FFA500"/>
<path d="M167.79 1275.52L172.99 1285.88L162.59 1285.88Z" fill="#FFA500"/>
<path d="M176.98 1269.94L182.18 1280.3L171.78 1280.3Z" fill="#FFA500"/>
<path d="M186.17 1268.42L191.37 1278.78L180.97 1278.78Z" fill="#FFA500"/>
<path d="M195.36 1265.88L200.56 1276.24L190.16 1276.24Z" fill="#FFA500"/>
<path d="M204.55 1264.1L209.75 1274.46L199.35 1274.46Z" fill="#FFA500"/>
<path d="M213.74 1265.12L218.94 1275.48L208.54 1275.48Z" fill="#FFA500"/>
<path d="M222.93 1258.77L228.13 1269.13L217.73 1269.13Z" fill="#FFA500"/>
<path d="M232.12 1252.93L237.32 1263.29L226.92 1263.29Z" fill="#FFA500"/>
<path d="M241.31 1252.93L246.51 1263.29L236.11 1263.29Z" fill="#FFA500"/>
<path d="M250.5 1244.81L255.7 1255.17L245.3 1255.17Z" fill="#FFA500"/>
<path d="M259.69 1251.41L264.89 1261.77L254.49 1261.77Z" fill="#FFA500"/>
<path d="M268.88 1238.46L274.08 1248.82L263.68 1248.82Z" fill="#FFA500"/>
<path d="M278.07 1239.22L283.27 1249.58L272.87 1249.58Z" fill="#FFA500"/>
<path d="M287.26 1233.64L292.46 1244L282.06 1244Z" fill="#FFA500"/>
<path d="M296.45 1235.16L301.65 1245.52L291.25 1245.52Z" fill="#FFA500"/>
<path d="M305.64 1231.35L310.84 1241.71L300.44 1241.71Z" fill="#FFA500"/>
<path d="M314.83 1231.35L320.03 1241.71L309.63 1241.71Z" fill="#FFA500"/>
<path d="M324.02 1230.59L329.22 1240.95L318.82 1240.95Z" fill="#FFA500"/>
<path d="M333.21 1229.83L338.41 1240.19L328.01 1240.19Z" fill="#FFA500"/>
<path d="M342.4 1222.47L347.6 1232.83L337.2 1232.83Z" fill="#FFA500"/>
<path d="M351.59 1223.48L356.79 1233.84L346.39 1233.84Z" fill="#FFA500"/>
<path d="M360.78 1217.65L365.98 1228.01L355.58 1228.01Z" fill="#FFA500"/>
<path d="M369.97 1212.06L375.17 1222.42L364.77 1222.42Z" fill="#FFA500"/>
<path d="M379.16 1214.35L384.36 1224.71L373.96 1224.71Z" fill="#FFA500"/>
<path d="M388.35 1213.84L393.55 1224.2L383.15 1224.2Z" fill="#FFA500"/>
<path d="M397.54 1213.84L402.74 1224.2L392.34 1224.2Z" fill="#FFA500"/>
<path d="M406.73 1215.11L411.93 1225.47L401.53 1225.47Z" fill="#FFA500"/>
<path d="M415.92 1207.24L421.12 1217.6L410.72 1217.6Z" fill="#FFA500"/>
<path d="M425.11 1210.28L430.31 1220.64L419.91 1220.64Z" fill="#FFA500"/>
<path d="M434.3 1203.18L439.5 1213.54L429.1 1213.54Z" fill="#FFA500"/>
<path d="M443.49 1200.89L448.69 1211.25L438.29 1211.25Z" fill="#FFA500"/>
<path d="M452.68 1201.65L457.88 1212.01L447.48 1212.01Z" fill="#FFA500"/>
<path d="M461.87 1199.88L467.07 1210.24L456.67 1210.24Z" fill="#FFA500"/>
<path d="M471.06 1199.37L476.26 1209.73L465.86 1209.73Z" fill="#FFA500"/>
<path d="M480.25 1194.29L485.45 1204.65L475.05 1204.65Z" fill="#FFA500"/>
<path d="M489.44 1194.29L494.64 1204.65L484.24 1204.65Z" fill="#FFA500"/>
<path d="M498.63 1192.01L503.83 1202.37L493.43 1202.37Z" fill="#FFA500"/>
<path d="M507.82 1190.99L513.02 1201.35L502.62 1201.35Z" fill="#FFA500"/>
<path d="M517.01 1188.71L522.21 1199.07L511.81 1199.07Z" fill="#FFA500"/>
<path d="M66.7 1398.15V1393.08M75.89 1372.43V1363.97M85.08 1338.58V1326.73M94.27 1327.07V1311.84M103.46 1299.57V1280.96M112.65 1285.78V1263.78M121.84 1259.55V1234.16M131.03 1236.81V1210.7M140.22 1217.12V1190.28M149.41 1225.6V1198.04M158.6 1212V1183.72M167.79 1199.67V1170.66M176.98 1195.21V1165.47M186.17 1212.58V1182.12M195.36 1209.9V1178.71M204.55 1202.14V1170.23M213.74 1182.7V1150.06M222.93 1175.96V1142.59M232.12 1172.76V1138.67M241.31 1193.18V1158.37M250.5 1192.78V1157.24M259.69 1164.86V1128.3M268.88 1162.32V1124.75M278.07 1154.7V1116.12M287.26 1151.66V1112.06M296.45 1149.88V1109.26M305.64 1161.56V1119.93M314.83 1149.88V1107.23M324.02 1145.06V1101.39M333.21 1145.57V1100.89M342.4 1142.52V1096.82M351.59 1147.36V1101.13M360.78 1147.62V1100.86M369.97 1153.73V1106.43M379.16 1162.12V1114.29M388.35 1170.26V1121.89M397.54 1184.49V1135.58M406.73 1172.31V1122.88M415.92 1167.5V1117.53M425.11 1174.62V1124.12M434.3 1162.71V1111.67M443.49 1165.77V1114.19M452.68 1161.46V1109.36M461.87 1142.44V1089.8M471.06 1135.09V1081.91M480.25 1147.29V1093.58M489.44 1149.33V1095.09M498.63 1159.25V1104.47M507.82 1142.76V1087.45M517.01 1140.74V1084.89" stroke="#1E90FF" stroke-width="2" fill="none"/>
<path d="M66.7 1395.61L75.89 1368.2L85.08 1332.66L94.27 1319.46L103.46 1290.26L112.65 1274.78L121.84 1246.85L131.03 1223.75L140.22 1203.7L149.41 1211.82L158.6 1197.86L167.79 1185.17L176.98 1180.34L186.17 1197.35L195.36 1194.31L204.55 1186.18L213.74 1166.38L222.93 1159.27L232.12 1155.72L241.31 1175.77L250.5 1175.01L259.69 1146.58L268.88 1143.53L278.07 1135.41L287.26 1131.86L296.45 1129.57L305.64 1140.74L314.83 1128.56L324.02 1123.23L333.21 1123.23L342.4 1119.67L351.59 1124.24L360.78 1124.24L369.97 1130.08L379.16 1138.2L388.35 1146.07L397.54 1160.03L406.73 1147.6L415.92 1142.52L425.11 1149.37L434.3 1137.19L443.49 1139.98L452.68 1135.41L461.87 1116.12L471.06 1108.5L480.25 1120.43L489.44 1122.21L498.63 1131.86L507.82 1115.1L517.01 1112.82" stroke="#1E90FF" stroke-width="1.05" fill="none"/>
<rect x="61.7" y="1390.61" width="10" height="10" fill="#1E90FF"/>
<rect x="70.89" y="1363.2" width="10" height="10" fill="#1E90FF"/>
<rect x="80.08" y="1327.66" width="10" height="10" fill="#1E90FF"/>
<rect x="89.27" y="1314.46" width="10" height="10" fill="#1E90FF"/>
<rect x="98.46" y="1285.26" width="10" height="10" fill="#1E90FF"/>
<rect x="107.65" y="1269.78" width="10" height="10" fill="#1E90FF"/>
<rect x="116.84" y="1241.85" width="10" height="10" fill="#1E90FF"/>
<rect x="126.03" y="1218.75" width="10" height="10" fill="#1E90FF"/>
<rect x="135.22" y="1198.7" width="10" height="10" fill="#1E90FF"/>
<rect x="144.41" y="1206.82" width="10" height="10" fill="#1E90FF"/>
<rect x="153.6" y="1192.86" width="10" height="10" fill="#1E90FF"/>
<rect x="162.79" y="1180.17" width="10" height="10" fill="#1E90FF"/>
<rect x="171.98" y="1175.34" width="10" height="10" fill="#1E90FF"/>
<rect x="181.17" y="1192.35" width="10" height="10" fill="#1E90FF"/>
<rect x="190.36" y="1189.31" width="10" height="10" fill="#1E90FF"/>
<rect x="199.55" y="1181.18" width="10" height="10" fill="#1E90FF"/>
<rect x="208.74" y="1161.38" width="10" height="10" fill="#1E90FF"/>
<rect x="217.93" y="1154.27" width="10" height="10" fill="#1E90FF"/>
<rect x="227.12" y="1150.72" width="10" height="10" fill="#1E90FF"/>
<rect x="236.31" y="1170.77" width="10" height="10" fill="#1E90FF"/>
<rect x="245.5" y="1170.01" width="10" height="10" fill="#1E90FF"/>
<rect x="254.69" y="1141.58" width="10" height="10" fill="#1E90FF"/>
<rect x="263.88" y="1138.53" width="10" height="10" fill="#1E90FF"/>
<rect x="273.07" y="1130.41" width="10" height="10" fill="#1E90FF"/>
<rect x="282.26" y="1126.86" width="10" height="10" fill="#1E90FF"/>
<rect x="291.45" y="1124.57" width="10" height="10" fill="#1E90FF"/>
<rect x="300.64" y="1135.74" width="10" height="10" fill="#1E90FF"/>
<rect x="309.83" y="1123.56" width="10" height="10" fill="#1E90FF"/>
<rect x="319.02" y="1118.23" width="10" height="10" fill="#1E90FF"/>
<rect x="328.21" y="1118.23" width="10" height="10" fill="#1E90FF"/>
<rect x="337.4" y="1114.67" width="10" height="10" fill="#1E90FF"/>
<rect x="346.59" y="1119.24" width="10" height="10" fill="#1E90FF"/>
<rect x="355.78" y="1119.24" width="10" height="10" fill="#1E90FF"/>
<rect x="364.97" y="1125.08" width="10" height="10" fill="#1E90FF"/>
<rect x="374.16" y="1133.2" width="10" height="10" fill="#1E90FF"/>
<rect x="383.35" y="1141.07" width="10" height="10" fill="#1E90FF"/>
<rect x="392.54" y="1155.03" width="10" height="10" fill="#1E90FF"/>
<rect x="401.73" y="1142.6" width="10" height="10" fill="#1E90FF"/>
<rect x="410.92" y="1137.52" width="10" height="10" fill="#1E90FF"/>
<rect x="420.11" y="1144.37" width="10" height="10" fill="#1E90FF"/>
<rect x="429.3" y="1132.19" width="10" height="10" fill="#1E90FF"/>
<rect x="438.49" y="1134.98" width="10" height="10" fill="#1E90FF"/>
<rect x="447.68" y="1130.41" width="10" height="10" fill="#1E90FF"/>
<rect x="456.87" y="1111.12" width="10" height="10" fill="#1E90FF"/>
<rect x="466.06" y="1103.5" width="10" height="10" fill="#1E90FF"/>
<rect x="475.25" y="1115.43" width="10" height="10" fill="#1E90FF"/>
<rect x="484.44" y="1117.21" width="10" height="10" fill="#1E90FF"/>
<rect x="493.63" y="1126.86" width="10" height="10" fill="#1E90FF"/>
<rect x="502.82" y="1110.1" width="10" height="10" fill="#1E90FF"/>
<rect x="512.01" y="1107.82" width="10" height="10" fill="#1E90FF"/>
</g>
<rect x="66.7" y="1065.6" width="459.5" height="355.4" fill="none" stroke="#333333" stroke-width="1.2"/>
<path d="M66.7 1421v-4M66.7 1065.6v4M158.6 1421v-4M158.6 1065.6v4M250.5 1421v-4M250.5 1065.6v4M342.4 1421v-4M342.4 1065.6v4M434.3 1421v-4M434.3 1065.6v4M526.2 1421v-4M526.2 1065.6v4M66.7 1395.61h4M526.2 1395.61h-4M66.7 1344.84h4M526.2 1344.84h-4M66.7 1294.07h4M526.2 1294.07h-4M66.7 1243.3h4M526.2 1243.3h-4M66.7 1192.53h4M526.2 1192.53h-4M66.7 1141.76h4M526.2 1141.76h-4M66.7 1090.99h4M526.2 1090.99h-4" stroke="#333333" stroke-width="1" fill="none"/>
<text x="66.7" y="1437" font-size="16.74" font-family='"Liberation Sans", sans-serif' text-anchor="middle" textLength="9.8" lengthAdjust="spacingAndGlyphs">0</text>
<text x="158.6" y="1437" font-size="16.74" font-family='"Liberation Sans", sans-serif' text-anchor="middle" textLength="29.4" lengthAdjust="spacingAndGlyphs">100</text>
<text x="250.5" y="1437" font-size="16.74" font-family='"Liberation Sans", sans-serif' text-anchor="middle" textLength="29.4" lengthAdjust="spacingAndGlyphs">200</text>
<text x="342.4" y="1437" font-size="16.74" font-family='"Liberation Sans", sans-serif' text-anchor="middle" textLength="29.4" lengthAdjust="spacingAndGlyphs">300</text>
<text x="434.3" y="1437" font-size="16.74" font-family='"Liberation Sans", sans-serif' text-anchor="middle" textLength="29.4" lengthAdjust="spacingAndGlyphs">400</text>
<text x="526.2" y="1437" font-size="16.74" font-family='"Liberation Sans", sans-serif' text-anchor="middle" textLength="29.4" lengthAdjust="spacingAndGlyphs">500</text>
<text x="61.2" y="1400.61" font-size="16.74" font-family='"Liberation Sans", sans-serif' text-anchor="end" textLength="9.8" lengthAdjust="spacingAndGlyphs">0</text>
<text x="61.2" y="1349.84" font-size="16.74" font-family='"Liberation Sans", sans-serif' text-anchor="end" textLength="19.6" lengthAdjust="spacingAndGlyphs">20</text>
<text x="61.2" y="1299.06" font-size="16.74" font-family='"Liberation Sans", sans-serif' text-anchor="end" textLength="19.6" lengthAdjust="spacingAndGlyphs">40</text>
<text x="61.2" y="1248.29" font-size="16.74" font-family='"Liberation Sans", sans-serif' text-anchor="end" textLength="19.6" lengthAdjust="spacingAndGlyphs">60</text>
<text x="61.2" y="1197.52" font-size="16.74" font-family='"Liberation Sans", sans-serif' text-anchor="end" textLength="19.6" lengthAdjust="spacingAndGlyphs">80</text>
<text x="61.2" y="1146.75" font-size="16.74" font-family='"Liberation Sans", sans-serif' text-anchor="end" textLength="29.4" lengthAdjust="spacingAndGlyphs">100</text>
<text x="61.2" y="1095.98" font-size="16.74" font-family='"Liberation Sans", sans-serif' text-anchor="end" textLength="29.4" lengthAdjust="spacingAndGlyphs">120</text>
<path d="M181.1 1036.9H206.9" stroke="#EE1111" stroke-width="1.05"/>
<path d="M181.1 1028.4v17M206.9 1028.4v17" stroke="#EE1111" stroke-width="2"/>
<path d="M181.1 1031.3L186.3 1041.66L175.9 1041.66Z" fill="#EE1111"/>
<path d="M206.9 1031.3L212.1 1041.66L201.7 1041.66Z" fill="#EE1111"/>
<text x="213.3" y="1043.09" font-size="17.2" font-family='"Liberation Sans", sans-serif' text-anchor="start" textLength="39" lengthAdjust="spacingAndGlyphs">GRU</text>
<path d="M262.6 1036.9H288.4" stroke="#FFA500" stroke-width="1.05"/>
<path d="M262.6 1028.4v17M288.4 1028.4v17" stroke="#FFA500" stroke-width="2"/>
<path d="M262.6 1031.3L267.8 1041.66L257.4 1041.66Z" fill="#FFA500"/>
<path d="M288.4 1031.3L293.6 1041.66L283.2 1041.66Z" fill="#FFA500"/>
<text x="294.8" y="1043.09" font-size="17.2" font-family='"Liberation Sans", sans-serif' text-anchor="start" textLength="79" lengthAdjust="spacingAndGlyphs">reg_GRU</text>
<path d="M383.4 1036.9H409.8" stroke="#1E90FF" stroke-width="1.05"/>
<path d="M383.4 1028.4v17M409.8 1028.4v17" stroke="#1E90FF" stroke-width="2"/>
<rect x="378.4" y="1031.9" width="10" height="10" fill="#1E90FF"/>
<rect x="404.8" y="1031.9" width="10" height="10" fill="#1E90FF"/>
<text x="416.3" y="1043.09" font-size="17.2" font-family='"Liberation Sans", sans-serif' text-anchor="start" textLength="46.1" lengthAdjust="spacingAndGlyphs">RPSP</text>
<g transform="translate(23.7 1424.2) rotate(-90)">
<text x="0" y="0" font-size="22.3" font-family='"Liberation Sans", sans-serif' text-anchor="start" textLength="314.4" lengthAdjust="spacingAndGlyphs">Swimmer PSR vs. GRU filtering</text>
<text x="321.9" y="0" font-size="23.42" font-family='"Liberation Serif", serif' text-anchor="start" textLength="14.5" lengthAdjust="spacingAndGlyphs" font-style="italic">R</text>
<text x="334.2" y="4.46" font-size="17.84" font-family='"Liberation Serif", serif' text-anchor="start" textLength="27.5" lengthAdjust="spacingAndGlyphs" font-style="italic">iter</text>
</g>
<text x="154.7" y="1461.5" font-size="21" font-family='"Liberation Sans", sans-serif' textLength="284.1" lengthAdjust="spacingAndGlyphs">experience (<tspan font-family='"Liberation Serif", serif'>5000</tspan> timesteps)</text>
<text x="272.3" y="1515" font-size="31" font-family='"Liberation Serif", serif' text-anchor="middle" textLength="37" lengthAdjust="spacingAndGlyphs">(g)</text>
<path d="M600.5 1223.4H1688" stroke="#000" stroke-width="1.4"/>
<path d="M847.5 1182V1472.5" stroke="#000" stroke-width="1.3"/>
<path d="M1051.5 1182V1472.5" stroke="#000" stroke-width="1.3"/>
<path d="M1269.4 1182V1472.5" stroke="#000" stroke-width="1.3"/>
<path d="M1478.4 1182V1472.5" stroke="#000" stroke-width="1.3"/>
<text x="622.5" y="1211.3" font-size="35" font-family='"Liberation Serif", serif' text-anchor="start" textLength="119" lengthAdjust="spacingAndGlyphs" font-weight="bold">models</text>
<text x="949.5" y="1211.3" font-size="35" font-family='"Liberation Serif", serif' text-anchor="middle" textLength="159.6" lengthAdjust="spacingAndGlyphs" font-weight="bold">Swimmer</text>
<text x="1160.6" y="1211.3" font-size="35" font-family='"Liberation Serif", serif' text-anchor="middle" textLength="128" lengthAdjust="spacingAndGlyphs" font-weight="bold">Hopper</text>
<text x="1374.5" y="1211.3" font-size="35" font-family='"Liberation Serif", serif' text-anchor="middle" textLength="162" lengthAdjust="spacingAndGlyphs" font-weight="bold">Walker2d</text>
<text x="1583.8" y="1211.3" font-size="35" font-family='"Liberation Serif", serif' text-anchor="middle" textLength="166" lengthAdjust="spacingAndGlyphs" font-weight="bold">Cart-Pole</text>
<text x="622.5" y="1253.9" font-size="35" font-family='"Liberation Serif", serif' text-anchor="start" textLength="52" lengthAdjust="spacingAndGlyphs">FM</text>
<text x="949.5" y="1253.9" font-size="34.5" font-family='"Liberation Serif", serif' text-anchor="middle" textLength="129.1" lengthAdjust="spacingAndGlyphs">41.6<tspan font-size="39.5">±</tspan>3.5</text>
<text x="1160.3" y="1253.9" font-size="34.5" font-family='"Liberation Serif", serif' text-anchor="middle" textLength="146.2" lengthAdjust="spacingAndGlyphs">242.0<tspan font-size="39.5">±</tspan>5.1</text>
<text x="1374.7" y="1253.9" font-size="34.5" font-family='"Liberation Serif", serif' text-anchor="middle" textLength="163.3" lengthAdjust="spacingAndGlyphs">285.1<tspan font-size="39.5">±</tspan>25.0</text>
<text x="1583.5" y="1253.9" font-size="34.5" font-family='"Liberation Serif", serif' text-anchor="middle" textLength="129.1" lengthAdjust="spacingAndGlyphs">12.7<tspan font-size="39.5">±</tspan>0.6</text>
<text x="622.5" y="1295.4" font-size="35" font-family='"Liberation Serif", serif' text-anchor="start" textLength="75" lengthAdjust="spacingAndGlyphs">GRU</text>
<text x="949.5" y="1295.4" font-size="34.5" font-family='"Liberation Serif", serif' text-anchor="middle" textLength="129.1" lengthAdjust="spacingAndGlyphs">22.0<tspan font-size="39.5">±</tspan>2.0</text>
<text x="1160.3" y="1295.4" font-size="34.5" font-family='"Liberation Serif", serif' text-anchor="middle" textLength="146.2" lengthAdjust="spacingAndGlyphs">235.2<tspan font-size="39.5">±</tspan>9.8</text>
<text x="1374.7" y="1295.4" font-size="34.5" font-family='"Liberation Serif", serif' text-anchor="middle" textLength="163.3" lengthAdjust="spacingAndGlyphs">204.5<tspan font-size="39.5">±</tspan>16.3</text>
<text x="1583.5" y="1295.4" font-size="34.5" font-family='"Liberation Serif", serif' text-anchor="middle" textLength="146.2" lengthAdjust="spacingAndGlyphs">27.95<tspan font-size="39.5">±</tspan>2.3</text>
<text x="622.5" y="1336.5" font-size="35" font-family='"Liberation Serif", serif' text-anchor="start" textLength="149.6" lengthAdjust="spacingAndGlyphs">RPSP-Alt</text>
<text x="949.5" y="1336.5" font-size="34.5" font-family='"Liberation Serif", serif' text-anchor="middle" textLength="129.1" lengthAdjust="spacingAndGlyphs">34.9<tspan font-size="39.5">±</tspan>1.1</text>
<text x="1160.3" y="1336.5" font-size="34.5" font-family='"Liberation Serif", serif' text-anchor="middle" textLength="146.2" lengthAdjust="spacingAndGlyphs">307.4<tspan font-size="39.5">±</tspan>5.1</text>
<text x="1374.7" y="1336.5" font-size="34.5" font-family='"Liberation Serif", serif' text-anchor="middle" textLength="163.3" lengthAdjust="spacingAndGlyphs">345.8<tspan font-size="39.5">±</tspan>12.6</text>
<text x="1583.5" y="1336.5" font-size="34.5" font-family='"Liberation Serif", serif' text-anchor="middle" textLength="129.1" lengthAdjust="spacingAndGlyphs">22.9<tspan font-size="39.5">±</tspan>1.0</text>
<text x="622.5" y="1378.1" font-size="35" font-family='"Liberation Serif", serif' text-anchor="start" textLength="202" lengthAdjust="spacingAndGlyphs">RPSP-VRPG</text>
<text x="949.5" y="1378.1" font-size="34.5" font-family='"Liberation Serif", serif' text-anchor="middle" textLength="129.1" lengthAdjust="spacingAndGlyphs">44.9<tspan font-size="39.5">±</tspan>2.8</text>
<text x="1160.3" y="1378.1" font-size="34.5" font-family='"Liberation Serif", serif' text-anchor="middle" textLength="163.3" lengthAdjust="spacingAndGlyphs">305.0<tspan font-size="39.5">±</tspan>10.9</text>
<text x="1374.7" y="1378.1" font-size="34.5" font-family='"Liberation Serif", serif' text-anchor="middle" textLength="163.3" lengthAdjust="spacingAndGlyphs">287.8<tspan font-size="39.5">±</tspan>21.1</text>
<text x="1583.5" y="1378.1" font-size="34.5" font-family='"Liberation Serif", serif' text-anchor="middle" textLength="129.1" lengthAdjust="spacingAndGlyphs">23.8<tspan font-size="39.5">±</tspan>2.3</text>
<text x="622.5" y="1419.2" font-size="35" font-family='"Liberation Serif", serif' text-anchor="start" textLength="197" lengthAdjust="spacingAndGlyphs">reactive_PSR</text>
<text x="949.5" y="1419.2" font-size="34.5" font-family='"Liberation Serif", serif' text-anchor="middle" textLength="129.1" lengthAdjust="spacingAndGlyphs">44.9<tspan font-size="39.5">±</tspan>2.4</text>
<text x="1160.3" y="1419.2" font-size="34.5" font-family='"Liberation Serif", serif' text-anchor="middle" textLength="163.3" lengthAdjust="spacingAndGlyphs">165.4<tspan font-size="39.5">±</tspan>14.0</text>
<text x="1374.7" y="1419.2" font-size="34.5" font-family='"Liberation Serif", serif' text-anchor="middle" textLength="163.3" lengthAdjust="spacingAndGlyphs">184.9<tspan font-size="39.5">±</tspan>35.8</text>
<text x="1583.5" y="1419.2" font-size="34.5" font-family='"Liberation Serif", serif' text-anchor="middle" textLength="112" lengthAdjust="spacingAndGlyphs">4.9<tspan font-size="39.5">±</tspan>1.0</text>
<text x="622.5" y="1461.1" font-size="35" font-family='"Liberation Serif", serif' text-anchor="start" textLength="134" lengthAdjust="spacingAndGlyphs">reg_GRU</text>
<text x="949.5" y="1461.1" font-size="34.5" font-family='"Liberation Serif", serif' text-anchor="middle" textLength="129.1" lengthAdjust="spacingAndGlyphs">28.9<tspan font-size="39.5">±</tspan>1.7</text>
<text x="1160.3" y="1461.1" font-size="34.5" font-family='"Liberation Serif", serif' text-anchor="middle" textLength="172.8" lengthAdjust="spacingAndGlyphs">260.6.4<tspan font-size="39.5">±</tspan>3.6</text>
<text x="1374.7" y="1461.1" font-size="34.5" font-family='"Liberation Serif", serif' text-anchor="middle" textLength="163.3" lengthAdjust="spacingAndGlyphs">327.7<tspan font-size="39.5">±</tspan>12.8</text>
<text x="1583.5" y="1461.1" font-size="34.5" font-family='"Liberation Serif", serif' text-anchor="middle" textLength="129.1" lengthAdjust="spacingAndGlyphs">22.9<tspan font-size="39.5">±</tspan>0.3</text>
<text x="1144.5" y="1515" font-size="31" font-family='"Liberation Serif", serif' text-anchor="middle" textLength="37.5" lengthAdjust="spacingAndGlyphs">(h)</text>
</svg></body></html>
